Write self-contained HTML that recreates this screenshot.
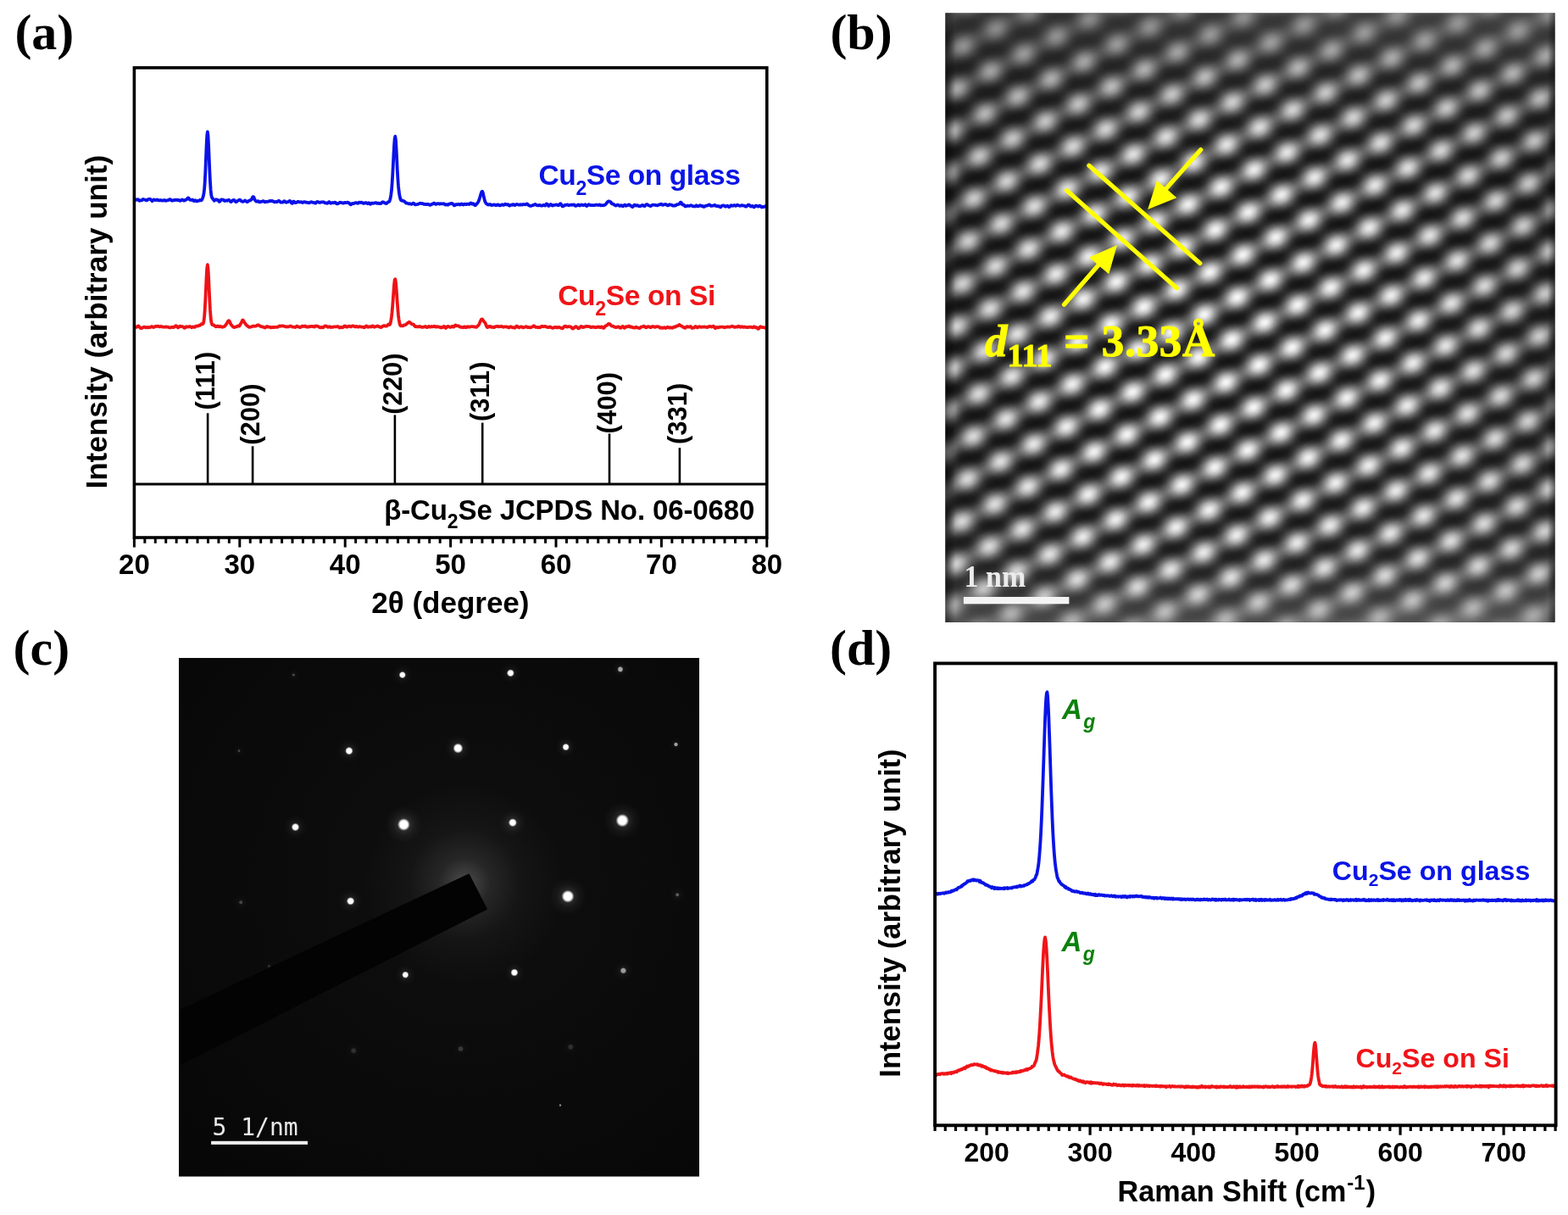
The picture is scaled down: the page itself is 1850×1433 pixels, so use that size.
<!DOCTYPE html><html><head><meta charset="utf-8"><title>Cu2Se characterization</title>
<style>html,body{margin:0;padding:0;background:#fff}svg{display:block}.fr{mix-blend-mode:plus-lighter}@supports not (mix-blend-mode:plus-lighter){.fr{mix-blend-mode:screen}}</style></head><body>
<svg width="1850" height="1433" viewBox="0 0 1850 1433">
<rect width="1850" height="1433" fill="#fff"/>
<defs><clipPath id="cb"><rect x="1115.3" y="15.2" width="719.4" height="718.7"/></clipPath>
<linearGradient id="fr0" gradientUnits="userSpaceOnUse" x1="1492.03" y1="380.34" x2="1511.27" y2="416.9" spreadMethod="repeat"><stop offset="0" stop-color="rgb(142,142,142)"/><stop offset="0.06" stop-color="rgb(136,136,136)"/><stop offset="0.12" stop-color="rgb(121,121,121)"/><stop offset="0.19" stop-color="rgb(98,98,98)"/><stop offset="0.25" stop-color="rgb(71,71,71)"/><stop offset="0.31" stop-color="rgb(44,44,44)"/><stop offset="0.38" stop-color="rgb(21,21,21)"/><stop offset="0.44" stop-color="rgb(5,5,5)"/><stop offset="0.5" stop-color="rgb(0,0,0)"/><stop offset="0.56" stop-color="rgb(5,5,5)"/><stop offset="0.62" stop-color="rgb(21,21,21)"/><stop offset="0.69" stop-color="rgb(44,44,44)"/><stop offset="0.75" stop-color="rgb(71,71,71)"/><stop offset="0.81" stop-color="rgb(98,98,98)"/><stop offset="0.88" stop-color="rgb(121,121,121)"/><stop offset="0.94" stop-color="rgb(136,136,136)"/><stop offset="1" stop-color="rgb(142,142,142)"/></linearGradient>
<linearGradient id="fr1" gradientUnits="userSpaceOnUse" x1="1492.03" y1="380.34" x2="1520.05" y2="349.79" spreadMethod="repeat"><stop offset="0" stop-color="rgb(73,73,73)"/><stop offset="0.06" stop-color="rgb(70,70,70)"/><stop offset="0.12" stop-color="rgb(62,62,62)"/><stop offset="0.19" stop-color="rgb(50,50,50)"/><stop offset="0.25" stop-color="rgb(36,36,36)"/><stop offset="0.31" stop-color="rgb(22,22,22)"/><stop offset="0.38" stop-color="rgb(11,11,11)"/><stop offset="0.44" stop-color="rgb(3,3,3)"/><stop offset="0.5" stop-color="rgb(0,0,0)"/><stop offset="0.56" stop-color="rgb(3,3,3)"/><stop offset="0.62" stop-color="rgb(11,11,11)"/><stop offset="0.69" stop-color="rgb(22,22,22)"/><stop offset="0.75" stop-color="rgb(36,36,36)"/><stop offset="0.81" stop-color="rgb(50,50,50)"/><stop offset="0.88" stop-color="rgb(62,62,62)"/><stop offset="0.94" stop-color="rgb(70,70,70)"/><stop offset="1" stop-color="rgb(73,73,73)"/></linearGradient>
<linearGradient id="fr2" gradientUnits="userSpaceOnUse" x1="1492.03" y1="380.34" x2="1527.67" y2="385.05" spreadMethod="repeat"><stop offset="0" stop-color="rgb(40,40,40)"/><stop offset="0.06" stop-color="rgb(39,39,39)"/><stop offset="0.12" stop-color="rgb(35,35,35)"/><stop offset="0.19" stop-color="rgb(28,28,28)"/><stop offset="0.25" stop-color="rgb(20,20,20)"/><stop offset="0.31" stop-color="rgb(12,12,12)"/><stop offset="0.38" stop-color="rgb(6,6,6)"/><stop offset="0.44" stop-color="rgb(2,2,2)"/><stop offset="0.5" stop-color="rgb(0,0,0)"/><stop offset="0.56" stop-color="rgb(2,2,2)"/><stop offset="0.62" stop-color="rgb(6,6,6)"/><stop offset="0.69" stop-color="rgb(12,12,12)"/><stop offset="0.75" stop-color="rgb(20,20,20)"/><stop offset="0.81" stop-color="rgb(28,28,28)"/><stop offset="0.88" stop-color="rgb(35,35,35)"/><stop offset="0.94" stop-color="rgb(39,39,39)"/><stop offset="1" stop-color="rgb(40,40,40)"/></linearGradient>
<filter id="hct" x="0" y="0" width="1" height="1" color-interpolation-filters="sRGB"><feComponentTransfer><feFuncR type="table" tableValues="0 0 0 0 0 0 0.02 0.04 0.07 0.1 0.13 0.16 0.2 0.23 0.27 0.3 0.34 0.38 0.41 0.45 0.49 0.53 0.57 0.61 0.65 0.7 0.74 0.78 0.82 0.87 0.91 0.96 1"/><feFuncG type="table" tableValues="0 0 0 0 0 0 0.02 0.04 0.07 0.1 0.13 0.16 0.2 0.23 0.27 0.3 0.34 0.38 0.41 0.45 0.49 0.53 0.57 0.61 0.65 0.7 0.74 0.78 0.82 0.87 0.91 0.96 1"/><feFuncB type="table" tableValues="0 0 0 0 0 0 0.02 0.04 0.07 0.1 0.13 0.16 0.2 0.23 0.27 0.3 0.34 0.38 0.41 0.45 0.49 0.53 0.57 0.61 0.65 0.7 0.74 0.78 0.82 0.87 0.91 0.96 1"/></feComponentTransfer></filter>
<filter id="mbl" x="-0.1" y="-0.1" width="1.2" height="1.2" color-interpolation-filters="sRGB"><feGaussianBlur stdDeviation="18"/></filter>
</defs>
<g clip-path="url(#cb)"><g style="isolation:isolate">
<g filter="url(#hct)">
<rect x="1115.3" y="15.2" width="719.4" height="718.7" fill="#000"/>
<rect x="1115.3" y="15.2" width="719.4" height="718.7" fill="url(#fr0)" class="fr"/>
<rect x="1115.3" y="15.2" width="719.4" height="718.7" fill="url(#fr1)" class="fr"/>
<rect x="1115.3" y="15.2" width="719.4" height="718.7" fill="url(#fr2)" class="fr"/>
</g>
<g filter="url(#mbl)" style="mix-blend-mode:multiply">
<rect x="1055.3" y="-44.8" width="30.5" height="30.5" fill="rgb(77,77,77)"/>
<rect x="1085.3" y="-44.8" width="30.5" height="30.5" fill="rgb(77,77,77)"/>
<rect x="1115.3" y="-44.8" width="30.5" height="30.5" fill="rgb(77,77,77)"/>
<rect x="1145.3" y="-44.8" width="30.5" height="30.5" fill="rgb(77,77,77)"/>
<rect x="1175.3" y="-44.8" width="30.5" height="30.5" fill="rgb(77,77,77)"/>
<rect x="1205.3" y="-44.8" width="30.5" height="30.5" fill="rgb(78,78,78)"/>
<rect x="1235.3" y="-44.8" width="30.5" height="30.5" fill="rgb(78,78,78)"/>
<rect x="1265.3" y="-44.8" width="30.5" height="30.5" fill="rgb(78,78,78)"/>
<rect x="1295.3" y="-44.8" width="30.5" height="30.5" fill="rgb(78,78,78)"/>
<rect x="1325.3" y="-44.8" width="30.5" height="30.5" fill="rgb(78,78,78)"/>
<rect x="1355.3" y="-44.8" width="30.5" height="30.5" fill="rgb(78,78,78)"/>
<rect x="1385.3" y="-44.8" width="30.5" height="30.5" fill="rgb(77,77,77)"/>
<rect x="1415.3" y="-44.8" width="30.5" height="30.5" fill="rgb(77,77,77)"/>
<rect x="1445.3" y="-44.8" width="30.5" height="30.5" fill="rgb(77,77,77)"/>
<rect x="1475.3" y="-44.8" width="30.5" height="30.5" fill="rgb(77,77,77)"/>
<rect x="1505.3" y="-44.8" width="30.5" height="30.5" fill="rgb(76,76,76)"/>
<rect x="1535.3" y="-44.8" width="30.5" height="30.5" fill="rgb(76,76,76)"/>
<rect x="1565.3" y="-44.8" width="30.5" height="30.5" fill="rgb(76,76,76)"/>
<rect x="1595.3" y="-44.8" width="30.5" height="30.5" fill="rgb(75,75,75)"/>
<rect x="1625.3" y="-44.8" width="30.5" height="30.5" fill="rgb(75,75,75)"/>
<rect x="1655.3" y="-44.8" width="30.5" height="30.5" fill="rgb(75,75,75)"/>
<rect x="1685.3" y="-44.8" width="30.5" height="30.5" fill="rgb(74,74,74)"/>
<rect x="1715.3" y="-44.8" width="30.5" height="30.5" fill="rgb(73,73,73)"/>
<rect x="1745.3" y="-44.8" width="30.5" height="30.5" fill="rgb(72,72,72)"/>
<rect x="1775.3" y="-44.8" width="30.5" height="30.5" fill="rgb(71,71,71)"/>
<rect x="1805.3" y="-44.8" width="30.5" height="30.5" fill="rgb(70,70,70)"/>
<rect x="1835.3" y="-44.8" width="30.5" height="30.5" fill="rgb(70,70,70)"/>
<rect x="1865.3" y="-44.8" width="30.5" height="30.5" fill="rgb(70,70,70)"/>
<rect x="1055.3" y="-14.8" width="30.5" height="30.5" fill="rgb(77,77,77)"/>
<rect x="1085.3" y="-14.8" width="30.5" height="30.5" fill="rgb(77,77,77)"/>
<rect x="1115.3" y="-14.8" width="30.5" height="30.5" fill="rgb(77,77,77)"/>
<rect x="1145.3" y="-14.8" width="30.5" height="30.5" fill="rgb(77,77,77)"/>
<rect x="1175.3" y="-14.8" width="30.5" height="30.5" fill="rgb(77,77,77)"/>
<rect x="1205.3" y="-14.8" width="30.5" height="30.5" fill="rgb(78,78,78)"/>
<rect x="1235.3" y="-14.8" width="30.5" height="30.5" fill="rgb(78,78,78)"/>
<rect x="1265.3" y="-14.8" width="30.5" height="30.5" fill="rgb(78,78,78)"/>
<rect x="1295.3" y="-14.8" width="30.5" height="30.5" fill="rgb(78,78,78)"/>
<rect x="1325.3" y="-14.8" width="30.5" height="30.5" fill="rgb(78,78,78)"/>
<rect x="1355.3" y="-14.8" width="30.5" height="30.5" fill="rgb(78,78,78)"/>
<rect x="1385.3" y="-14.8" width="30.5" height="30.5" fill="rgb(77,77,77)"/>
<rect x="1415.3" y="-14.8" width="30.5" height="30.5" fill="rgb(77,77,77)"/>
<rect x="1445.3" y="-14.8" width="30.5" height="30.5" fill="rgb(77,77,77)"/>
<rect x="1475.3" y="-14.8" width="30.5" height="30.5" fill="rgb(77,77,77)"/>
<rect x="1505.3" y="-14.8" width="30.5" height="30.5" fill="rgb(76,76,76)"/>
<rect x="1535.3" y="-14.8" width="30.5" height="30.5" fill="rgb(76,76,76)"/>
<rect x="1565.3" y="-14.8" width="30.5" height="30.5" fill="rgb(76,76,76)"/>
<rect x="1595.3" y="-14.8" width="30.5" height="30.5" fill="rgb(75,75,75)"/>
<rect x="1625.3" y="-14.8" width="30.5" height="30.5" fill="rgb(75,75,75)"/>
<rect x="1655.3" y="-14.8" width="30.5" height="30.5" fill="rgb(75,75,75)"/>
<rect x="1685.3" y="-14.8" width="30.5" height="30.5" fill="rgb(74,74,74)"/>
<rect x="1715.3" y="-14.8" width="30.5" height="30.5" fill="rgb(73,73,73)"/>
<rect x="1745.3" y="-14.8" width="30.5" height="30.5" fill="rgb(72,72,72)"/>
<rect x="1775.3" y="-14.8" width="30.5" height="30.5" fill="rgb(71,71,71)"/>
<rect x="1805.3" y="-14.8" width="30.5" height="30.5" fill="rgb(70,70,70)"/>
<rect x="1835.3" y="-14.8" width="30.5" height="30.5" fill="rgb(70,70,70)"/>
<rect x="1865.3" y="-14.8" width="30.5" height="30.5" fill="rgb(70,70,70)"/>
<rect x="1055.3" y="15.2" width="30.5" height="30.5" fill="rgb(88,88,88)"/>
<rect x="1085.3" y="15.2" width="30.5" height="30.5" fill="rgb(88,88,88)"/>
<rect x="1115.3" y="15.2" width="30.5" height="30.5" fill="rgb(88,88,88)"/>
<rect x="1145.3" y="15.2" width="30.5" height="30.5" fill="rgb(89,89,89)"/>
<rect x="1175.3" y="15.2" width="30.5" height="30.5" fill="rgb(89,89,89)"/>
<rect x="1205.3" y="15.2" width="30.5" height="30.5" fill="rgb(90,90,90)"/>
<rect x="1235.3" y="15.2" width="30.5" height="30.5" fill="rgb(90,90,90)"/>
<rect x="1265.3" y="15.2" width="30.5" height="30.5" fill="rgb(91,91,91)"/>
<rect x="1295.3" y="15.2" width="30.5" height="30.5" fill="rgb(91,91,91)"/>
<rect x="1325.3" y="15.2" width="30.5" height="30.5" fill="rgb(91,91,91)"/>
<rect x="1355.3" y="15.2" width="30.5" height="30.5" fill="rgb(91,91,91)"/>
<rect x="1385.3" y="15.2" width="30.5" height="30.5" fill="rgb(91,91,91)"/>
<rect x="1415.3" y="15.2" width="30.5" height="30.5" fill="rgb(91,91,91)"/>
<rect x="1445.3" y="15.2" width="30.5" height="30.5" fill="rgb(91,91,91)"/>
<rect x="1475.3" y="15.2" width="30.5" height="30.5" fill="rgb(91,91,91)"/>
<rect x="1505.3" y="15.2" width="30.5" height="30.5" fill="rgb(90,90,90)"/>
<rect x="1535.3" y="15.2" width="30.5" height="30.5" fill="rgb(90,90,90)"/>
<rect x="1565.3" y="15.2" width="30.5" height="30.5" fill="rgb(89,89,89)"/>
<rect x="1595.3" y="15.2" width="30.5" height="30.5" fill="rgb(89,89,89)"/>
<rect x="1625.3" y="15.2" width="30.5" height="30.5" fill="rgb(89,89,89)"/>
<rect x="1655.3" y="15.2" width="30.5" height="30.5" fill="rgb(88,88,88)"/>
<rect x="1685.3" y="15.2" width="30.5" height="30.5" fill="rgb(87,87,87)"/>
<rect x="1715.3" y="15.2" width="30.5" height="30.5" fill="rgb(87,87,87)"/>
<rect x="1745.3" y="15.2" width="30.5" height="30.5" fill="rgb(86,86,86)"/>
<rect x="1775.3" y="15.2" width="30.5" height="30.5" fill="rgb(85,85,85)"/>
<rect x="1805.3" y="15.2" width="30.5" height="30.5" fill="rgb(85,85,85)"/>
<rect x="1835.3" y="15.2" width="30.5" height="30.5" fill="rgb(84,84,84)"/>
<rect x="1865.3" y="15.2" width="30.5" height="30.5" fill="rgb(84,84,84)"/>
<rect x="1055.3" y="45.2" width="30.5" height="30.5" fill="rgb(110,110,110)"/>
<rect x="1085.3" y="45.2" width="30.5" height="30.5" fill="rgb(110,110,110)"/>
<rect x="1115.3" y="45.2" width="30.5" height="30.5" fill="rgb(111,111,111)"/>
<rect x="1145.3" y="45.2" width="30.5" height="30.5" fill="rgb(112,112,112)"/>
<rect x="1175.3" y="45.2" width="30.5" height="30.5" fill="rgb(113,113,113)"/>
<rect x="1205.3" y="45.2" width="30.5" height="30.5" fill="rgb(114,114,114)"/>
<rect x="1235.3" y="45.2" width="30.5" height="30.5" fill="rgb(115,115,115)"/>
<rect x="1265.3" y="45.2" width="30.5" height="30.5" fill="rgb(117,117,117)"/>
<rect x="1295.3" y="45.2" width="30.5" height="30.5" fill="rgb(117,117,117)"/>
<rect x="1325.3" y="45.2" width="30.5" height="30.5" fill="rgb(117,117,117)"/>
<rect x="1355.3" y="45.2" width="30.5" height="30.5" fill="rgb(118,118,118)"/>
<rect x="1385.3" y="45.2" width="30.5" height="30.5" fill="rgb(118,118,118)"/>
<rect x="1415.3" y="45.2" width="30.5" height="30.5" fill="rgb(118,118,118)"/>
<rect x="1445.3" y="45.2" width="30.5" height="30.5" fill="rgb(118,118,118)"/>
<rect x="1475.3" y="45.2" width="30.5" height="30.5" fill="rgb(118,118,118)"/>
<rect x="1505.3" y="45.2" width="30.5" height="30.5" fill="rgb(118,118,118)"/>
<rect x="1535.3" y="45.2" width="30.5" height="30.5" fill="rgb(117,117,117)"/>
<rect x="1565.3" y="45.2" width="30.5" height="30.5" fill="rgb(116,116,116)"/>
<rect x="1595.3" y="45.2" width="30.5" height="30.5" fill="rgb(116,116,116)"/>
<rect x="1625.3" y="45.2" width="30.5" height="30.5" fill="rgb(115,115,115)"/>
<rect x="1655.3" y="45.2" width="30.5" height="30.5" fill="rgb(115,115,115)"/>
<rect x="1685.3" y="45.2" width="30.5" height="30.5" fill="rgb(114,114,114)"/>
<rect x="1715.3" y="45.2" width="30.5" height="30.5" fill="rgb(114,114,114)"/>
<rect x="1745.3" y="45.2" width="30.5" height="30.5" fill="rgb(113,113,113)"/>
<rect x="1775.3" y="45.2" width="30.5" height="30.5" fill="rgb(113,113,113)"/>
<rect x="1805.3" y="45.2" width="30.5" height="30.5" fill="rgb(112,112,112)"/>
<rect x="1835.3" y="45.2" width="30.5" height="30.5" fill="rgb(112,112,112)"/>
<rect x="1865.3" y="45.2" width="30.5" height="30.5" fill="rgb(112,112,112)"/>
<rect x="1055.3" y="75.2" width="30.5" height="30.5" fill="rgb(133,133,133)"/>
<rect x="1085.3" y="75.2" width="30.5" height="30.5" fill="rgb(133,133,133)"/>
<rect x="1115.3" y="75.2" width="30.5" height="30.5" fill="rgb(134,134,134)"/>
<rect x="1145.3" y="75.2" width="30.5" height="30.5" fill="rgb(136,136,136)"/>
<rect x="1175.3" y="75.2" width="30.5" height="30.5" fill="rgb(138,138,138)"/>
<rect x="1205.3" y="75.2" width="30.5" height="30.5" fill="rgb(140,140,140)"/>
<rect x="1235.3" y="75.2" width="30.5" height="30.5" fill="rgb(142,142,142)"/>
<rect x="1265.3" y="75.2" width="30.5" height="30.5" fill="rgb(145,145,145)"/>
<rect x="1295.3" y="75.2" width="30.5" height="30.5" fill="rgb(147,147,147)"/>
<rect x="1325.3" y="75.2" width="30.5" height="30.5" fill="rgb(149,149,149)"/>
<rect x="1355.3" y="75.2" width="30.5" height="30.5" fill="rgb(151,151,151)"/>
<rect x="1385.3" y="75.2" width="30.5" height="30.5" fill="rgb(152,152,152)"/>
<rect x="1415.3" y="75.2" width="30.5" height="30.5" fill="rgb(154,154,154)"/>
<rect x="1445.3" y="75.2" width="30.5" height="30.5" fill="rgb(156,156,156)"/>
<rect x="1475.3" y="75.2" width="30.5" height="30.5" fill="rgb(157,157,157)"/>
<rect x="1505.3" y="75.2" width="30.5" height="30.5" fill="rgb(156,156,156)"/>
<rect x="1535.3" y="75.2" width="30.5" height="30.5" fill="rgb(155,155,155)"/>
<rect x="1565.3" y="75.2" width="30.5" height="30.5" fill="rgb(155,155,155)"/>
<rect x="1595.3" y="75.2" width="30.5" height="30.5" fill="rgb(154,154,154)"/>
<rect x="1625.3" y="75.2" width="30.5" height="30.5" fill="rgb(153,153,153)"/>
<rect x="1655.3" y="75.2" width="30.5" height="30.5" fill="rgb(152,152,152)"/>
<rect x="1685.3" y="75.2" width="30.5" height="30.5" fill="rgb(150,150,150)"/>
<rect x="1715.3" y="75.2" width="30.5" height="30.5" fill="rgb(148,148,148)"/>
<rect x="1745.3" y="75.2" width="30.5" height="30.5" fill="rgb(146,146,146)"/>
<rect x="1775.3" y="75.2" width="30.5" height="30.5" fill="rgb(144,144,144)"/>
<rect x="1805.3" y="75.2" width="30.5" height="30.5" fill="rgb(142,142,142)"/>
<rect x="1835.3" y="75.2" width="30.5" height="30.5" fill="rgb(141,141,141)"/>
<rect x="1865.3" y="75.2" width="30.5" height="30.5" fill="rgb(141,141,141)"/>
<rect x="1055.3" y="105.2" width="30.5" height="30.5" fill="rgb(146,146,146)"/>
<rect x="1085.3" y="105.2" width="30.5" height="30.5" fill="rgb(146,146,146)"/>
<rect x="1115.3" y="105.2" width="30.5" height="30.5" fill="rgb(148,148,148)"/>
<rect x="1145.3" y="105.2" width="30.5" height="30.5" fill="rgb(151,151,151)"/>
<rect x="1175.3" y="105.2" width="30.5" height="30.5" fill="rgb(154,154,154)"/>
<rect x="1205.3" y="105.2" width="30.5" height="30.5" fill="rgb(158,158,158)"/>
<rect x="1235.3" y="105.2" width="30.5" height="30.5" fill="rgb(161,161,161)"/>
<rect x="1265.3" y="105.2" width="30.5" height="30.5" fill="rgb(164,164,164)"/>
<rect x="1295.3" y="105.2" width="30.5" height="30.5" fill="rgb(167,167,167)"/>
<rect x="1325.3" y="105.2" width="30.5" height="30.5" fill="rgb(170,170,170)"/>
<rect x="1355.3" y="105.2" width="30.5" height="30.5" fill="rgb(172,172,172)"/>
<rect x="1385.3" y="105.2" width="30.5" height="30.5" fill="rgb(174,174,174)"/>
<rect x="1415.3" y="105.2" width="30.5" height="30.5" fill="rgb(177,177,177)"/>
<rect x="1445.3" y="105.2" width="30.5" height="30.5" fill="rgb(179,179,179)"/>
<rect x="1475.3" y="105.2" width="30.5" height="30.5" fill="rgb(180,180,180)"/>
<rect x="1505.3" y="105.2" width="30.5" height="30.5" fill="rgb(178,178,178)"/>
<rect x="1535.3" y="105.2" width="30.5" height="30.5" fill="rgb(177,177,177)"/>
<rect x="1565.3" y="105.2" width="30.5" height="30.5" fill="rgb(176,176,176)"/>
<rect x="1595.3" y="105.2" width="30.5" height="30.5" fill="rgb(175,175,175)"/>
<rect x="1625.3" y="105.2" width="30.5" height="30.5" fill="rgb(174,174,174)"/>
<rect x="1655.3" y="105.2" width="30.5" height="30.5" fill="rgb(171,171,171)"/>
<rect x="1685.3" y="105.2" width="30.5" height="30.5" fill="rgb(168,168,168)"/>
<rect x="1715.3" y="105.2" width="30.5" height="30.5" fill="rgb(165,165,165)"/>
<rect x="1745.3" y="105.2" width="30.5" height="30.5" fill="rgb(162,162,162)"/>
<rect x="1775.3" y="105.2" width="30.5" height="30.5" fill="rgb(159,159,159)"/>
<rect x="1805.3" y="105.2" width="30.5" height="30.5" fill="rgb(156,156,156)"/>
<rect x="1835.3" y="105.2" width="30.5" height="30.5" fill="rgb(154,154,154)"/>
<rect x="1865.3" y="105.2" width="30.5" height="30.5" fill="rgb(154,154,154)"/>
<rect x="1055.3" y="135.2" width="30.5" height="30.5" fill="rgb(155,155,155)"/>
<rect x="1085.3" y="135.2" width="30.5" height="30.5" fill="rgb(155,155,155)"/>
<rect x="1115.3" y="135.2" width="30.5" height="30.5" fill="rgb(157,157,157)"/>
<rect x="1145.3" y="135.2" width="30.5" height="30.5" fill="rgb(162,162,162)"/>
<rect x="1175.3" y="135.2" width="30.5" height="30.5" fill="rgb(167,167,167)"/>
<rect x="1205.3" y="135.2" width="30.5" height="30.5" fill="rgb(171,171,171)"/>
<rect x="1235.3" y="135.2" width="30.5" height="30.5" fill="rgb(176,176,176)"/>
<rect x="1265.3" y="135.2" width="30.5" height="30.5" fill="rgb(180,180,180)"/>
<rect x="1295.3" y="135.2" width="30.5" height="30.5" fill="rgb(184,184,184)"/>
<rect x="1325.3" y="135.2" width="30.5" height="30.5" fill="rgb(186,186,186)"/>
<rect x="1355.3" y="135.2" width="30.5" height="30.5" fill="rgb(188,188,188)"/>
<rect x="1385.3" y="135.2" width="30.5" height="30.5" fill="rgb(190,190,190)"/>
<rect x="1415.3" y="135.2" width="30.5" height="30.5" fill="rgb(192,192,192)"/>
<rect x="1445.3" y="135.2" width="30.5" height="30.5" fill="rgb(194,194,194)"/>
<rect x="1475.3" y="135.2" width="30.5" height="30.5" fill="rgb(194,194,194)"/>
<rect x="1505.3" y="135.2" width="30.5" height="30.5" fill="rgb(193,193,193)"/>
<rect x="1535.3" y="135.2" width="30.5" height="30.5" fill="rgb(191,191,191)"/>
<rect x="1565.3" y="135.2" width="30.5" height="30.5" fill="rgb(189,189,189)"/>
<rect x="1595.3" y="135.2" width="30.5" height="30.5" fill="rgb(188,188,188)"/>
<rect x="1625.3" y="135.2" width="30.5" height="30.5" fill="rgb(186,186,186)"/>
<rect x="1655.3" y="135.2" width="30.5" height="30.5" fill="rgb(183,183,183)"/>
<rect x="1685.3" y="135.2" width="30.5" height="30.5" fill="rgb(179,179,179)"/>
<rect x="1715.3" y="135.2" width="30.5" height="30.5" fill="rgb(175,175,175)"/>
<rect x="1745.3" y="135.2" width="30.5" height="30.5" fill="rgb(170,170,170)"/>
<rect x="1775.3" y="135.2" width="30.5" height="30.5" fill="rgb(166,166,166)"/>
<rect x="1805.3" y="135.2" width="30.5" height="30.5" fill="rgb(162,162,162)"/>
<rect x="1835.3" y="135.2" width="30.5" height="30.5" fill="rgb(160,160,160)"/>
<rect x="1865.3" y="135.2" width="30.5" height="30.5" fill="rgb(160,160,160)"/>
<rect x="1055.3" y="165.2" width="30.5" height="30.5" fill="rgb(164,164,164)"/>
<rect x="1085.3" y="165.2" width="30.5" height="30.5" fill="rgb(164,164,164)"/>
<rect x="1115.3" y="165.2" width="30.5" height="30.5" fill="rgb(167,167,167)"/>
<rect x="1145.3" y="165.2" width="30.5" height="30.5" fill="rgb(173,173,173)"/>
<rect x="1175.3" y="165.2" width="30.5" height="30.5" fill="rgb(179,179,179)"/>
<rect x="1205.3" y="165.2" width="30.5" height="30.5" fill="rgb(185,185,185)"/>
<rect x="1235.3" y="165.2" width="30.5" height="30.5" fill="rgb(190,190,190)"/>
<rect x="1265.3" y="165.2" width="30.5" height="30.5" fill="rgb(196,196,196)"/>
<rect x="1295.3" y="165.2" width="30.5" height="30.5" fill="rgb(200,200,200)"/>
<rect x="1325.3" y="165.2" width="30.5" height="30.5" fill="rgb(202,202,202)"/>
<rect x="1355.3" y="165.2" width="30.5" height="30.5" fill="rgb(204,204,204)"/>
<rect x="1385.3" y="165.2" width="30.5" height="30.5" fill="rgb(206,206,206)"/>
<rect x="1415.3" y="165.2" width="30.5" height="30.5" fill="rgb(207,207,207)"/>
<rect x="1445.3" y="165.2" width="30.5" height="30.5" fill="rgb(209,209,209)"/>
<rect x="1475.3" y="165.2" width="30.5" height="30.5" fill="rgb(209,209,209)"/>
<rect x="1505.3" y="165.2" width="30.5" height="30.5" fill="rgb(207,207,207)"/>
<rect x="1535.3" y="165.2" width="30.5" height="30.5" fill="rgb(205,205,205)"/>
<rect x="1565.3" y="165.2" width="30.5" height="30.5" fill="rgb(202,202,202)"/>
<rect x="1595.3" y="165.2" width="30.5" height="30.5" fill="rgb(200,200,200)"/>
<rect x="1625.3" y="165.2" width="30.5" height="30.5" fill="rgb(198,198,198)"/>
<rect x="1655.3" y="165.2" width="30.5" height="30.5" fill="rgb(194,194,194)"/>
<rect x="1685.3" y="165.2" width="30.5" height="30.5" fill="rgb(189,189,189)"/>
<rect x="1715.3" y="165.2" width="30.5" height="30.5" fill="rgb(184,184,184)"/>
<rect x="1745.3" y="165.2" width="30.5" height="30.5" fill="rgb(179,179,179)"/>
<rect x="1775.3" y="165.2" width="30.5" height="30.5" fill="rgb(174,174,174)"/>
<rect x="1805.3" y="165.2" width="30.5" height="30.5" fill="rgb(169,169,169)"/>
<rect x="1835.3" y="165.2" width="30.5" height="30.5" fill="rgb(166,166,166)"/>
<rect x="1865.3" y="165.2" width="30.5" height="30.5" fill="rgb(166,166,166)"/>
<rect x="1055.3" y="195.2" width="30.5" height="30.5" fill="rgb(171,171,171)"/>
<rect x="1085.3" y="195.2" width="30.5" height="30.5" fill="rgb(171,171,171)"/>
<rect x="1115.3" y="195.2" width="30.5" height="30.5" fill="rgb(174,174,174)"/>
<rect x="1145.3" y="195.2" width="30.5" height="30.5" fill="rgb(181,181,181)"/>
<rect x="1175.3" y="195.2" width="30.5" height="30.5" fill="rgb(188,188,188)"/>
<rect x="1205.3" y="195.2" width="30.5" height="30.5" fill="rgb(194,194,194)"/>
<rect x="1235.3" y="195.2" width="30.5" height="30.5" fill="rgb(201,201,201)"/>
<rect x="1265.3" y="195.2" width="30.5" height="30.5" fill="rgb(208,208,208)"/>
<rect x="1295.3" y="195.2" width="30.5" height="30.5" fill="rgb(212,212,212)"/>
<rect x="1325.3" y="195.2" width="30.5" height="30.5" fill="rgb(213,213,213)"/>
<rect x="1355.3" y="195.2" width="30.5" height="30.5" fill="rgb(215,215,215)"/>
<rect x="1385.3" y="195.2" width="30.5" height="30.5" fill="rgb(217,217,217)"/>
<rect x="1415.3" y="195.2" width="30.5" height="30.5" fill="rgb(218,218,218)"/>
<rect x="1445.3" y="195.2" width="30.5" height="30.5" fill="rgb(220,220,220)"/>
<rect x="1475.3" y="195.2" width="30.5" height="30.5" fill="rgb(219,219,219)"/>
<rect x="1505.3" y="195.2" width="30.5" height="30.5" fill="rgb(217,217,217)"/>
<rect x="1535.3" y="195.2" width="30.5" height="30.5" fill="rgb(214,214,214)"/>
<rect x="1565.3" y="195.2" width="30.5" height="30.5" fill="rgb(212,212,212)"/>
<rect x="1595.3" y="195.2" width="30.5" height="30.5" fill="rgb(209,209,209)"/>
<rect x="1625.3" y="195.2" width="30.5" height="30.5" fill="rgb(207,207,207)"/>
<rect x="1655.3" y="195.2" width="30.5" height="30.5" fill="rgb(203,203,203)"/>
<rect x="1685.3" y="195.2" width="30.5" height="30.5" fill="rgb(197,197,197)"/>
<rect x="1715.3" y="195.2" width="30.5" height="30.5" fill="rgb(191,191,191)"/>
<rect x="1745.3" y="195.2" width="30.5" height="30.5" fill="rgb(185,185,185)"/>
<rect x="1775.3" y="195.2" width="30.5" height="30.5" fill="rgb(179,179,179)"/>
<rect x="1805.3" y="195.2" width="30.5" height="30.5" fill="rgb(173,173,173)"/>
<rect x="1835.3" y="195.2" width="30.5" height="30.5" fill="rgb(170,170,170)"/>
<rect x="1865.3" y="195.2" width="30.5" height="30.5" fill="rgb(170,170,170)"/>
<rect x="1055.3" y="225.2" width="30.5" height="30.5" fill="rgb(173,173,173)"/>
<rect x="1085.3" y="225.2" width="30.5" height="30.5" fill="rgb(173,173,173)"/>
<rect x="1115.3" y="225.2" width="30.5" height="30.5" fill="rgb(177,177,177)"/>
<rect x="1145.3" y="225.2" width="30.5" height="30.5" fill="rgb(184,184,184)"/>
<rect x="1175.3" y="225.2" width="30.5" height="30.5" fill="rgb(190,190,190)"/>
<rect x="1205.3" y="225.2" width="30.5" height="30.5" fill="rgb(197,197,197)"/>
<rect x="1235.3" y="225.2" width="30.5" height="30.5" fill="rgb(204,204,204)"/>
<rect x="1265.3" y="225.2" width="30.5" height="30.5" fill="rgb(210,210,210)"/>
<rect x="1295.3" y="225.2" width="30.5" height="30.5" fill="rgb(214,214,214)"/>
<rect x="1325.3" y="225.2" width="30.5" height="30.5" fill="rgb(216,216,216)"/>
<rect x="1355.3" y="225.2" width="30.5" height="30.5" fill="rgb(217,217,217)"/>
<rect x="1385.3" y="225.2" width="30.5" height="30.5" fill="rgb(219,219,219)"/>
<rect x="1415.3" y="225.2" width="30.5" height="30.5" fill="rgb(220,220,220)"/>
<rect x="1445.3" y="225.2" width="30.5" height="30.5" fill="rgb(222,222,222)"/>
<rect x="1475.3" y="225.2" width="30.5" height="30.5" fill="rgb(221,221,221)"/>
<rect x="1505.3" y="225.2" width="30.5" height="30.5" fill="rgb(219,219,219)"/>
<rect x="1535.3" y="225.2" width="30.5" height="30.5" fill="rgb(216,216,216)"/>
<rect x="1565.3" y="225.2" width="30.5" height="30.5" fill="rgb(214,214,214)"/>
<rect x="1595.3" y="225.2" width="30.5" height="30.5" fill="rgb(212,212,212)"/>
<rect x="1625.3" y="225.2" width="30.5" height="30.5" fill="rgb(209,209,209)"/>
<rect x="1655.3" y="225.2" width="30.5" height="30.5" fill="rgb(205,205,205)"/>
<rect x="1685.3" y="225.2" width="30.5" height="30.5" fill="rgb(198,198,198)"/>
<rect x="1715.3" y="225.2" width="30.5" height="30.5" fill="rgb(192,192,192)"/>
<rect x="1745.3" y="225.2" width="30.5" height="30.5" fill="rgb(186,186,186)"/>
<rect x="1775.3" y="225.2" width="30.5" height="30.5" fill="rgb(180,180,180)"/>
<rect x="1805.3" y="225.2" width="30.5" height="30.5" fill="rgb(173,173,173)"/>
<rect x="1835.3" y="225.2" width="30.5" height="30.5" fill="rgb(170,170,170)"/>
<rect x="1865.3" y="225.2" width="30.5" height="30.5" fill="rgb(170,170,170)"/>
<rect x="1055.3" y="255.2" width="30.5" height="30.5" fill="rgb(176,176,176)"/>
<rect x="1085.3" y="255.2" width="30.5" height="30.5" fill="rgb(176,176,176)"/>
<rect x="1115.3" y="255.2" width="30.5" height="30.5" fill="rgb(179,179,179)"/>
<rect x="1145.3" y="255.2" width="30.5" height="30.5" fill="rgb(186,186,186)"/>
<rect x="1175.3" y="255.2" width="30.5" height="30.5" fill="rgb(193,193,193)"/>
<rect x="1205.3" y="255.2" width="30.5" height="30.5" fill="rgb(199,199,199)"/>
<rect x="1235.3" y="255.2" width="30.5" height="30.5" fill="rgb(206,206,206)"/>
<rect x="1265.3" y="255.2" width="30.5" height="30.5" fill="rgb(213,213,213)"/>
<rect x="1295.3" y="255.2" width="30.5" height="30.5" fill="rgb(217,217,217)"/>
<rect x="1325.3" y="255.2" width="30.5" height="30.5" fill="rgb(218,218,218)"/>
<rect x="1355.3" y="255.2" width="30.5" height="30.5" fill="rgb(219,219,219)"/>
<rect x="1385.3" y="255.2" width="30.5" height="30.5" fill="rgb(221,221,221)"/>
<rect x="1415.3" y="255.2" width="30.5" height="30.5" fill="rgb(222,222,222)"/>
<rect x="1445.3" y="255.2" width="30.5" height="30.5" fill="rgb(223,223,223)"/>
<rect x="1475.3" y="255.2" width="30.5" height="30.5" fill="rgb(223,223,223)"/>
<rect x="1505.3" y="255.2" width="30.5" height="30.5" fill="rgb(221,221,221)"/>
<rect x="1535.3" y="255.2" width="30.5" height="30.5" fill="rgb(218,218,218)"/>
<rect x="1565.3" y="255.2" width="30.5" height="30.5" fill="rgb(216,216,216)"/>
<rect x="1595.3" y="255.2" width="30.5" height="30.5" fill="rgb(214,214,214)"/>
<rect x="1625.3" y="255.2" width="30.5" height="30.5" fill="rgb(211,211,211)"/>
<rect x="1655.3" y="255.2" width="30.5" height="30.5" fill="rgb(207,207,207)"/>
<rect x="1685.3" y="255.2" width="30.5" height="30.5" fill="rgb(200,200,200)"/>
<rect x="1715.3" y="255.2" width="30.5" height="30.5" fill="rgb(194,194,194)"/>
<rect x="1745.3" y="255.2" width="30.5" height="30.5" fill="rgb(187,187,187)"/>
<rect x="1775.3" y="255.2" width="30.5" height="30.5" fill="rgb(180,180,180)"/>
<rect x="1805.3" y="255.2" width="30.5" height="30.5" fill="rgb(174,174,174)"/>
<rect x="1835.3" y="255.2" width="30.5" height="30.5" fill="rgb(170,170,170)"/>
<rect x="1865.3" y="255.2" width="30.5" height="30.5" fill="rgb(170,170,170)"/>
<rect x="1055.3" y="285.2" width="30.5" height="30.5" fill="rgb(179,179,179)"/>
<rect x="1085.3" y="285.2" width="30.5" height="30.5" fill="rgb(179,179,179)"/>
<rect x="1115.3" y="285.2" width="30.5" height="30.5" fill="rgb(182,182,182)"/>
<rect x="1145.3" y="285.2" width="30.5" height="30.5" fill="rgb(189,189,189)"/>
<rect x="1175.3" y="285.2" width="30.5" height="30.5" fill="rgb(195,195,195)"/>
<rect x="1205.3" y="285.2" width="30.5" height="30.5" fill="rgb(202,202,202)"/>
<rect x="1235.3" y="285.2" width="30.5" height="30.5" fill="rgb(209,209,209)"/>
<rect x="1265.3" y="285.2" width="30.5" height="30.5" fill="rgb(215,215,215)"/>
<rect x="1295.3" y="285.2" width="30.5" height="30.5" fill="rgb(219,219,219)"/>
<rect x="1325.3" y="285.2" width="30.5" height="30.5" fill="rgb(220,220,220)"/>
<rect x="1355.3" y="285.2" width="30.5" height="30.5" fill="rgb(222,222,222)"/>
<rect x="1385.3" y="285.2" width="30.5" height="30.5" fill="rgb(223,223,223)"/>
<rect x="1415.3" y="285.2" width="30.5" height="30.5" fill="rgb(224,224,224)"/>
<rect x="1445.3" y="285.2" width="30.5" height="30.5" fill="rgb(225,225,225)"/>
<rect x="1475.3" y="285.2" width="30.5" height="30.5" fill="rgb(225,225,225)"/>
<rect x="1505.3" y="285.2" width="30.5" height="30.5" fill="rgb(222,222,222)"/>
<rect x="1535.3" y="285.2" width="30.5" height="30.5" fill="rgb(220,220,220)"/>
<rect x="1565.3" y="285.2" width="30.5" height="30.5" fill="rgb(218,218,218)"/>
<rect x="1595.3" y="285.2" width="30.5" height="30.5" fill="rgb(216,216,216)"/>
<rect x="1625.3" y="285.2" width="30.5" height="30.5" fill="rgb(214,214,214)"/>
<rect x="1655.3" y="285.2" width="30.5" height="30.5" fill="rgb(209,209,209)"/>
<rect x="1685.3" y="285.2" width="30.5" height="30.5" fill="rgb(202,202,202)"/>
<rect x="1715.3" y="285.2" width="30.5" height="30.5" fill="rgb(195,195,195)"/>
<rect x="1745.3" y="285.2" width="30.5" height="30.5" fill="rgb(188,188,188)"/>
<rect x="1775.3" y="285.2" width="30.5" height="30.5" fill="rgb(181,181,181)"/>
<rect x="1805.3" y="285.2" width="30.5" height="30.5" fill="rgb(174,174,174)"/>
<rect x="1835.3" y="285.2" width="30.5" height="30.5" fill="rgb(171,171,171)"/>
<rect x="1865.3" y="285.2" width="30.5" height="30.5" fill="rgb(171,171,171)"/>
<rect x="1055.3" y="315.2" width="30.5" height="30.5" fill="rgb(181,181,181)"/>
<rect x="1085.3" y="315.2" width="30.5" height="30.5" fill="rgb(181,181,181)"/>
<rect x="1115.3" y="315.2" width="30.5" height="30.5" fill="rgb(185,185,185)"/>
<rect x="1145.3" y="315.2" width="30.5" height="30.5" fill="rgb(191,191,191)"/>
<rect x="1175.3" y="315.2" width="30.5" height="30.5" fill="rgb(198,198,198)"/>
<rect x="1205.3" y="315.2" width="30.5" height="30.5" fill="rgb(205,205,205)"/>
<rect x="1235.3" y="315.2" width="30.5" height="30.5" fill="rgb(211,211,211)"/>
<rect x="1265.3" y="315.2" width="30.5" height="30.5" fill="rgb(218,218,218)"/>
<rect x="1295.3" y="315.2" width="30.5" height="30.5" fill="rgb(222,222,222)"/>
<rect x="1325.3" y="315.2" width="30.5" height="30.5" fill="rgb(223,223,223)"/>
<rect x="1355.3" y="315.2" width="30.5" height="30.5" fill="rgb(224,224,224)"/>
<rect x="1385.3" y="315.2" width="30.5" height="30.5" fill="rgb(225,225,225)"/>
<rect x="1415.3" y="315.2" width="30.5" height="30.5" fill="rgb(226,226,226)"/>
<rect x="1445.3" y="315.2" width="30.5" height="30.5" fill="rgb(227,227,227)"/>
<rect x="1475.3" y="315.2" width="30.5" height="30.5" fill="rgb(226,226,226)"/>
<rect x="1505.3" y="315.2" width="30.5" height="30.5" fill="rgb(224,224,224)"/>
<rect x="1535.3" y="315.2" width="30.5" height="30.5" fill="rgb(222,222,222)"/>
<rect x="1565.3" y="315.2" width="30.5" height="30.5" fill="rgb(220,220,220)"/>
<rect x="1595.3" y="315.2" width="30.5" height="30.5" fill="rgb(218,218,218)"/>
<rect x="1625.3" y="315.2" width="30.5" height="30.5" fill="rgb(216,216,216)"/>
<rect x="1655.3" y="315.2" width="30.5" height="30.5" fill="rgb(211,211,211)"/>
<rect x="1685.3" y="315.2" width="30.5" height="30.5" fill="rgb(204,204,204)"/>
<rect x="1715.3" y="315.2" width="30.5" height="30.5" fill="rgb(196,196,196)"/>
<rect x="1745.3" y="315.2" width="30.5" height="30.5" fill="rgb(189,189,189)"/>
<rect x="1775.3" y="315.2" width="30.5" height="30.5" fill="rgb(182,182,182)"/>
<rect x="1805.3" y="315.2" width="30.5" height="30.5" fill="rgb(174,174,174)"/>
<rect x="1835.3" y="315.2" width="30.5" height="30.5" fill="rgb(171,171,171)"/>
<rect x="1865.3" y="315.2" width="30.5" height="30.5" fill="rgb(171,171,171)"/>
<rect x="1055.3" y="345.2" width="30.5" height="30.5" fill="rgb(184,184,184)"/>
<rect x="1085.3" y="345.2" width="30.5" height="30.5" fill="rgb(184,184,184)"/>
<rect x="1115.3" y="345.2" width="30.5" height="30.5" fill="rgb(187,187,187)"/>
<rect x="1145.3" y="345.2" width="30.5" height="30.5" fill="rgb(194,194,194)"/>
<rect x="1175.3" y="345.2" width="30.5" height="30.5" fill="rgb(200,200,200)"/>
<rect x="1205.3" y="345.2" width="30.5" height="30.5" fill="rgb(207,207,207)"/>
<rect x="1235.3" y="345.2" width="30.5" height="30.5" fill="rgb(214,214,214)"/>
<rect x="1265.3" y="345.2" width="30.5" height="30.5" fill="rgb(220,220,220)"/>
<rect x="1295.3" y="345.2" width="30.5" height="30.5" fill="rgb(224,224,224)"/>
<rect x="1325.3" y="345.2" width="30.5" height="30.5" fill="rgb(225,225,225)"/>
<rect x="1355.3" y="345.2" width="30.5" height="30.5" fill="rgb(226,226,226)"/>
<rect x="1385.3" y="345.2" width="30.5" height="30.5" fill="rgb(227,227,227)"/>
<rect x="1415.3" y="345.2" width="30.5" height="30.5" fill="rgb(228,228,228)"/>
<rect x="1445.3" y="345.2" width="30.5" height="30.5" fill="rgb(229,229,229)"/>
<rect x="1475.3" y="345.2" width="30.5" height="30.5" fill="rgb(228,228,228)"/>
<rect x="1505.3" y="345.2" width="30.5" height="30.5" fill="rgb(226,226,226)"/>
<rect x="1535.3" y="345.2" width="30.5" height="30.5" fill="rgb(224,224,224)"/>
<rect x="1565.3" y="345.2" width="30.5" height="30.5" fill="rgb(222,222,222)"/>
<rect x="1595.3" y="345.2" width="30.5" height="30.5" fill="rgb(220,220,220)"/>
<rect x="1625.3" y="345.2" width="30.5" height="30.5" fill="rgb(218,218,218)"/>
<rect x="1655.3" y="345.2" width="30.5" height="30.5" fill="rgb(213,213,213)"/>
<rect x="1685.3" y="345.2" width="30.5" height="30.5" fill="rgb(205,205,205)"/>
<rect x="1715.3" y="345.2" width="30.5" height="30.5" fill="rgb(198,198,198)"/>
<rect x="1745.3" y="345.2" width="30.5" height="30.5" fill="rgb(190,190,190)"/>
<rect x="1775.3" y="345.2" width="30.5" height="30.5" fill="rgb(182,182,182)"/>
<rect x="1805.3" y="345.2" width="30.5" height="30.5" fill="rgb(175,175,175)"/>
<rect x="1835.3" y="345.2" width="30.5" height="30.5" fill="rgb(171,171,171)"/>
<rect x="1865.3" y="345.2" width="30.5" height="30.5" fill="rgb(171,171,171)"/>
<rect x="1055.3" y="375.2" width="30.5" height="30.5" fill="rgb(185,185,185)"/>
<rect x="1085.3" y="375.2" width="30.5" height="30.5" fill="rgb(185,185,185)"/>
<rect x="1115.3" y="375.2" width="30.5" height="30.5" fill="rgb(189,189,189)"/>
<rect x="1145.3" y="375.2" width="30.5" height="30.5" fill="rgb(195,195,195)"/>
<rect x="1175.3" y="375.2" width="30.5" height="30.5" fill="rgb(202,202,202)"/>
<rect x="1205.3" y="375.2" width="30.5" height="30.5" fill="rgb(209,209,209)"/>
<rect x="1235.3" y="375.2" width="30.5" height="30.5" fill="rgb(215,215,215)"/>
<rect x="1265.3" y="375.2" width="30.5" height="30.5" fill="rgb(222,222,222)"/>
<rect x="1295.3" y="375.2" width="30.5" height="30.5" fill="rgb(225,225,225)"/>
<rect x="1325.3" y="375.2" width="30.5" height="30.5" fill="rgb(226,226,226)"/>
<rect x="1355.3" y="375.2" width="30.5" height="30.5" fill="rgb(227,227,227)"/>
<rect x="1385.3" y="375.2" width="30.5" height="30.5" fill="rgb(228,228,228)"/>
<rect x="1415.3" y="375.2" width="30.5" height="30.5" fill="rgb(228,228,228)"/>
<rect x="1445.3" y="375.2" width="30.5" height="30.5" fill="rgb(229,229,229)"/>
<rect x="1475.3" y="375.2" width="30.5" height="30.5" fill="rgb(229,229,229)"/>
<rect x="1505.3" y="375.2" width="30.5" height="30.5" fill="rgb(227,227,227)"/>
<rect x="1535.3" y="375.2" width="30.5" height="30.5" fill="rgb(224,224,224)"/>
<rect x="1565.3" y="375.2" width="30.5" height="30.5" fill="rgb(222,222,222)"/>
<rect x="1595.3" y="375.2" width="30.5" height="30.5" fill="rgb(220,220,220)"/>
<rect x="1625.3" y="375.2" width="30.5" height="30.5" fill="rgb(218,218,218)"/>
<rect x="1655.3" y="375.2" width="30.5" height="30.5" fill="rgb(213,213,213)"/>
<rect x="1685.3" y="375.2" width="30.5" height="30.5" fill="rgb(206,206,206)"/>
<rect x="1715.3" y="375.2" width="30.5" height="30.5" fill="rgb(198,198,198)"/>
<rect x="1745.3" y="375.2" width="30.5" height="30.5" fill="rgb(190,190,190)"/>
<rect x="1775.3" y="375.2" width="30.5" height="30.5" fill="rgb(183,183,183)"/>
<rect x="1805.3" y="375.2" width="30.5" height="30.5" fill="rgb(175,175,175)"/>
<rect x="1835.3" y="375.2" width="30.5" height="30.5" fill="rgb(171,171,171)"/>
<rect x="1865.3" y="375.2" width="30.5" height="30.5" fill="rgb(171,171,171)"/>
<rect x="1055.3" y="405.2" width="30.5" height="30.5" fill="rgb(186,186,186)"/>
<rect x="1085.3" y="405.2" width="30.5" height="30.5" fill="rgb(186,186,186)"/>
<rect x="1115.3" y="405.2" width="30.5" height="30.5" fill="rgb(190,190,190)"/>
<rect x="1145.3" y="405.2" width="30.5" height="30.5" fill="rgb(196,196,196)"/>
<rect x="1175.3" y="405.2" width="30.5" height="30.5" fill="rgb(202,202,202)"/>
<rect x="1205.3" y="405.2" width="30.5" height="30.5" fill="rgb(209,209,209)"/>
<rect x="1235.3" y="405.2" width="30.5" height="30.5" fill="rgb(215,215,215)"/>
<rect x="1265.3" y="405.2" width="30.5" height="30.5" fill="rgb(222,222,222)"/>
<rect x="1295.3" y="405.2" width="30.5" height="30.5" fill="rgb(225,225,225)"/>
<rect x="1325.3" y="405.2" width="30.5" height="30.5" fill="rgb(226,226,226)"/>
<rect x="1355.3" y="405.2" width="30.5" height="30.5" fill="rgb(227,227,227)"/>
<rect x="1385.3" y="405.2" width="30.5" height="30.5" fill="rgb(227,227,227)"/>
<rect x="1415.3" y="405.2" width="30.5" height="30.5" fill="rgb(228,228,228)"/>
<rect x="1445.3" y="405.2" width="30.5" height="30.5" fill="rgb(228,228,228)"/>
<rect x="1475.3" y="405.2" width="30.5" height="30.5" fill="rgb(228,228,228)"/>
<rect x="1505.3" y="405.2" width="30.5" height="30.5" fill="rgb(226,226,226)"/>
<rect x="1535.3" y="405.2" width="30.5" height="30.5" fill="rgb(223,223,223)"/>
<rect x="1565.3" y="405.2" width="30.5" height="30.5" fill="rgb(221,221,221)"/>
<rect x="1595.3" y="405.2" width="30.5" height="30.5" fill="rgb(219,219,219)"/>
<rect x="1625.3" y="405.2" width="30.5" height="30.5" fill="rgb(217,217,217)"/>
<rect x="1655.3" y="405.2" width="30.5" height="30.5" fill="rgb(212,212,212)"/>
<rect x="1685.3" y="405.2" width="30.5" height="30.5" fill="rgb(205,205,205)"/>
<rect x="1715.3" y="405.2" width="30.5" height="30.5" fill="rgb(197,197,197)"/>
<rect x="1745.3" y="405.2" width="30.5" height="30.5" fill="rgb(190,190,190)"/>
<rect x="1775.3" y="405.2" width="30.5" height="30.5" fill="rgb(182,182,182)"/>
<rect x="1805.3" y="405.2" width="30.5" height="30.5" fill="rgb(175,175,175)"/>
<rect x="1835.3" y="405.2" width="30.5" height="30.5" fill="rgb(171,171,171)"/>
<rect x="1865.3" y="405.2" width="30.5" height="30.5" fill="rgb(171,171,171)"/>
<rect x="1055.3" y="435.2" width="30.5" height="30.5" fill="rgb(187,187,187)"/>
<rect x="1085.3" y="435.2" width="30.5" height="30.5" fill="rgb(187,187,187)"/>
<rect x="1115.3" y="435.2" width="30.5" height="30.5" fill="rgb(190,190,190)"/>
<rect x="1145.3" y="435.2" width="30.5" height="30.5" fill="rgb(197,197,197)"/>
<rect x="1175.3" y="435.2" width="30.5" height="30.5" fill="rgb(203,203,203)"/>
<rect x="1205.3" y="435.2" width="30.5" height="30.5" fill="rgb(209,209,209)"/>
<rect x="1235.3" y="435.2" width="30.5" height="30.5" fill="rgb(216,216,216)"/>
<rect x="1265.3" y="435.2" width="30.5" height="30.5" fill="rgb(222,222,222)"/>
<rect x="1295.3" y="435.2" width="30.5" height="30.5" fill="rgb(225,225,225)"/>
<rect x="1325.3" y="435.2" width="30.5" height="30.5" fill="rgb(226,226,226)"/>
<rect x="1355.3" y="435.2" width="30.5" height="30.5" fill="rgb(226,226,226)"/>
<rect x="1385.3" y="435.2" width="30.5" height="30.5" fill="rgb(227,227,227)"/>
<rect x="1415.3" y="435.2" width="30.5" height="30.5" fill="rgb(227,227,227)"/>
<rect x="1445.3" y="435.2" width="30.5" height="30.5" fill="rgb(228,228,228)"/>
<rect x="1475.3" y="435.2" width="30.5" height="30.5" fill="rgb(227,227,227)"/>
<rect x="1505.3" y="435.2" width="30.5" height="30.5" fill="rgb(225,225,225)"/>
<rect x="1535.3" y="435.2" width="30.5" height="30.5" fill="rgb(222,222,222)"/>
<rect x="1565.3" y="435.2" width="30.5" height="30.5" fill="rgb(220,220,220)"/>
<rect x="1595.3" y="435.2" width="30.5" height="30.5" fill="rgb(218,218,218)"/>
<rect x="1625.3" y="435.2" width="30.5" height="30.5" fill="rgb(216,216,216)"/>
<rect x="1655.3" y="435.2" width="30.5" height="30.5" fill="rgb(211,211,211)"/>
<rect x="1685.3" y="435.2" width="30.5" height="30.5" fill="rgb(204,204,204)"/>
<rect x="1715.3" y="435.2" width="30.5" height="30.5" fill="rgb(197,197,197)"/>
<rect x="1745.3" y="435.2" width="30.5" height="30.5" fill="rgb(190,190,190)"/>
<rect x="1775.3" y="435.2" width="30.5" height="30.5" fill="rgb(182,182,182)"/>
<rect x="1805.3" y="435.2" width="30.5" height="30.5" fill="rgb(175,175,175)"/>
<rect x="1835.3" y="435.2" width="30.5" height="30.5" fill="rgb(171,171,171)"/>
<rect x="1865.3" y="435.2" width="30.5" height="30.5" fill="rgb(171,171,171)"/>
<rect x="1055.3" y="465.2" width="30.5" height="30.5" fill="rgb(188,188,188)"/>
<rect x="1085.3" y="465.2" width="30.5" height="30.5" fill="rgb(188,188,188)"/>
<rect x="1115.3" y="465.2" width="30.5" height="30.5" fill="rgb(191,191,191)"/>
<rect x="1145.3" y="465.2" width="30.5" height="30.5" fill="rgb(197,197,197)"/>
<rect x="1175.3" y="465.2" width="30.5" height="30.5" fill="rgb(203,203,203)"/>
<rect x="1205.3" y="465.2" width="30.5" height="30.5" fill="rgb(210,210,210)"/>
<rect x="1235.3" y="465.2" width="30.5" height="30.5" fill="rgb(216,216,216)"/>
<rect x="1265.3" y="465.2" width="30.5" height="30.5" fill="rgb(222,222,222)"/>
<rect x="1295.3" y="465.2" width="30.5" height="30.5" fill="rgb(225,225,225)"/>
<rect x="1325.3" y="465.2" width="30.5" height="30.5" fill="rgb(226,226,226)"/>
<rect x="1355.3" y="465.2" width="30.5" height="30.5" fill="rgb(226,226,226)"/>
<rect x="1385.3" y="465.2" width="30.5" height="30.5" fill="rgb(226,226,226)"/>
<rect x="1415.3" y="465.2" width="30.5" height="30.5" fill="rgb(226,226,226)"/>
<rect x="1445.3" y="465.2" width="30.5" height="30.5" fill="rgb(227,227,227)"/>
<rect x="1475.3" y="465.2" width="30.5" height="30.5" fill="rgb(226,226,226)"/>
<rect x="1505.3" y="465.2" width="30.5" height="30.5" fill="rgb(224,224,224)"/>
<rect x="1535.3" y="465.2" width="30.5" height="30.5" fill="rgb(221,221,221)"/>
<rect x="1565.3" y="465.2" width="30.5" height="30.5" fill="rgb(219,219,219)"/>
<rect x="1595.3" y="465.2" width="30.5" height="30.5" fill="rgb(217,217,217)"/>
<rect x="1625.3" y="465.2" width="30.5" height="30.5" fill="rgb(215,215,215)"/>
<rect x="1655.3" y="465.2" width="30.5" height="30.5" fill="rgb(210,210,210)"/>
<rect x="1685.3" y="465.2" width="30.5" height="30.5" fill="rgb(203,203,203)"/>
<rect x="1715.3" y="465.2" width="30.5" height="30.5" fill="rgb(196,196,196)"/>
<rect x="1745.3" y="465.2" width="30.5" height="30.5" fill="rgb(189,189,189)"/>
<rect x="1775.3" y="465.2" width="30.5" height="30.5" fill="rgb(182,182,182)"/>
<rect x="1805.3" y="465.2" width="30.5" height="30.5" fill="rgb(175,175,175)"/>
<rect x="1835.3" y="465.2" width="30.5" height="30.5" fill="rgb(172,172,172)"/>
<rect x="1865.3" y="465.2" width="30.5" height="30.5" fill="rgb(172,172,172)"/>
<rect x="1055.3" y="495.2" width="30.5" height="30.5" fill="rgb(189,189,189)"/>
<rect x="1085.3" y="495.2" width="30.5" height="30.5" fill="rgb(189,189,189)"/>
<rect x="1115.3" y="495.2" width="30.5" height="30.5" fill="rgb(192,192,192)"/>
<rect x="1145.3" y="495.2" width="30.5" height="30.5" fill="rgb(198,198,198)"/>
<rect x="1175.3" y="495.2" width="30.5" height="30.5" fill="rgb(204,204,204)"/>
<rect x="1205.3" y="495.2" width="30.5" height="30.5" fill="rgb(210,210,210)"/>
<rect x="1235.3" y="495.2" width="30.5" height="30.5" fill="rgb(216,216,216)"/>
<rect x="1265.3" y="495.2" width="30.5" height="30.5" fill="rgb(222,222,222)"/>
<rect x="1295.3" y="495.2" width="30.5" height="30.5" fill="rgb(225,225,225)"/>
<rect x="1325.3" y="495.2" width="30.5" height="30.5" fill="rgb(225,225,225)"/>
<rect x="1355.3" y="495.2" width="30.5" height="30.5" fill="rgb(225,225,225)"/>
<rect x="1385.3" y="495.2" width="30.5" height="30.5" fill="rgb(226,226,226)"/>
<rect x="1415.3" y="495.2" width="30.5" height="30.5" fill="rgb(226,226,226)"/>
<rect x="1445.3" y="495.2" width="30.5" height="30.5" fill="rgb(226,226,226)"/>
<rect x="1475.3" y="495.2" width="30.5" height="30.5" fill="rgb(225,225,225)"/>
<rect x="1505.3" y="495.2" width="30.5" height="30.5" fill="rgb(223,223,223)"/>
<rect x="1535.3" y="495.2" width="30.5" height="30.5" fill="rgb(220,220,220)"/>
<rect x="1565.3" y="495.2" width="30.5" height="30.5" fill="rgb(218,218,218)"/>
<rect x="1595.3" y="495.2" width="30.5" height="30.5" fill="rgb(216,216,216)"/>
<rect x="1625.3" y="495.2" width="30.5" height="30.5" fill="rgb(214,214,214)"/>
<rect x="1655.3" y="495.2" width="30.5" height="30.5" fill="rgb(209,209,209)"/>
<rect x="1685.3" y="495.2" width="30.5" height="30.5" fill="rgb(202,202,202)"/>
<rect x="1715.3" y="495.2" width="30.5" height="30.5" fill="rgb(196,196,196)"/>
<rect x="1745.3" y="495.2" width="30.5" height="30.5" fill="rgb(189,189,189)"/>
<rect x="1775.3" y="495.2" width="30.5" height="30.5" fill="rgb(182,182,182)"/>
<rect x="1805.3" y="495.2" width="30.5" height="30.5" fill="rgb(175,175,175)"/>
<rect x="1835.3" y="495.2" width="30.5" height="30.5" fill="rgb(172,172,172)"/>
<rect x="1865.3" y="495.2" width="30.5" height="30.5" fill="rgb(172,172,172)"/>
<rect x="1055.3" y="525.2" width="30.5" height="30.5" fill="rgb(190,190,190)"/>
<rect x="1085.3" y="525.2" width="30.5" height="30.5" fill="rgb(190,190,190)"/>
<rect x="1115.3" y="525.2" width="30.5" height="30.5" fill="rgb(193,193,193)"/>
<rect x="1145.3" y="525.2" width="30.5" height="30.5" fill="rgb(199,199,199)"/>
<rect x="1175.3" y="525.2" width="30.5" height="30.5" fill="rgb(204,204,204)"/>
<rect x="1205.3" y="525.2" width="30.5" height="30.5" fill="rgb(210,210,210)"/>
<rect x="1235.3" y="525.2" width="30.5" height="30.5" fill="rgb(216,216,216)"/>
<rect x="1265.3" y="525.2" width="30.5" height="30.5" fill="rgb(222,222,222)"/>
<rect x="1295.3" y="525.2" width="30.5" height="30.5" fill="rgb(225,225,225)"/>
<rect x="1325.3" y="525.2" width="30.5" height="30.5" fill="rgb(225,225,225)"/>
<rect x="1355.3" y="525.2" width="30.5" height="30.5" fill="rgb(225,225,225)"/>
<rect x="1385.3" y="525.2" width="30.5" height="30.5" fill="rgb(225,225,225)"/>
<rect x="1415.3" y="525.2" width="30.5" height="30.5" fill="rgb(225,225,225)"/>
<rect x="1445.3" y="525.2" width="30.5" height="30.5" fill="rgb(225,225,225)"/>
<rect x="1475.3" y="525.2" width="30.5" height="30.5" fill="rgb(224,224,224)"/>
<rect x="1505.3" y="525.2" width="30.5" height="30.5" fill="rgb(222,222,222)"/>
<rect x="1535.3" y="525.2" width="30.5" height="30.5" fill="rgb(219,219,219)"/>
<rect x="1565.3" y="525.2" width="30.5" height="30.5" fill="rgb(217,217,217)"/>
<rect x="1595.3" y="525.2" width="30.5" height="30.5" fill="rgb(215,215,215)"/>
<rect x="1625.3" y="525.2" width="30.5" height="30.5" fill="rgb(213,213,213)"/>
<rect x="1655.3" y="525.2" width="30.5" height="30.5" fill="rgb(208,208,208)"/>
<rect x="1685.3" y="525.2" width="30.5" height="30.5" fill="rgb(201,201,201)"/>
<rect x="1715.3" y="525.2" width="30.5" height="30.5" fill="rgb(195,195,195)"/>
<rect x="1745.3" y="525.2" width="30.5" height="30.5" fill="rgb(188,188,188)"/>
<rect x="1775.3" y="525.2" width="30.5" height="30.5" fill="rgb(182,182,182)"/>
<rect x="1805.3" y="525.2" width="30.5" height="30.5" fill="rgb(175,175,175)"/>
<rect x="1835.3" y="525.2" width="30.5" height="30.5" fill="rgb(172,172,172)"/>
<rect x="1865.3" y="525.2" width="30.5" height="30.5" fill="rgb(172,172,172)"/>
<rect x="1055.3" y="555.2" width="30.5" height="30.5" fill="rgb(188,188,188)"/>
<rect x="1085.3" y="555.2" width="30.5" height="30.5" fill="rgb(188,188,188)"/>
<rect x="1115.3" y="555.2" width="30.5" height="30.5" fill="rgb(191,191,191)"/>
<rect x="1145.3" y="555.2" width="30.5" height="30.5" fill="rgb(197,197,197)"/>
<rect x="1175.3" y="555.2" width="30.5" height="30.5" fill="rgb(202,202,202)"/>
<rect x="1205.3" y="555.2" width="30.5" height="30.5" fill="rgb(208,208,208)"/>
<rect x="1235.3" y="555.2" width="30.5" height="30.5" fill="rgb(213,213,213)"/>
<rect x="1265.3" y="555.2" width="30.5" height="30.5" fill="rgb(219,219,219)"/>
<rect x="1295.3" y="555.2" width="30.5" height="30.5" fill="rgb(222,222,222)"/>
<rect x="1325.3" y="555.2" width="30.5" height="30.5" fill="rgb(222,222,222)"/>
<rect x="1355.3" y="555.2" width="30.5" height="30.5" fill="rgb(222,222,222)"/>
<rect x="1385.3" y="555.2" width="30.5" height="30.5" fill="rgb(222,222,222)"/>
<rect x="1415.3" y="555.2" width="30.5" height="30.5" fill="rgb(222,222,222)"/>
<rect x="1445.3" y="555.2" width="30.5" height="30.5" fill="rgb(222,222,222)"/>
<rect x="1475.3" y="555.2" width="30.5" height="30.5" fill="rgb(221,221,221)"/>
<rect x="1505.3" y="555.2" width="30.5" height="30.5" fill="rgb(218,218,218)"/>
<rect x="1535.3" y="555.2" width="30.5" height="30.5" fill="rgb(216,216,216)"/>
<rect x="1565.3" y="555.2" width="30.5" height="30.5" fill="rgb(214,214,214)"/>
<rect x="1595.3" y="555.2" width="30.5" height="30.5" fill="rgb(211,211,211)"/>
<rect x="1625.3" y="555.2" width="30.5" height="30.5" fill="rgb(209,209,209)"/>
<rect x="1655.3" y="555.2" width="30.5" height="30.5" fill="rgb(205,205,205)"/>
<rect x="1685.3" y="555.2" width="30.5" height="30.5" fill="rgb(199,199,199)"/>
<rect x="1715.3" y="555.2" width="30.5" height="30.5" fill="rgb(193,193,193)"/>
<rect x="1745.3" y="555.2" width="30.5" height="30.5" fill="rgb(187,187,187)"/>
<rect x="1775.3" y="555.2" width="30.5" height="30.5" fill="rgb(181,181,181)"/>
<rect x="1805.3" y="555.2" width="30.5" height="30.5" fill="rgb(175,175,175)"/>
<rect x="1835.3" y="555.2" width="30.5" height="30.5" fill="rgb(172,172,172)"/>
<rect x="1865.3" y="555.2" width="30.5" height="30.5" fill="rgb(172,172,172)"/>
<rect x="1055.3" y="585.2" width="30.5" height="30.5" fill="rgb(186,186,186)"/>
<rect x="1085.3" y="585.2" width="30.5" height="30.5" fill="rgb(186,186,186)"/>
<rect x="1115.3" y="585.2" width="30.5" height="30.5" fill="rgb(189,189,189)"/>
<rect x="1145.3" y="585.2" width="30.5" height="30.5" fill="rgb(194,194,194)"/>
<rect x="1175.3" y="585.2" width="30.5" height="30.5" fill="rgb(199,199,199)"/>
<rect x="1205.3" y="585.2" width="30.5" height="30.5" fill="rgb(204,204,204)"/>
<rect x="1235.3" y="585.2" width="30.5" height="30.5" fill="rgb(209,209,209)"/>
<rect x="1265.3" y="585.2" width="30.5" height="30.5" fill="rgb(214,214,214)"/>
<rect x="1295.3" y="585.2" width="30.5" height="30.5" fill="rgb(217,217,217)"/>
<rect x="1325.3" y="585.2" width="30.5" height="30.5" fill="rgb(217,217,217)"/>
<rect x="1355.3" y="585.2" width="30.5" height="30.5" fill="rgb(217,217,217)"/>
<rect x="1385.3" y="585.2" width="30.5" height="30.5" fill="rgb(217,217,217)"/>
<rect x="1415.3" y="585.2" width="30.5" height="30.5" fill="rgb(217,217,217)"/>
<rect x="1445.3" y="585.2" width="30.5" height="30.5" fill="rgb(217,217,217)"/>
<rect x="1475.3" y="585.2" width="30.5" height="30.5" fill="rgb(216,216,216)"/>
<rect x="1505.3" y="585.2" width="30.5" height="30.5" fill="rgb(213,213,213)"/>
<rect x="1535.3" y="585.2" width="30.5" height="30.5" fill="rgb(211,211,211)"/>
<rect x="1565.3" y="585.2" width="30.5" height="30.5" fill="rgb(209,209,209)"/>
<rect x="1595.3" y="585.2" width="30.5" height="30.5" fill="rgb(206,206,206)"/>
<rect x="1625.3" y="585.2" width="30.5" height="30.5" fill="rgb(204,204,204)"/>
<rect x="1655.3" y="585.2" width="30.5" height="30.5" fill="rgb(200,200,200)"/>
<rect x="1685.3" y="585.2" width="30.5" height="30.5" fill="rgb(195,195,195)"/>
<rect x="1715.3" y="585.2" width="30.5" height="30.5" fill="rgb(190,190,190)"/>
<rect x="1745.3" y="585.2" width="30.5" height="30.5" fill="rgb(185,185,185)"/>
<rect x="1775.3" y="585.2" width="30.5" height="30.5" fill="rgb(179,179,179)"/>
<rect x="1805.3" y="585.2" width="30.5" height="30.5" fill="rgb(174,174,174)"/>
<rect x="1835.3" y="585.2" width="30.5" height="30.5" fill="rgb(171,171,171)"/>
<rect x="1865.3" y="585.2" width="30.5" height="30.5" fill="rgb(171,171,171)"/>
<rect x="1055.3" y="615.2" width="30.5" height="30.5" fill="rgb(184,184,184)"/>
<rect x="1085.3" y="615.2" width="30.5" height="30.5" fill="rgb(184,184,184)"/>
<rect x="1115.3" y="615.2" width="30.5" height="30.5" fill="rgb(186,186,186)"/>
<rect x="1145.3" y="615.2" width="30.5" height="30.5" fill="rgb(191,191,191)"/>
<rect x="1175.3" y="615.2" width="30.5" height="30.5" fill="rgb(196,196,196)"/>
<rect x="1205.3" y="615.2" width="30.5" height="30.5" fill="rgb(200,200,200)"/>
<rect x="1235.3" y="615.2" width="30.5" height="30.5" fill="rgb(205,205,205)"/>
<rect x="1265.3" y="615.2" width="30.5" height="30.5" fill="rgb(210,210,210)"/>
<rect x="1295.3" y="615.2" width="30.5" height="30.5" fill="rgb(212,212,212)"/>
<rect x="1325.3" y="615.2" width="30.5" height="30.5" fill="rgb(212,212,212)"/>
<rect x="1355.3" y="615.2" width="30.5" height="30.5" fill="rgb(212,212,212)"/>
<rect x="1385.3" y="615.2" width="30.5" height="30.5" fill="rgb(212,212,212)"/>
<rect x="1415.3" y="615.2" width="30.5" height="30.5" fill="rgb(212,212,212)"/>
<rect x="1445.3" y="615.2" width="30.5" height="30.5" fill="rgb(212,212,212)"/>
<rect x="1475.3" y="615.2" width="30.5" height="30.5" fill="rgb(211,211,211)"/>
<rect x="1505.3" y="615.2" width="30.5" height="30.5" fill="rgb(209,209,209)"/>
<rect x="1535.3" y="615.2" width="30.5" height="30.5" fill="rgb(206,206,206)"/>
<rect x="1565.3" y="615.2" width="30.5" height="30.5" fill="rgb(204,204,204)"/>
<rect x="1595.3" y="615.2" width="30.5" height="30.5" fill="rgb(202,202,202)"/>
<rect x="1625.3" y="615.2" width="30.5" height="30.5" fill="rgb(199,199,199)"/>
<rect x="1655.3" y="615.2" width="30.5" height="30.5" fill="rgb(196,196,196)"/>
<rect x="1685.3" y="615.2" width="30.5" height="30.5" fill="rgb(191,191,191)"/>
<rect x="1715.3" y="615.2" width="30.5" height="30.5" fill="rgb(187,187,187)"/>
<rect x="1745.3" y="615.2" width="30.5" height="30.5" fill="rgb(182,182,182)"/>
<rect x="1775.3" y="615.2" width="30.5" height="30.5" fill="rgb(178,178,178)"/>
<rect x="1805.3" y="615.2" width="30.5" height="30.5" fill="rgb(173,173,173)"/>
<rect x="1835.3" y="615.2" width="30.5" height="30.5" fill="rgb(171,171,171)"/>
<rect x="1865.3" y="615.2" width="30.5" height="30.5" fill="rgb(171,171,171)"/>
<rect x="1055.3" y="645.2" width="30.5" height="30.5" fill="rgb(175,175,175)"/>
<rect x="1085.3" y="645.2" width="30.5" height="30.5" fill="rgb(175,175,175)"/>
<rect x="1115.3" y="645.2" width="30.5" height="30.5" fill="rgb(178,178,178)"/>
<rect x="1145.3" y="645.2" width="30.5" height="30.5" fill="rgb(182,182,182)"/>
<rect x="1175.3" y="645.2" width="30.5" height="30.5" fill="rgb(186,186,186)"/>
<rect x="1205.3" y="645.2" width="30.5" height="30.5" fill="rgb(191,191,191)"/>
<rect x="1235.3" y="645.2" width="30.5" height="30.5" fill="rgb(195,195,195)"/>
<rect x="1265.3" y="645.2" width="30.5" height="30.5" fill="rgb(200,200,200)"/>
<rect x="1295.3" y="645.2" width="30.5" height="30.5" fill="rgb(202,202,202)"/>
<rect x="1325.3" y="645.2" width="30.5" height="30.5" fill="rgb(202,202,202)"/>
<rect x="1355.3" y="645.2" width="30.5" height="30.5" fill="rgb(202,202,202)"/>
<rect x="1385.3" y="645.2" width="30.5" height="30.5" fill="rgb(202,202,202)"/>
<rect x="1415.3" y="645.2" width="30.5" height="30.5" fill="rgb(202,202,202)"/>
<rect x="1445.3" y="645.2" width="30.5" height="30.5" fill="rgb(202,202,202)"/>
<rect x="1475.3" y="645.2" width="30.5" height="30.5" fill="rgb(200,200,200)"/>
<rect x="1505.3" y="645.2" width="30.5" height="30.5" fill="rgb(198,198,198)"/>
<rect x="1535.3" y="645.2" width="30.5" height="30.5" fill="rgb(196,196,196)"/>
<rect x="1565.3" y="645.2" width="30.5" height="30.5" fill="rgb(193,193,193)"/>
<rect x="1595.3" y="645.2" width="30.5" height="30.5" fill="rgb(191,191,191)"/>
<rect x="1625.3" y="645.2" width="30.5" height="30.5" fill="rgb(188,188,188)"/>
<rect x="1655.3" y="645.2" width="30.5" height="30.5" fill="rgb(185,185,185)"/>
<rect x="1685.3" y="645.2" width="30.5" height="30.5" fill="rgb(182,182,182)"/>
<rect x="1715.3" y="645.2" width="30.5" height="30.5" fill="rgb(178,178,178)"/>
<rect x="1745.3" y="645.2" width="30.5" height="30.5" fill="rgb(174,174,174)"/>
<rect x="1775.3" y="645.2" width="30.5" height="30.5" fill="rgb(170,170,170)"/>
<rect x="1805.3" y="645.2" width="30.5" height="30.5" fill="rgb(167,167,167)"/>
<rect x="1835.3" y="645.2" width="30.5" height="30.5" fill="rgb(165,165,165)"/>
<rect x="1865.3" y="645.2" width="30.5" height="30.5" fill="rgb(165,165,165)"/>
<rect x="1055.3" y="675.2" width="30.5" height="30.5" fill="rgb(156,156,156)"/>
<rect x="1085.3" y="675.2" width="30.5" height="30.5" fill="rgb(156,156,156)"/>
<rect x="1115.3" y="675.2" width="30.5" height="30.5" fill="rgb(158,158,158)"/>
<rect x="1145.3" y="675.2" width="30.5" height="30.5" fill="rgb(162,162,162)"/>
<rect x="1175.3" y="675.2" width="30.5" height="30.5" fill="rgb(166,166,166)"/>
<rect x="1205.3" y="675.2" width="30.5" height="30.5" fill="rgb(170,170,170)"/>
<rect x="1235.3" y="675.2" width="30.5" height="30.5" fill="rgb(174,174,174)"/>
<rect x="1265.3" y="675.2" width="30.5" height="30.5" fill="rgb(178,178,178)"/>
<rect x="1295.3" y="675.2" width="30.5" height="30.5" fill="rgb(180,180,180)"/>
<rect x="1325.3" y="675.2" width="30.5" height="30.5" fill="rgb(180,180,180)"/>
<rect x="1355.3" y="675.2" width="30.5" height="30.5" fill="rgb(180,180,180)"/>
<rect x="1385.3" y="675.2" width="30.5" height="30.5" fill="rgb(180,180,180)"/>
<rect x="1415.3" y="675.2" width="30.5" height="30.5" fill="rgb(180,180,180)"/>
<rect x="1445.3" y="675.2" width="30.5" height="30.5" fill="rgb(180,180,180)"/>
<rect x="1475.3" y="675.2" width="30.5" height="30.5" fill="rgb(179,179,179)"/>
<rect x="1505.3" y="675.2" width="30.5" height="30.5" fill="rgb(176,176,176)"/>
<rect x="1535.3" y="675.2" width="30.5" height="30.5" fill="rgb(174,174,174)"/>
<rect x="1565.3" y="675.2" width="30.5" height="30.5" fill="rgb(171,171,171)"/>
<rect x="1595.3" y="675.2" width="30.5" height="30.5" fill="rgb(168,168,168)"/>
<rect x="1625.3" y="675.2" width="30.5" height="30.5" fill="rgb(166,166,166)"/>
<rect x="1655.3" y="675.2" width="30.5" height="30.5" fill="rgb(163,163,163)"/>
<rect x="1685.3" y="675.2" width="30.5" height="30.5" fill="rgb(160,160,160)"/>
<rect x="1715.3" y="675.2" width="30.5" height="30.5" fill="rgb(157,157,157)"/>
<rect x="1745.3" y="675.2" width="30.5" height="30.5" fill="rgb(154,154,154)"/>
<rect x="1775.3" y="675.2" width="30.5" height="30.5" fill="rgb(151,151,151)"/>
<rect x="1805.3" y="675.2" width="30.5" height="30.5" fill="rgb(148,148,148)"/>
<rect x="1835.3" y="675.2" width="30.5" height="30.5" fill="rgb(146,146,146)"/>
<rect x="1865.3" y="675.2" width="30.5" height="30.5" fill="rgb(146,146,146)"/>
<rect x="1055.3" y="705.2" width="30.5" height="30.5" fill="rgb(99,99,99)"/>
<rect x="1085.3" y="705.2" width="30.5" height="30.5" fill="rgb(99,99,99)"/>
<rect x="1115.3" y="705.2" width="30.5" height="30.5" fill="rgb(101,101,101)"/>
<rect x="1145.3" y="705.2" width="30.5" height="30.5" fill="rgb(105,105,105)"/>
<rect x="1175.3" y="705.2" width="30.5" height="30.5" fill="rgb(108,108,108)"/>
<rect x="1205.3" y="705.2" width="30.5" height="30.5" fill="rgb(112,112,112)"/>
<rect x="1235.3" y="705.2" width="30.5" height="30.5" fill="rgb(115,115,115)"/>
<rect x="1265.3" y="705.2" width="30.5" height="30.5" fill="rgb(119,119,119)"/>
<rect x="1295.3" y="705.2" width="30.5" height="30.5" fill="rgb(120,120,120)"/>
<rect x="1325.3" y="705.2" width="30.5" height="30.5" fill="rgb(120,120,120)"/>
<rect x="1355.3" y="705.2" width="30.5" height="30.5" fill="rgb(119,119,119)"/>
<rect x="1385.3" y="705.2" width="30.5" height="30.5" fill="rgb(119,119,119)"/>
<rect x="1415.3" y="705.2" width="30.5" height="30.5" fill="rgb(118,118,118)"/>
<rect x="1445.3" y="705.2" width="30.5" height="30.5" fill="rgb(118,118,118)"/>
<rect x="1475.3" y="705.2" width="30.5" height="30.5" fill="rgb(117,117,117)"/>
<rect x="1505.3" y="705.2" width="30.5" height="30.5" fill="rgb(115,115,115)"/>
<rect x="1535.3" y="705.2" width="30.5" height="30.5" fill="rgb(113,113,113)"/>
<rect x="1565.3" y="705.2" width="30.5" height="30.5" fill="rgb(110,110,110)"/>
<rect x="1595.3" y="705.2" width="30.5" height="30.5" fill="rgb(108,108,108)"/>
<rect x="1625.3" y="705.2" width="30.5" height="30.5" fill="rgb(106,106,106)"/>
<rect x="1655.3" y="705.2" width="30.5" height="30.5" fill="rgb(104,104,104)"/>
<rect x="1685.3" y="705.2" width="30.5" height="30.5" fill="rgb(101,101,101)"/>
<rect x="1715.3" y="705.2" width="30.5" height="30.5" fill="rgb(99,99,99)"/>
<rect x="1745.3" y="705.2" width="30.5" height="30.5" fill="rgb(96,96,96)"/>
<rect x="1775.3" y="705.2" width="30.5" height="30.5" fill="rgb(93,93,93)"/>
<rect x="1805.3" y="705.2" width="30.5" height="30.5" fill="rgb(91,91,91)"/>
<rect x="1835.3" y="705.2" width="30.5" height="30.5" fill="rgb(89,89,89)"/>
<rect x="1865.3" y="705.2" width="30.5" height="30.5" fill="rgb(89,89,89)"/>
<rect x="1055.3" y="735.2" width="30.5" height="30.5" fill="rgb(65,65,65)"/>
<rect x="1085.3" y="735.2" width="30.5" height="30.5" fill="rgb(65,65,65)"/>
<rect x="1115.3" y="735.2" width="30.5" height="30.5" fill="rgb(67,67,67)"/>
<rect x="1145.3" y="735.2" width="30.5" height="30.5" fill="rgb(70,70,70)"/>
<rect x="1175.3" y="735.2" width="30.5" height="30.5" fill="rgb(73,73,73)"/>
<rect x="1205.3" y="735.2" width="30.5" height="30.5" fill="rgb(77,77,77)"/>
<rect x="1235.3" y="735.2" width="30.5" height="30.5" fill="rgb(80,80,80)"/>
<rect x="1265.3" y="735.2" width="30.5" height="30.5" fill="rgb(83,83,83)"/>
<rect x="1295.3" y="735.2" width="30.5" height="30.5" fill="rgb(85,85,85)"/>
<rect x="1325.3" y="735.2" width="30.5" height="30.5" fill="rgb(84,84,84)"/>
<rect x="1355.3" y="735.2" width="30.5" height="30.5" fill="rgb(83,83,83)"/>
<rect x="1385.3" y="735.2" width="30.5" height="30.5" fill="rgb(82,82,82)"/>
<rect x="1415.3" y="735.2" width="30.5" height="30.5" fill="rgb(81,81,81)"/>
<rect x="1445.3" y="735.2" width="30.5" height="30.5" fill="rgb(80,80,80)"/>
<rect x="1475.3" y="735.2" width="30.5" height="30.5" fill="rgb(79,79,79)"/>
<rect x="1505.3" y="735.2" width="30.5" height="30.5" fill="rgb(77,77,77)"/>
<rect x="1535.3" y="735.2" width="30.5" height="30.5" fill="rgb(76,76,76)"/>
<rect x="1565.3" y="735.2" width="30.5" height="30.5" fill="rgb(74,74,74)"/>
<rect x="1595.3" y="735.2" width="30.5" height="30.5" fill="rgb(72,72,72)"/>
<rect x="1625.3" y="735.2" width="30.5" height="30.5" fill="rgb(71,71,71)"/>
<rect x="1655.3" y="735.2" width="30.5" height="30.5" fill="rgb(69,69,69)"/>
<rect x="1685.3" y="735.2" width="30.5" height="30.5" fill="rgb(66,66,66)"/>
<rect x="1715.3" y="735.2" width="30.5" height="30.5" fill="rgb(64,64,64)"/>
<rect x="1745.3" y="735.2" width="30.5" height="30.5" fill="rgb(61,61,61)"/>
<rect x="1775.3" y="735.2" width="30.5" height="30.5" fill="rgb(59,59,59)"/>
<rect x="1805.3" y="735.2" width="30.5" height="30.5" fill="rgb(56,56,56)"/>
<rect x="1835.3" y="735.2" width="30.5" height="30.5" fill="rgb(55,55,55)"/>
<rect x="1865.3" y="735.2" width="30.5" height="30.5" fill="rgb(55,55,55)"/>
<rect x="1055.3" y="765.2" width="30.5" height="30.5" fill="rgb(65,65,65)"/>
<rect x="1085.3" y="765.2" width="30.5" height="30.5" fill="rgb(65,65,65)"/>
<rect x="1115.3" y="765.2" width="30.5" height="30.5" fill="rgb(67,67,67)"/>
<rect x="1145.3" y="765.2" width="30.5" height="30.5" fill="rgb(70,70,70)"/>
<rect x="1175.3" y="765.2" width="30.5" height="30.5" fill="rgb(73,73,73)"/>
<rect x="1205.3" y="765.2" width="30.5" height="30.5" fill="rgb(77,77,77)"/>
<rect x="1235.3" y="765.2" width="30.5" height="30.5" fill="rgb(80,80,80)"/>
<rect x="1265.3" y="765.2" width="30.5" height="30.5" fill="rgb(83,83,83)"/>
<rect x="1295.3" y="765.2" width="30.5" height="30.5" fill="rgb(85,85,85)"/>
<rect x="1325.3" y="765.2" width="30.5" height="30.5" fill="rgb(84,84,84)"/>
<rect x="1355.3" y="765.2" width="30.5" height="30.5" fill="rgb(83,83,83)"/>
<rect x="1385.3" y="765.2" width="30.5" height="30.5" fill="rgb(82,82,82)"/>
<rect x="1415.3" y="765.2" width="30.5" height="30.5" fill="rgb(81,81,81)"/>
<rect x="1445.3" y="765.2" width="30.5" height="30.5" fill="rgb(80,80,80)"/>
<rect x="1475.3" y="765.2" width="30.5" height="30.5" fill="rgb(79,79,79)"/>
<rect x="1505.3" y="765.2" width="30.5" height="30.5" fill="rgb(77,77,77)"/>
<rect x="1535.3" y="765.2" width="30.5" height="30.5" fill="rgb(76,76,76)"/>
<rect x="1565.3" y="765.2" width="30.5" height="30.5" fill="rgb(74,74,74)"/>
<rect x="1595.3" y="765.2" width="30.5" height="30.5" fill="rgb(72,72,72)"/>
<rect x="1625.3" y="765.2" width="30.5" height="30.5" fill="rgb(71,71,71)"/>
<rect x="1655.3" y="765.2" width="30.5" height="30.5" fill="rgb(69,69,69)"/>
<rect x="1685.3" y="765.2" width="30.5" height="30.5" fill="rgb(66,66,66)"/>
<rect x="1715.3" y="765.2" width="30.5" height="30.5" fill="rgb(64,64,64)"/>
<rect x="1745.3" y="765.2" width="30.5" height="30.5" fill="rgb(61,61,61)"/>
<rect x="1775.3" y="765.2" width="30.5" height="30.5" fill="rgb(59,59,59)"/>
<rect x="1805.3" y="765.2" width="30.5" height="30.5" fill="rgb(56,56,56)"/>
<rect x="1835.3" y="765.2" width="30.5" height="30.5" fill="rgb(55,55,55)"/>
<rect x="1865.3" y="765.2" width="30.5" height="30.5" fill="rgb(55,55,55)"/>
</g>
<g filter="url(#mbl)" style="mix-blend-mode:plus-lighter">
<rect x="1055.3" y="-44.8" width="30.5" height="30.5" fill="rgb(48,48,48)"/>
<rect x="1085.3" y="-44.8" width="30.5" height="30.5" fill="rgb(48,48,48)"/>
<rect x="1115.3" y="-44.8" width="30.5" height="30.5" fill="rgb(48,48,48)"/>
<rect x="1145.3" y="-44.8" width="30.5" height="30.5" fill="rgb(49,49,49)"/>
<rect x="1175.3" y="-44.8" width="30.5" height="30.5" fill="rgb(50,50,50)"/>
<rect x="1205.3" y="-44.8" width="30.5" height="30.5" fill="rgb(50,50,50)"/>
<rect x="1235.3" y="-44.8" width="30.5" height="30.5" fill="rgb(51,51,51)"/>
<rect x="1265.3" y="-44.8" width="30.5" height="30.5" fill="rgb(52,52,52)"/>
<rect x="1295.3" y="-44.8" width="30.5" height="30.5" fill="rgb(53,53,53)"/>
<rect x="1325.3" y="-44.8" width="30.5" height="30.5" fill="rgb(54,54,54)"/>
<rect x="1355.3" y="-44.8" width="30.5" height="30.5" fill="rgb(55,55,55)"/>
<rect x="1385.3" y="-44.8" width="30.5" height="30.5" fill="rgb(56,56,56)"/>
<rect x="1415.3" y="-44.8" width="30.5" height="30.5" fill="rgb(57,57,57)"/>
<rect x="1445.3" y="-44.8" width="30.5" height="30.5" fill="rgb(58,58,58)"/>
<rect x="1475.3" y="-44.8" width="30.5" height="30.5" fill="rgb(59,59,59)"/>
<rect x="1505.3" y="-44.8" width="30.5" height="30.5" fill="rgb(60,60,60)"/>
<rect x="1535.3" y="-44.8" width="30.5" height="30.5" fill="rgb(61,61,61)"/>
<rect x="1565.3" y="-44.8" width="30.5" height="30.5" fill="rgb(62,62,62)"/>
<rect x="1595.3" y="-44.8" width="30.5" height="30.5" fill="rgb(63,63,63)"/>
<rect x="1625.3" y="-44.8" width="30.5" height="30.5" fill="rgb(64,64,64)"/>
<rect x="1655.3" y="-44.8" width="30.5" height="30.5" fill="rgb(65,65,65)"/>
<rect x="1685.3" y="-44.8" width="30.5" height="30.5" fill="rgb(66,66,66)"/>
<rect x="1715.3" y="-44.8" width="30.5" height="30.5" fill="rgb(67,67,67)"/>
<rect x="1745.3" y="-44.8" width="30.5" height="30.5" fill="rgb(68,68,68)"/>
<rect x="1775.3" y="-44.8" width="30.5" height="30.5" fill="rgb(69,69,69)"/>
<rect x="1805.3" y="-44.8" width="30.5" height="30.5" fill="rgb(70,70,70)"/>
<rect x="1835.3" y="-44.8" width="30.5" height="30.5" fill="rgb(70,70,70)"/>
<rect x="1865.3" y="-44.8" width="30.5" height="30.5" fill="rgb(70,70,70)"/>
<rect x="1055.3" y="-14.8" width="30.5" height="30.5" fill="rgb(48,48,48)"/>
<rect x="1085.3" y="-14.8" width="30.5" height="30.5" fill="rgb(48,48,48)"/>
<rect x="1115.3" y="-14.8" width="30.5" height="30.5" fill="rgb(48,48,48)"/>
<rect x="1145.3" y="-14.8" width="30.5" height="30.5" fill="rgb(49,49,49)"/>
<rect x="1175.3" y="-14.8" width="30.5" height="30.5" fill="rgb(50,50,50)"/>
<rect x="1205.3" y="-14.8" width="30.5" height="30.5" fill="rgb(50,50,50)"/>
<rect x="1235.3" y="-14.8" width="30.5" height="30.5" fill="rgb(51,51,51)"/>
<rect x="1265.3" y="-14.8" width="30.5" height="30.5" fill="rgb(52,52,52)"/>
<rect x="1295.3" y="-14.8" width="30.5" height="30.5" fill="rgb(53,53,53)"/>
<rect x="1325.3" y="-14.8" width="30.5" height="30.5" fill="rgb(54,54,54)"/>
<rect x="1355.3" y="-14.8" width="30.5" height="30.5" fill="rgb(55,55,55)"/>
<rect x="1385.3" y="-14.8" width="30.5" height="30.5" fill="rgb(56,56,56)"/>
<rect x="1415.3" y="-14.8" width="30.5" height="30.5" fill="rgb(57,57,57)"/>
<rect x="1445.3" y="-14.8" width="30.5" height="30.5" fill="rgb(58,58,58)"/>
<rect x="1475.3" y="-14.8" width="30.5" height="30.5" fill="rgb(59,59,59)"/>
<rect x="1505.3" y="-14.8" width="30.5" height="30.5" fill="rgb(60,60,60)"/>
<rect x="1535.3" y="-14.8" width="30.5" height="30.5" fill="rgb(61,61,61)"/>
<rect x="1565.3" y="-14.8" width="30.5" height="30.5" fill="rgb(62,62,62)"/>
<rect x="1595.3" y="-14.8" width="30.5" height="30.5" fill="rgb(63,63,63)"/>
<rect x="1625.3" y="-14.8" width="30.5" height="30.5" fill="rgb(64,64,64)"/>
<rect x="1655.3" y="-14.8" width="30.5" height="30.5" fill="rgb(65,65,65)"/>
<rect x="1685.3" y="-14.8" width="30.5" height="30.5" fill="rgb(66,66,66)"/>
<rect x="1715.3" y="-14.8" width="30.5" height="30.5" fill="rgb(67,67,67)"/>
<rect x="1745.3" y="-14.8" width="30.5" height="30.5" fill="rgb(68,68,68)"/>
<rect x="1775.3" y="-14.8" width="30.5" height="30.5" fill="rgb(69,69,69)"/>
<rect x="1805.3" y="-14.8" width="30.5" height="30.5" fill="rgb(70,70,70)"/>
<rect x="1835.3" y="-14.8" width="30.5" height="30.5" fill="rgb(70,70,70)"/>
<rect x="1865.3" y="-14.8" width="30.5" height="30.5" fill="rgb(70,70,70)"/>
<rect x="1055.3" y="15.2" width="30.5" height="30.5" fill="rgb(44,44,44)"/>
<rect x="1085.3" y="15.2" width="30.5" height="30.5" fill="rgb(44,44,44)"/>
<rect x="1115.3" y="15.2" width="30.5" height="30.5" fill="rgb(44,44,44)"/>
<rect x="1145.3" y="15.2" width="30.5" height="30.5" fill="rgb(45,45,45)"/>
<rect x="1175.3" y="15.2" width="30.5" height="30.5" fill="rgb(45,45,45)"/>
<rect x="1205.3" y="15.2" width="30.5" height="30.5" fill="rgb(46,46,46)"/>
<rect x="1235.3" y="15.2" width="30.5" height="30.5" fill="rgb(46,46,46)"/>
<rect x="1265.3" y="15.2" width="30.5" height="30.5" fill="rgb(47,47,47)"/>
<rect x="1295.3" y="15.2" width="30.5" height="30.5" fill="rgb(48,48,48)"/>
<rect x="1325.3" y="15.2" width="30.5" height="30.5" fill="rgb(49,49,49)"/>
<rect x="1355.3" y="15.2" width="30.5" height="30.5" fill="rgb(49,49,49)"/>
<rect x="1385.3" y="15.2" width="30.5" height="30.5" fill="rgb(50,50,50)"/>
<rect x="1415.3" y="15.2" width="30.5" height="30.5" fill="rgb(51,51,51)"/>
<rect x="1445.3" y="15.2" width="30.5" height="30.5" fill="rgb(52,52,52)"/>
<rect x="1475.3" y="15.2" width="30.5" height="30.5" fill="rgb(53,53,53)"/>
<rect x="1505.3" y="15.2" width="30.5" height="30.5" fill="rgb(54,54,54)"/>
<rect x="1535.3" y="15.2" width="30.5" height="30.5" fill="rgb(55,55,55)"/>
<rect x="1565.3" y="15.2" width="30.5" height="30.5" fill="rgb(56,56,56)"/>
<rect x="1595.3" y="15.2" width="30.5" height="30.5" fill="rgb(57,57,57)"/>
<rect x="1625.3" y="15.2" width="30.5" height="30.5" fill="rgb(58,58,58)"/>
<rect x="1655.3" y="15.2" width="30.5" height="30.5" fill="rgb(59,59,59)"/>
<rect x="1685.3" y="15.2" width="30.5" height="30.5" fill="rgb(59,59,59)"/>
<rect x="1715.3" y="15.2" width="30.5" height="30.5" fill="rgb(60,60,60)"/>
<rect x="1745.3" y="15.2" width="30.5" height="30.5" fill="rgb(61,61,61)"/>
<rect x="1775.3" y="15.2" width="30.5" height="30.5" fill="rgb(61,61,61)"/>
<rect x="1805.3" y="15.2" width="30.5" height="30.5" fill="rgb(62,62,62)"/>
<rect x="1835.3" y="15.2" width="30.5" height="30.5" fill="rgb(63,63,63)"/>
<rect x="1865.3" y="15.2" width="30.5" height="30.5" fill="rgb(63,63,63)"/>
<rect x="1055.3" y="45.2" width="30.5" height="30.5" fill="rgb(35,35,35)"/>
<rect x="1085.3" y="45.2" width="30.5" height="30.5" fill="rgb(35,35,35)"/>
<rect x="1115.3" y="45.2" width="30.5" height="30.5" fill="rgb(35,35,35)"/>
<rect x="1145.3" y="45.2" width="30.5" height="30.5" fill="rgb(36,36,36)"/>
<rect x="1175.3" y="45.2" width="30.5" height="30.5" fill="rgb(36,36,36)"/>
<rect x="1205.3" y="45.2" width="30.5" height="30.5" fill="rgb(37,37,37)"/>
<rect x="1235.3" y="45.2" width="30.5" height="30.5" fill="rgb(37,37,37)"/>
<rect x="1265.3" y="45.2" width="30.5" height="30.5" fill="rgb(38,38,38)"/>
<rect x="1295.3" y="45.2" width="30.5" height="30.5" fill="rgb(38,38,38)"/>
<rect x="1325.3" y="45.2" width="30.5" height="30.5" fill="rgb(39,39,39)"/>
<rect x="1355.3" y="45.2" width="30.5" height="30.5" fill="rgb(40,40,40)"/>
<rect x="1385.3" y="45.2" width="30.5" height="30.5" fill="rgb(40,40,40)"/>
<rect x="1415.3" y="45.2" width="30.5" height="30.5" fill="rgb(41,41,41)"/>
<rect x="1445.3" y="45.2" width="30.5" height="30.5" fill="rgb(42,42,42)"/>
<rect x="1475.3" y="45.2" width="30.5" height="30.5" fill="rgb(42,42,42)"/>
<rect x="1505.3" y="45.2" width="30.5" height="30.5" fill="rgb(43,43,43)"/>
<rect x="1535.3" y="45.2" width="30.5" height="30.5" fill="rgb(43,43,43)"/>
<rect x="1565.3" y="45.2" width="30.5" height="30.5" fill="rgb(44,44,44)"/>
<rect x="1595.3" y="45.2" width="30.5" height="30.5" fill="rgb(44,44,44)"/>
<rect x="1625.3" y="45.2" width="30.5" height="30.5" fill="rgb(45,45,45)"/>
<rect x="1655.3" y="45.2" width="30.5" height="30.5" fill="rgb(45,45,45)"/>
<rect x="1685.3" y="45.2" width="30.5" height="30.5" fill="rgb(46,46,46)"/>
<rect x="1715.3" y="45.2" width="30.5" height="30.5" fill="rgb(46,46,46)"/>
<rect x="1745.3" y="45.2" width="30.5" height="30.5" fill="rgb(47,47,47)"/>
<rect x="1775.3" y="45.2" width="30.5" height="30.5" fill="rgb(47,47,47)"/>
<rect x="1805.3" y="45.2" width="30.5" height="30.5" fill="rgb(48,48,48)"/>
<rect x="1835.3" y="45.2" width="30.5" height="30.5" fill="rgb(48,48,48)"/>
<rect x="1865.3" y="45.2" width="30.5" height="30.5" fill="rgb(48,48,48)"/>
<rect x="1055.3" y="75.2" width="30.5" height="30.5" fill="rgb(27,27,27)"/>
<rect x="1085.3" y="75.2" width="30.5" height="30.5" fill="rgb(27,27,27)"/>
<rect x="1115.3" y="75.2" width="30.5" height="30.5" fill="rgb(28,28,28)"/>
<rect x="1145.3" y="75.2" width="30.5" height="30.5" fill="rgb(29,29,29)"/>
<rect x="1175.3" y="75.2" width="30.5" height="30.5" fill="rgb(29,29,29)"/>
<rect x="1205.3" y="75.2" width="30.5" height="30.5" fill="rgb(30,30,30)"/>
<rect x="1235.3" y="75.2" width="30.5" height="30.5" fill="rgb(31,31,31)"/>
<rect x="1265.3" y="75.2" width="30.5" height="30.5" fill="rgb(32,32,32)"/>
<rect x="1295.3" y="75.2" width="30.5" height="30.5" fill="rgb(32,32,32)"/>
<rect x="1325.3" y="75.2" width="30.5" height="30.5" fill="rgb(32,32,32)"/>
<rect x="1355.3" y="75.2" width="30.5" height="30.5" fill="rgb(32,32,32)"/>
<rect x="1385.3" y="75.2" width="30.5" height="30.5" fill="rgb(33,33,33)"/>
<rect x="1415.3" y="75.2" width="30.5" height="30.5" fill="rgb(33,33,33)"/>
<rect x="1445.3" y="75.2" width="30.5" height="30.5" fill="rgb(33,33,33)"/>
<rect x="1475.3" y="75.2" width="30.5" height="30.5" fill="rgb(33,33,33)"/>
<rect x="1505.3" y="75.2" width="30.5" height="30.5" fill="rgb(33,33,33)"/>
<rect x="1535.3" y="75.2" width="30.5" height="30.5" fill="rgb(33,33,33)"/>
<rect x="1565.3" y="75.2" width="30.5" height="30.5" fill="rgb(33,33,33)"/>
<rect x="1595.3" y="75.2" width="30.5" height="30.5" fill="rgb(33,33,33)"/>
<rect x="1625.3" y="75.2" width="30.5" height="30.5" fill="rgb(34,34,34)"/>
<rect x="1655.3" y="75.2" width="30.5" height="30.5" fill="rgb(34,34,34)"/>
<rect x="1685.3" y="75.2" width="30.5" height="30.5" fill="rgb(34,34,34)"/>
<rect x="1715.3" y="75.2" width="30.5" height="30.5" fill="rgb(34,34,34)"/>
<rect x="1745.3" y="75.2" width="30.5" height="30.5" fill="rgb(34,34,34)"/>
<rect x="1775.3" y="75.2" width="30.5" height="30.5" fill="rgb(34,34,34)"/>
<rect x="1805.3" y="75.2" width="30.5" height="30.5" fill="rgb(34,34,34)"/>
<rect x="1835.3" y="75.2" width="30.5" height="30.5" fill="rgb(34,34,34)"/>
<rect x="1865.3" y="75.2" width="30.5" height="30.5" fill="rgb(34,34,34)"/>
<rect x="1055.3" y="105.2" width="30.5" height="30.5" fill="rgb(24,24,24)"/>
<rect x="1085.3" y="105.2" width="30.5" height="30.5" fill="rgb(24,24,24)"/>
<rect x="1115.3" y="105.2" width="30.5" height="30.5" fill="rgb(24,24,24)"/>
<rect x="1145.3" y="105.2" width="30.5" height="30.5" fill="rgb(25,25,25)"/>
<rect x="1175.3" y="105.2" width="30.5" height="30.5" fill="rgb(26,26,26)"/>
<rect x="1205.3" y="105.2" width="30.5" height="30.5" fill="rgb(26,26,26)"/>
<rect x="1235.3" y="105.2" width="30.5" height="30.5" fill="rgb(27,27,27)"/>
<rect x="1265.3" y="105.2" width="30.5" height="30.5" fill="rgb(28,28,28)"/>
<rect x="1295.3" y="105.2" width="30.5" height="30.5" fill="rgb(28,28,28)"/>
<rect x="1325.3" y="105.2" width="30.5" height="30.5" fill="rgb(28,28,28)"/>
<rect x="1355.3" y="105.2" width="30.5" height="30.5" fill="rgb(28,28,28)"/>
<rect x="1385.3" y="105.2" width="30.5" height="30.5" fill="rgb(28,28,28)"/>
<rect x="1415.3" y="105.2" width="30.5" height="30.5" fill="rgb(28,28,28)"/>
<rect x="1445.3" y="105.2" width="30.5" height="30.5" fill="rgb(28,28,28)"/>
<rect x="1475.3" y="105.2" width="30.5" height="30.5" fill="rgb(28,28,28)"/>
<rect x="1505.3" y="105.2" width="30.5" height="30.5" fill="rgb(28,28,28)"/>
<rect x="1535.3" y="105.2" width="30.5" height="30.5" fill="rgb(28,28,28)"/>
<rect x="1565.3" y="105.2" width="30.5" height="30.5" fill="rgb(28,28,28)"/>
<rect x="1595.3" y="105.2" width="30.5" height="30.5" fill="rgb(28,28,28)"/>
<rect x="1625.3" y="105.2" width="30.5" height="30.5" fill="rgb(28,28,28)"/>
<rect x="1655.3" y="105.2" width="30.5" height="30.5" fill="rgb(28,28,28)"/>
<rect x="1685.3" y="105.2" width="30.5" height="30.5" fill="rgb(28,28,28)"/>
<rect x="1715.3" y="105.2" width="30.5" height="30.5" fill="rgb(28,28,28)"/>
<rect x="1745.3" y="105.2" width="30.5" height="30.5" fill="rgb(28,28,28)"/>
<rect x="1775.3" y="105.2" width="30.5" height="30.5" fill="rgb(28,28,28)"/>
<rect x="1805.3" y="105.2" width="30.5" height="30.5" fill="rgb(28,28,28)"/>
<rect x="1835.3" y="105.2" width="30.5" height="30.5" fill="rgb(28,28,28)"/>
<rect x="1865.3" y="105.2" width="30.5" height="30.5" fill="rgb(28,28,28)"/>
<rect x="1055.3" y="135.2" width="30.5" height="30.5" fill="rgb(22,22,22)"/>
<rect x="1085.3" y="135.2" width="30.5" height="30.5" fill="rgb(22,22,22)"/>
<rect x="1115.3" y="135.2" width="30.5" height="30.5" fill="rgb(23,23,23)"/>
<rect x="1145.3" y="135.2" width="30.5" height="30.5" fill="rgb(23,23,23)"/>
<rect x="1175.3" y="135.2" width="30.5" height="30.5" fill="rgb(24,24,24)"/>
<rect x="1205.3" y="135.2" width="30.5" height="30.5" fill="rgb(24,24,24)"/>
<rect x="1235.3" y="135.2" width="30.5" height="30.5" fill="rgb(24,24,24)"/>
<rect x="1265.3" y="135.2" width="30.5" height="30.5" fill="rgb(25,25,25)"/>
<rect x="1295.3" y="135.2" width="30.5" height="30.5" fill="rgb(25,25,25)"/>
<rect x="1325.3" y="135.2" width="30.5" height="30.5" fill="rgb(25,25,25)"/>
<rect x="1355.3" y="135.2" width="30.5" height="30.5" fill="rgb(25,25,25)"/>
<rect x="1385.3" y="135.2" width="30.5" height="30.5" fill="rgb(25,25,25)"/>
<rect x="1415.3" y="135.2" width="30.5" height="30.5" fill="rgb(25,25,25)"/>
<rect x="1445.3" y="135.2" width="30.5" height="30.5" fill="rgb(25,25,25)"/>
<rect x="1475.3" y="135.2" width="30.5" height="30.5" fill="rgb(25,25,25)"/>
<rect x="1505.3" y="135.2" width="30.5" height="30.5" fill="rgb(25,25,25)"/>
<rect x="1535.3" y="135.2" width="30.5" height="30.5" fill="rgb(25,25,25)"/>
<rect x="1565.3" y="135.2" width="30.5" height="30.5" fill="rgb(25,25,25)"/>
<rect x="1595.3" y="135.2" width="30.5" height="30.5" fill="rgb(25,25,25)"/>
<rect x="1625.3" y="135.2" width="30.5" height="30.5" fill="rgb(25,25,25)"/>
<rect x="1655.3" y="135.2" width="30.5" height="30.5" fill="rgb(25,25,25)"/>
<rect x="1685.3" y="135.2" width="30.5" height="30.5" fill="rgb(25,25,25)"/>
<rect x="1715.3" y="135.2" width="30.5" height="30.5" fill="rgb(25,25,25)"/>
<rect x="1745.3" y="135.2" width="30.5" height="30.5" fill="rgb(25,25,25)"/>
<rect x="1775.3" y="135.2" width="30.5" height="30.5" fill="rgb(25,25,25)"/>
<rect x="1805.3" y="135.2" width="30.5" height="30.5" fill="rgb(25,25,25)"/>
<rect x="1835.3" y="135.2" width="30.5" height="30.5" fill="rgb(25,25,25)"/>
<rect x="1865.3" y="135.2" width="30.5" height="30.5" fill="rgb(25,25,25)"/>
<rect x="1055.3" y="165.2" width="30.5" height="30.5" fill="rgb(21,21,21)"/>
<rect x="1085.3" y="165.2" width="30.5" height="30.5" fill="rgb(21,21,21)"/>
<rect x="1115.3" y="165.2" width="30.5" height="30.5" fill="rgb(21,21,21)"/>
<rect x="1145.3" y="165.2" width="30.5" height="30.5" fill="rgb(21,21,21)"/>
<rect x="1175.3" y="165.2" width="30.5" height="30.5" fill="rgb(21,21,21)"/>
<rect x="1205.3" y="165.2" width="30.5" height="30.5" fill="rgb(22,22,22)"/>
<rect x="1235.3" y="165.2" width="30.5" height="30.5" fill="rgb(22,22,22)"/>
<rect x="1265.3" y="165.2" width="30.5" height="30.5" fill="rgb(22,22,22)"/>
<rect x="1295.3" y="165.2" width="30.5" height="30.5" fill="rgb(22,22,22)"/>
<rect x="1325.3" y="165.2" width="30.5" height="30.5" fill="rgb(22,22,22)"/>
<rect x="1355.3" y="165.2" width="30.5" height="30.5" fill="rgb(22,22,22)"/>
<rect x="1385.3" y="165.2" width="30.5" height="30.5" fill="rgb(22,22,22)"/>
<rect x="1415.3" y="165.2" width="30.5" height="30.5" fill="rgb(22,22,22)"/>
<rect x="1445.3" y="165.2" width="30.5" height="30.5" fill="rgb(22,22,22)"/>
<rect x="1475.3" y="165.2" width="30.5" height="30.5" fill="rgb(22,22,22)"/>
<rect x="1505.3" y="165.2" width="30.5" height="30.5" fill="rgb(22,22,22)"/>
<rect x="1535.3" y="165.2" width="30.5" height="30.5" fill="rgb(22,22,22)"/>
<rect x="1565.3" y="165.2" width="30.5" height="30.5" fill="rgb(22,22,22)"/>
<rect x="1595.3" y="165.2" width="30.5" height="30.5" fill="rgb(22,22,22)"/>
<rect x="1625.3" y="165.2" width="30.5" height="30.5" fill="rgb(22,22,22)"/>
<rect x="1655.3" y="165.2" width="30.5" height="30.5" fill="rgb(22,22,22)"/>
<rect x="1685.3" y="165.2" width="30.5" height="30.5" fill="rgb(22,22,22)"/>
<rect x="1715.3" y="165.2" width="30.5" height="30.5" fill="rgb(22,22,22)"/>
<rect x="1745.3" y="165.2" width="30.5" height="30.5" fill="rgb(22,22,22)"/>
<rect x="1775.3" y="165.2" width="30.5" height="30.5" fill="rgb(22,22,22)"/>
<rect x="1805.3" y="165.2" width="30.5" height="30.5" fill="rgb(22,22,22)"/>
<rect x="1835.3" y="165.2" width="30.5" height="30.5" fill="rgb(22,22,22)"/>
<rect x="1865.3" y="165.2" width="30.5" height="30.5" fill="rgb(22,22,22)"/>
<rect x="1055.3" y="195.2" width="30.5" height="30.5" fill="rgb(20,20,20)"/>
<rect x="1085.3" y="195.2" width="30.5" height="30.5" fill="rgb(20,20,20)"/>
<rect x="1115.3" y="195.2" width="30.5" height="30.5" fill="rgb(20,20,20)"/>
<rect x="1145.3" y="195.2" width="30.5" height="30.5" fill="rgb(20,20,20)"/>
<rect x="1175.3" y="195.2" width="30.5" height="30.5" fill="rgb(20,20,20)"/>
<rect x="1205.3" y="195.2" width="30.5" height="30.5" fill="rgb(20,20,20)"/>
<rect x="1235.3" y="195.2" width="30.5" height="30.5" fill="rgb(20,20,20)"/>
<rect x="1265.3" y="195.2" width="30.5" height="30.5" fill="rgb(20,20,20)"/>
<rect x="1295.3" y="195.2" width="30.5" height="30.5" fill="rgb(20,20,20)"/>
<rect x="1325.3" y="195.2" width="30.5" height="30.5" fill="rgb(20,20,20)"/>
<rect x="1355.3" y="195.2" width="30.5" height="30.5" fill="rgb(20,20,20)"/>
<rect x="1385.3" y="195.2" width="30.5" height="30.5" fill="rgb(20,20,20)"/>
<rect x="1415.3" y="195.2" width="30.5" height="30.5" fill="rgb(20,20,20)"/>
<rect x="1445.3" y="195.2" width="30.5" height="30.5" fill="rgb(20,20,20)"/>
<rect x="1475.3" y="195.2" width="30.5" height="30.5" fill="rgb(20,20,20)"/>
<rect x="1505.3" y="195.2" width="30.5" height="30.5" fill="rgb(20,20,20)"/>
<rect x="1535.3" y="195.2" width="30.5" height="30.5" fill="rgb(20,20,20)"/>
<rect x="1565.3" y="195.2" width="30.5" height="30.5" fill="rgb(20,20,20)"/>
<rect x="1595.3" y="195.2" width="30.5" height="30.5" fill="rgb(20,20,20)"/>
<rect x="1625.3" y="195.2" width="30.5" height="30.5" fill="rgb(20,20,20)"/>
<rect x="1655.3" y="195.2" width="30.5" height="30.5" fill="rgb(20,20,20)"/>
<rect x="1685.3" y="195.2" width="30.5" height="30.5" fill="rgb(20,20,20)"/>
<rect x="1715.3" y="195.2" width="30.5" height="30.5" fill="rgb(20,20,20)"/>
<rect x="1745.3" y="195.2" width="30.5" height="30.5" fill="rgb(20,20,20)"/>
<rect x="1775.3" y="195.2" width="30.5" height="30.5" fill="rgb(20,20,20)"/>
<rect x="1805.3" y="195.2" width="30.5" height="30.5" fill="rgb(20,20,20)"/>
<rect x="1835.3" y="195.2" width="30.5" height="30.5" fill="rgb(20,20,20)"/>
<rect x="1865.3" y="195.2" width="30.5" height="30.5" fill="rgb(20,20,20)"/>
<rect x="1055.3" y="225.2" width="30.5" height="30.5" fill="rgb(20,20,20)"/>
<rect x="1085.3" y="225.2" width="30.5" height="30.5" fill="rgb(20,20,20)"/>
<rect x="1115.3" y="225.2" width="30.5" height="30.5" fill="rgb(20,20,20)"/>
<rect x="1145.3" y="225.2" width="30.5" height="30.5" fill="rgb(20,20,20)"/>
<rect x="1175.3" y="225.2" width="30.5" height="30.5" fill="rgb(20,20,20)"/>
<rect x="1205.3" y="225.2" width="30.5" height="30.5" fill="rgb(20,20,20)"/>
<rect x="1235.3" y="225.2" width="30.5" height="30.5" fill="rgb(20,20,20)"/>
<rect x="1265.3" y="225.2" width="30.5" height="30.5" fill="rgb(20,20,20)"/>
<rect x="1295.3" y="225.2" width="30.5" height="30.5" fill="rgb(20,20,20)"/>
<rect x="1325.3" y="225.2" width="30.5" height="30.5" fill="rgb(20,20,20)"/>
<rect x="1355.3" y="225.2" width="30.5" height="30.5" fill="rgb(20,20,20)"/>
<rect x="1385.3" y="225.2" width="30.5" height="30.5" fill="rgb(20,20,20)"/>
<rect x="1415.3" y="225.2" width="30.5" height="30.5" fill="rgb(20,20,20)"/>
<rect x="1445.3" y="225.2" width="30.5" height="30.5" fill="rgb(20,20,20)"/>
<rect x="1475.3" y="225.2" width="30.5" height="30.5" fill="rgb(20,20,20)"/>
<rect x="1505.3" y="225.2" width="30.5" height="30.5" fill="rgb(20,20,20)"/>
<rect x="1535.3" y="225.2" width="30.5" height="30.5" fill="rgb(20,20,20)"/>
<rect x="1565.3" y="225.2" width="30.5" height="30.5" fill="rgb(20,20,20)"/>
<rect x="1595.3" y="225.2" width="30.5" height="30.5" fill="rgb(20,20,20)"/>
<rect x="1625.3" y="225.2" width="30.5" height="30.5" fill="rgb(20,20,20)"/>
<rect x="1655.3" y="225.2" width="30.5" height="30.5" fill="rgb(20,20,20)"/>
<rect x="1685.3" y="225.2" width="30.5" height="30.5" fill="rgb(21,21,21)"/>
<rect x="1715.3" y="225.2" width="30.5" height="30.5" fill="rgb(21,21,21)"/>
<rect x="1745.3" y="225.2" width="30.5" height="30.5" fill="rgb(21,21,21)"/>
<rect x="1775.3" y="225.2" width="30.5" height="30.5" fill="rgb(21,21,21)"/>
<rect x="1805.3" y="225.2" width="30.5" height="30.5" fill="rgb(21,21,21)"/>
<rect x="1835.3" y="225.2" width="30.5" height="30.5" fill="rgb(21,21,21)"/>
<rect x="1865.3" y="225.2" width="30.5" height="30.5" fill="rgb(21,21,21)"/>
<rect x="1055.3" y="255.2" width="30.5" height="30.5" fill="rgb(20,20,20)"/>
<rect x="1085.3" y="255.2" width="30.5" height="30.5" fill="rgb(20,20,20)"/>
<rect x="1115.3" y="255.2" width="30.5" height="30.5" fill="rgb(20,20,20)"/>
<rect x="1145.3" y="255.2" width="30.5" height="30.5" fill="rgb(20,20,20)"/>
<rect x="1175.3" y="255.2" width="30.5" height="30.5" fill="rgb(20,20,20)"/>
<rect x="1205.3" y="255.2" width="30.5" height="30.5" fill="rgb(20,20,20)"/>
<rect x="1235.3" y="255.2" width="30.5" height="30.5" fill="rgb(20,20,20)"/>
<rect x="1265.3" y="255.2" width="30.5" height="30.5" fill="rgb(20,20,20)"/>
<rect x="1295.3" y="255.2" width="30.5" height="30.5" fill="rgb(20,20,20)"/>
<rect x="1325.3" y="255.2" width="30.5" height="30.5" fill="rgb(20,20,20)"/>
<rect x="1355.3" y="255.2" width="30.5" height="30.5" fill="rgb(20,20,20)"/>
<rect x="1385.3" y="255.2" width="30.5" height="30.5" fill="rgb(20,20,20)"/>
<rect x="1415.3" y="255.2" width="30.5" height="30.5" fill="rgb(20,20,20)"/>
<rect x="1445.3" y="255.2" width="30.5" height="30.5" fill="rgb(20,20,20)"/>
<rect x="1475.3" y="255.2" width="30.5" height="30.5" fill="rgb(20,20,20)"/>
<rect x="1505.3" y="255.2" width="30.5" height="30.5" fill="rgb(20,20,20)"/>
<rect x="1535.3" y="255.2" width="30.5" height="30.5" fill="rgb(20,20,20)"/>
<rect x="1565.3" y="255.2" width="30.5" height="30.5" fill="rgb(20,20,20)"/>
<rect x="1595.3" y="255.2" width="30.5" height="30.5" fill="rgb(21,21,21)"/>
<rect x="1625.3" y="255.2" width="30.5" height="30.5" fill="rgb(21,21,21)"/>
<rect x="1655.3" y="255.2" width="30.5" height="30.5" fill="rgb(21,21,21)"/>
<rect x="1685.3" y="255.2" width="30.5" height="30.5" fill="rgb(21,21,21)"/>
<rect x="1715.3" y="255.2" width="30.5" height="30.5" fill="rgb(21,21,21)"/>
<rect x="1745.3" y="255.2" width="30.5" height="30.5" fill="rgb(21,21,21)"/>
<rect x="1775.3" y="255.2" width="30.5" height="30.5" fill="rgb(21,21,21)"/>
<rect x="1805.3" y="255.2" width="30.5" height="30.5" fill="rgb(22,22,22)"/>
<rect x="1835.3" y="255.2" width="30.5" height="30.5" fill="rgb(22,22,22)"/>
<rect x="1865.3" y="255.2" width="30.5" height="30.5" fill="rgb(22,22,22)"/>
<rect x="1055.3" y="285.2" width="30.5" height="30.5" fill="rgb(20,20,20)"/>
<rect x="1085.3" y="285.2" width="30.5" height="30.5" fill="rgb(20,20,20)"/>
<rect x="1115.3" y="285.2" width="30.5" height="30.5" fill="rgb(20,20,20)"/>
<rect x="1145.3" y="285.2" width="30.5" height="30.5" fill="rgb(20,20,20)"/>
<rect x="1175.3" y="285.2" width="30.5" height="30.5" fill="rgb(20,20,20)"/>
<rect x="1205.3" y="285.2" width="30.5" height="30.5" fill="rgb(20,20,20)"/>
<rect x="1235.3" y="285.2" width="30.5" height="30.5" fill="rgb(20,20,20)"/>
<rect x="1265.3" y="285.2" width="30.5" height="30.5" fill="rgb(20,20,20)"/>
<rect x="1295.3" y="285.2" width="30.5" height="30.5" fill="rgb(20,20,20)"/>
<rect x="1325.3" y="285.2" width="30.5" height="30.5" fill="rgb(20,20,20)"/>
<rect x="1355.3" y="285.2" width="30.5" height="30.5" fill="rgb(20,20,20)"/>
<rect x="1385.3" y="285.2" width="30.5" height="30.5" fill="rgb(20,20,20)"/>
<rect x="1415.3" y="285.2" width="30.5" height="30.5" fill="rgb(20,20,20)"/>
<rect x="1445.3" y="285.2" width="30.5" height="30.5" fill="rgb(20,20,20)"/>
<rect x="1475.3" y="285.2" width="30.5" height="30.5" fill="rgb(20,20,20)"/>
<rect x="1505.3" y="285.2" width="30.5" height="30.5" fill="rgb(20,20,20)"/>
<rect x="1535.3" y="285.2" width="30.5" height="30.5" fill="rgb(20,20,20)"/>
<rect x="1565.3" y="285.2" width="30.5" height="30.5" fill="rgb(21,21,21)"/>
<rect x="1595.3" y="285.2" width="30.5" height="30.5" fill="rgb(21,21,21)"/>
<rect x="1625.3" y="285.2" width="30.5" height="30.5" fill="rgb(21,21,21)"/>
<rect x="1655.3" y="285.2" width="30.5" height="30.5" fill="rgb(21,21,21)"/>
<rect x="1685.3" y="285.2" width="30.5" height="30.5" fill="rgb(21,21,21)"/>
<rect x="1715.3" y="285.2" width="30.5" height="30.5" fill="rgb(22,22,22)"/>
<rect x="1745.3" y="285.2" width="30.5" height="30.5" fill="rgb(22,22,22)"/>
<rect x="1775.3" y="285.2" width="30.5" height="30.5" fill="rgb(22,22,22)"/>
<rect x="1805.3" y="285.2" width="30.5" height="30.5" fill="rgb(22,22,22)"/>
<rect x="1835.3" y="285.2" width="30.5" height="30.5" fill="rgb(22,22,22)"/>
<rect x="1865.3" y="285.2" width="30.5" height="30.5" fill="rgb(22,22,22)"/>
<rect x="1055.3" y="315.2" width="30.5" height="30.5" fill="rgb(20,20,20)"/>
<rect x="1085.3" y="315.2" width="30.5" height="30.5" fill="rgb(20,20,20)"/>
<rect x="1115.3" y="315.2" width="30.5" height="30.5" fill="rgb(20,20,20)"/>
<rect x="1145.3" y="315.2" width="30.5" height="30.5" fill="rgb(20,20,20)"/>
<rect x="1175.3" y="315.2" width="30.5" height="30.5" fill="rgb(20,20,20)"/>
<rect x="1205.3" y="315.2" width="30.5" height="30.5" fill="rgb(20,20,20)"/>
<rect x="1235.3" y="315.2" width="30.5" height="30.5" fill="rgb(20,20,20)"/>
<rect x="1265.3" y="315.2" width="30.5" height="30.5" fill="rgb(20,20,20)"/>
<rect x="1295.3" y="315.2" width="30.5" height="30.5" fill="rgb(20,20,20)"/>
<rect x="1325.3" y="315.2" width="30.5" height="30.5" fill="rgb(20,20,20)"/>
<rect x="1355.3" y="315.2" width="30.5" height="30.5" fill="rgb(20,20,20)"/>
<rect x="1385.3" y="315.2" width="30.5" height="30.5" fill="rgb(20,20,20)"/>
<rect x="1415.3" y="315.2" width="30.5" height="30.5" fill="rgb(20,20,20)"/>
<rect x="1445.3" y="315.2" width="30.5" height="30.5" fill="rgb(20,20,20)"/>
<rect x="1475.3" y="315.2" width="30.5" height="30.5" fill="rgb(20,20,20)"/>
<rect x="1505.3" y="315.2" width="30.5" height="30.5" fill="rgb(20,20,20)"/>
<rect x="1535.3" y="315.2" width="30.5" height="30.5" fill="rgb(21,21,21)"/>
<rect x="1565.3" y="315.2" width="30.5" height="30.5" fill="rgb(21,21,21)"/>
<rect x="1595.3" y="315.2" width="30.5" height="30.5" fill="rgb(21,21,21)"/>
<rect x="1625.3" y="315.2" width="30.5" height="30.5" fill="rgb(21,21,21)"/>
<rect x="1655.3" y="315.2" width="30.5" height="30.5" fill="rgb(22,22,22)"/>
<rect x="1685.3" y="315.2" width="30.5" height="30.5" fill="rgb(22,22,22)"/>
<rect x="1715.3" y="315.2" width="30.5" height="30.5" fill="rgb(22,22,22)"/>
<rect x="1745.3" y="315.2" width="30.5" height="30.5" fill="rgb(22,22,22)"/>
<rect x="1775.3" y="315.2" width="30.5" height="30.5" fill="rgb(23,23,23)"/>
<rect x="1805.3" y="315.2" width="30.5" height="30.5" fill="rgb(23,23,23)"/>
<rect x="1835.3" y="315.2" width="30.5" height="30.5" fill="rgb(23,23,23)"/>
<rect x="1865.3" y="315.2" width="30.5" height="30.5" fill="rgb(23,23,23)"/>
<rect x="1055.3" y="345.2" width="30.5" height="30.5" fill="rgb(20,20,20)"/>
<rect x="1085.3" y="345.2" width="30.5" height="30.5" fill="rgb(20,20,20)"/>
<rect x="1115.3" y="345.2" width="30.5" height="30.5" fill="rgb(20,20,20)"/>
<rect x="1145.3" y="345.2" width="30.5" height="30.5" fill="rgb(20,20,20)"/>
<rect x="1175.3" y="345.2" width="30.5" height="30.5" fill="rgb(20,20,20)"/>
<rect x="1205.3" y="345.2" width="30.5" height="30.5" fill="rgb(20,20,20)"/>
<rect x="1235.3" y="345.2" width="30.5" height="30.5" fill="rgb(20,20,20)"/>
<rect x="1265.3" y="345.2" width="30.5" height="30.5" fill="rgb(20,20,20)"/>
<rect x="1295.3" y="345.2" width="30.5" height="30.5" fill="rgb(20,20,20)"/>
<rect x="1325.3" y="345.2" width="30.5" height="30.5" fill="rgb(20,20,20)"/>
<rect x="1355.3" y="345.2" width="30.5" height="30.5" fill="rgb(20,20,20)"/>
<rect x="1385.3" y="345.2" width="30.5" height="30.5" fill="rgb(20,20,20)"/>
<rect x="1415.3" y="345.2" width="30.5" height="30.5" fill="rgb(20,20,20)"/>
<rect x="1445.3" y="345.2" width="30.5" height="30.5" fill="rgb(20,20,20)"/>
<rect x="1475.3" y="345.2" width="30.5" height="30.5" fill="rgb(20,20,20)"/>
<rect x="1505.3" y="345.2" width="30.5" height="30.5" fill="rgb(20,20,20)"/>
<rect x="1535.3" y="345.2" width="30.5" height="30.5" fill="rgb(21,21,21)"/>
<rect x="1565.3" y="345.2" width="30.5" height="30.5" fill="rgb(21,21,21)"/>
<rect x="1595.3" y="345.2" width="30.5" height="30.5" fill="rgb(21,21,21)"/>
<rect x="1625.3" y="345.2" width="30.5" height="30.5" fill="rgb(22,22,22)"/>
<rect x="1655.3" y="345.2" width="30.5" height="30.5" fill="rgb(22,22,22)"/>
<rect x="1685.3" y="345.2" width="30.5" height="30.5" fill="rgb(22,22,22)"/>
<rect x="1715.3" y="345.2" width="30.5" height="30.5" fill="rgb(23,23,23)"/>
<rect x="1745.3" y="345.2" width="30.5" height="30.5" fill="rgb(23,23,23)"/>
<rect x="1775.3" y="345.2" width="30.5" height="30.5" fill="rgb(23,23,23)"/>
<rect x="1805.3" y="345.2" width="30.5" height="30.5" fill="rgb(24,24,24)"/>
<rect x="1835.3" y="345.2" width="30.5" height="30.5" fill="rgb(24,24,24)"/>
<rect x="1865.3" y="345.2" width="30.5" height="30.5" fill="rgb(24,24,24)"/>
<rect x="1055.3" y="375.2" width="30.5" height="30.5" fill="rgb(20,20,20)"/>
<rect x="1085.3" y="375.2" width="30.5" height="30.5" fill="rgb(20,20,20)"/>
<rect x="1115.3" y="375.2" width="30.5" height="30.5" fill="rgb(20,20,20)"/>
<rect x="1145.3" y="375.2" width="30.5" height="30.5" fill="rgb(20,20,20)"/>
<rect x="1175.3" y="375.2" width="30.5" height="30.5" fill="rgb(20,20,20)"/>
<rect x="1205.3" y="375.2" width="30.5" height="30.5" fill="rgb(20,20,20)"/>
<rect x="1235.3" y="375.2" width="30.5" height="30.5" fill="rgb(20,20,20)"/>
<rect x="1265.3" y="375.2" width="30.5" height="30.5" fill="rgb(20,20,20)"/>
<rect x="1295.3" y="375.2" width="30.5" height="30.5" fill="rgb(20,20,20)"/>
<rect x="1325.3" y="375.2" width="30.5" height="30.5" fill="rgb(20,20,20)"/>
<rect x="1355.3" y="375.2" width="30.5" height="30.5" fill="rgb(20,20,20)"/>
<rect x="1385.3" y="375.2" width="30.5" height="30.5" fill="rgb(20,20,20)"/>
<rect x="1415.3" y="375.2" width="30.5" height="30.5" fill="rgb(20,20,20)"/>
<rect x="1445.3" y="375.2" width="30.5" height="30.5" fill="rgb(20,20,20)"/>
<rect x="1475.3" y="375.2" width="30.5" height="30.5" fill="rgb(20,20,20)"/>
<rect x="1505.3" y="375.2" width="30.5" height="30.5" fill="rgb(21,21,21)"/>
<rect x="1535.3" y="375.2" width="30.5" height="30.5" fill="rgb(21,21,21)"/>
<rect x="1565.3" y="375.2" width="30.5" height="30.5" fill="rgb(21,21,21)"/>
<rect x="1595.3" y="375.2" width="30.5" height="30.5" fill="rgb(22,22,22)"/>
<rect x="1625.3" y="375.2" width="30.5" height="30.5" fill="rgb(22,22,22)"/>
<rect x="1655.3" y="375.2" width="30.5" height="30.5" fill="rgb(22,22,22)"/>
<rect x="1685.3" y="375.2" width="30.5" height="30.5" fill="rgb(23,23,23)"/>
<rect x="1715.3" y="375.2" width="30.5" height="30.5" fill="rgb(23,23,23)"/>
<rect x="1745.3" y="375.2" width="30.5" height="30.5" fill="rgb(23,23,23)"/>
<rect x="1775.3" y="375.2" width="30.5" height="30.5" fill="rgb(24,24,24)"/>
<rect x="1805.3" y="375.2" width="30.5" height="30.5" fill="rgb(24,24,24)"/>
<rect x="1835.3" y="375.2" width="30.5" height="30.5" fill="rgb(24,24,24)"/>
<rect x="1865.3" y="375.2" width="30.5" height="30.5" fill="rgb(24,24,24)"/>
<rect x="1055.3" y="405.2" width="30.5" height="30.5" fill="rgb(20,20,20)"/>
<rect x="1085.3" y="405.2" width="30.5" height="30.5" fill="rgb(20,20,20)"/>
<rect x="1115.3" y="405.2" width="30.5" height="30.5" fill="rgb(20,20,20)"/>
<rect x="1145.3" y="405.2" width="30.5" height="30.5" fill="rgb(20,20,20)"/>
<rect x="1175.3" y="405.2" width="30.5" height="30.5" fill="rgb(20,20,20)"/>
<rect x="1205.3" y="405.2" width="30.5" height="30.5" fill="rgb(20,20,20)"/>
<rect x="1235.3" y="405.2" width="30.5" height="30.5" fill="rgb(20,20,20)"/>
<rect x="1265.3" y="405.2" width="30.5" height="30.5" fill="rgb(20,20,20)"/>
<rect x="1295.3" y="405.2" width="30.5" height="30.5" fill="rgb(20,20,20)"/>
<rect x="1325.3" y="405.2" width="30.5" height="30.5" fill="rgb(20,20,20)"/>
<rect x="1355.3" y="405.2" width="30.5" height="30.5" fill="rgb(20,20,20)"/>
<rect x="1385.3" y="405.2" width="30.5" height="30.5" fill="rgb(20,20,20)"/>
<rect x="1415.3" y="405.2" width="30.5" height="30.5" fill="rgb(20,20,20)"/>
<rect x="1445.3" y="405.2" width="30.5" height="30.5" fill="rgb(20,20,20)"/>
<rect x="1475.3" y="405.2" width="30.5" height="30.5" fill="rgb(20,20,20)"/>
<rect x="1505.3" y="405.2" width="30.5" height="30.5" fill="rgb(21,21,21)"/>
<rect x="1535.3" y="405.2" width="30.5" height="30.5" fill="rgb(21,21,21)"/>
<rect x="1565.3" y="405.2" width="30.5" height="30.5" fill="rgb(21,21,21)"/>
<rect x="1595.3" y="405.2" width="30.5" height="30.5" fill="rgb(22,22,22)"/>
<rect x="1625.3" y="405.2" width="30.5" height="30.5" fill="rgb(22,22,22)"/>
<rect x="1655.3" y="405.2" width="30.5" height="30.5" fill="rgb(23,23,23)"/>
<rect x="1685.3" y="405.2" width="30.5" height="30.5" fill="rgb(23,23,23)"/>
<rect x="1715.3" y="405.2" width="30.5" height="30.5" fill="rgb(24,24,24)"/>
<rect x="1745.3" y="405.2" width="30.5" height="30.5" fill="rgb(24,24,24)"/>
<rect x="1775.3" y="405.2" width="30.5" height="30.5" fill="rgb(24,24,24)"/>
<rect x="1805.3" y="405.2" width="30.5" height="30.5" fill="rgb(25,25,25)"/>
<rect x="1835.3" y="405.2" width="30.5" height="30.5" fill="rgb(25,25,25)"/>
<rect x="1865.3" y="405.2" width="30.5" height="30.5" fill="rgb(25,25,25)"/>
<rect x="1055.3" y="435.2" width="30.5" height="30.5" fill="rgb(20,20,20)"/>
<rect x="1085.3" y="435.2" width="30.5" height="30.5" fill="rgb(20,20,20)"/>
<rect x="1115.3" y="435.2" width="30.5" height="30.5" fill="rgb(20,20,20)"/>
<rect x="1145.3" y="435.2" width="30.5" height="30.5" fill="rgb(20,20,20)"/>
<rect x="1175.3" y="435.2" width="30.5" height="30.5" fill="rgb(20,20,20)"/>
<rect x="1205.3" y="435.2" width="30.5" height="30.5" fill="rgb(20,20,20)"/>
<rect x="1235.3" y="435.2" width="30.5" height="30.5" fill="rgb(20,20,20)"/>
<rect x="1265.3" y="435.2" width="30.5" height="30.5" fill="rgb(20,20,20)"/>
<rect x="1295.3" y="435.2" width="30.5" height="30.5" fill="rgb(20,20,20)"/>
<rect x="1325.3" y="435.2" width="30.5" height="30.5" fill="rgb(20,20,20)"/>
<rect x="1355.3" y="435.2" width="30.5" height="30.5" fill="rgb(20,20,20)"/>
<rect x="1385.3" y="435.2" width="30.5" height="30.5" fill="rgb(20,20,20)"/>
<rect x="1415.3" y="435.2" width="30.5" height="30.5" fill="rgb(20,20,20)"/>
<rect x="1445.3" y="435.2" width="30.5" height="30.5" fill="rgb(20,20,20)"/>
<rect x="1475.3" y="435.2" width="30.5" height="30.5" fill="rgb(20,20,20)"/>
<rect x="1505.3" y="435.2" width="30.5" height="30.5" fill="rgb(21,21,21)"/>
<rect x="1535.3" y="435.2" width="30.5" height="30.5" fill="rgb(21,21,21)"/>
<rect x="1565.3" y="435.2" width="30.5" height="30.5" fill="rgb(22,22,22)"/>
<rect x="1595.3" y="435.2" width="30.5" height="30.5" fill="rgb(22,22,22)"/>
<rect x="1625.3" y="435.2" width="30.5" height="30.5" fill="rgb(23,23,23)"/>
<rect x="1655.3" y="435.2" width="30.5" height="30.5" fill="rgb(23,23,23)"/>
<rect x="1685.3" y="435.2" width="30.5" height="30.5" fill="rgb(24,24,24)"/>
<rect x="1715.3" y="435.2" width="30.5" height="30.5" fill="rgb(24,24,24)"/>
<rect x="1745.3" y="435.2" width="30.5" height="30.5" fill="rgb(25,25,25)"/>
<rect x="1775.3" y="435.2" width="30.5" height="30.5" fill="rgb(25,25,25)"/>
<rect x="1805.3" y="435.2" width="30.5" height="30.5" fill="rgb(25,25,25)"/>
<rect x="1835.3" y="435.2" width="30.5" height="30.5" fill="rgb(26,26,26)"/>
<rect x="1865.3" y="435.2" width="30.5" height="30.5" fill="rgb(26,26,26)"/>
<rect x="1055.3" y="465.2" width="30.5" height="30.5" fill="rgb(20,20,20)"/>
<rect x="1085.3" y="465.2" width="30.5" height="30.5" fill="rgb(20,20,20)"/>
<rect x="1115.3" y="465.2" width="30.5" height="30.5" fill="rgb(20,20,20)"/>
<rect x="1145.3" y="465.2" width="30.5" height="30.5" fill="rgb(20,20,20)"/>
<rect x="1175.3" y="465.2" width="30.5" height="30.5" fill="rgb(20,20,20)"/>
<rect x="1205.3" y="465.2" width="30.5" height="30.5" fill="rgb(20,20,20)"/>
<rect x="1235.3" y="465.2" width="30.5" height="30.5" fill="rgb(20,20,20)"/>
<rect x="1265.3" y="465.2" width="30.5" height="30.5" fill="rgb(20,20,20)"/>
<rect x="1295.3" y="465.2" width="30.5" height="30.5" fill="rgb(20,20,20)"/>
<rect x="1325.3" y="465.2" width="30.5" height="30.5" fill="rgb(20,20,20)"/>
<rect x="1355.3" y="465.2" width="30.5" height="30.5" fill="rgb(20,20,20)"/>
<rect x="1385.3" y="465.2" width="30.5" height="30.5" fill="rgb(20,20,20)"/>
<rect x="1415.3" y="465.2" width="30.5" height="30.5" fill="rgb(20,20,20)"/>
<rect x="1445.3" y="465.2" width="30.5" height="30.5" fill="rgb(20,20,20)"/>
<rect x="1475.3" y="465.2" width="30.5" height="30.5" fill="rgb(20,20,20)"/>
<rect x="1505.3" y="465.2" width="30.5" height="30.5" fill="rgb(21,21,21)"/>
<rect x="1535.3" y="465.2" width="30.5" height="30.5" fill="rgb(21,21,21)"/>
<rect x="1565.3" y="465.2" width="30.5" height="30.5" fill="rgb(22,22,22)"/>
<rect x="1595.3" y="465.2" width="30.5" height="30.5" fill="rgb(22,22,22)"/>
<rect x="1625.3" y="465.2" width="30.5" height="30.5" fill="rgb(23,23,23)"/>
<rect x="1655.3" y="465.2" width="30.5" height="30.5" fill="rgb(23,23,23)"/>
<rect x="1685.3" y="465.2" width="30.5" height="30.5" fill="rgb(24,24,24)"/>
<rect x="1715.3" y="465.2" width="30.5" height="30.5" fill="rgb(25,25,25)"/>
<rect x="1745.3" y="465.2" width="30.5" height="30.5" fill="rgb(25,25,25)"/>
<rect x="1775.3" y="465.2" width="30.5" height="30.5" fill="rgb(26,26,26)"/>
<rect x="1805.3" y="465.2" width="30.5" height="30.5" fill="rgb(26,26,26)"/>
<rect x="1835.3" y="465.2" width="30.5" height="30.5" fill="rgb(26,26,26)"/>
<rect x="1865.3" y="465.2" width="30.5" height="30.5" fill="rgb(26,26,26)"/>
<rect x="1055.3" y="495.2" width="30.5" height="30.5" fill="rgb(20,20,20)"/>
<rect x="1085.3" y="495.2" width="30.5" height="30.5" fill="rgb(20,20,20)"/>
<rect x="1115.3" y="495.2" width="30.5" height="30.5" fill="rgb(20,20,20)"/>
<rect x="1145.3" y="495.2" width="30.5" height="30.5" fill="rgb(20,20,20)"/>
<rect x="1175.3" y="495.2" width="30.5" height="30.5" fill="rgb(20,20,20)"/>
<rect x="1205.3" y="495.2" width="30.5" height="30.5" fill="rgb(20,20,20)"/>
<rect x="1235.3" y="495.2" width="30.5" height="30.5" fill="rgb(20,20,20)"/>
<rect x="1265.3" y="495.2" width="30.5" height="30.5" fill="rgb(20,20,20)"/>
<rect x="1295.3" y="495.2" width="30.5" height="30.5" fill="rgb(20,20,20)"/>
<rect x="1325.3" y="495.2" width="30.5" height="30.5" fill="rgb(20,20,20)"/>
<rect x="1355.3" y="495.2" width="30.5" height="30.5" fill="rgb(20,20,20)"/>
<rect x="1385.3" y="495.2" width="30.5" height="30.5" fill="rgb(20,20,20)"/>
<rect x="1415.3" y="495.2" width="30.5" height="30.5" fill="rgb(20,20,20)"/>
<rect x="1445.3" y="495.2" width="30.5" height="30.5" fill="rgb(20,20,20)"/>
<rect x="1475.3" y="495.2" width="30.5" height="30.5" fill="rgb(20,20,20)"/>
<rect x="1505.3" y="495.2" width="30.5" height="30.5" fill="rgb(21,21,21)"/>
<rect x="1535.3" y="495.2" width="30.5" height="30.5" fill="rgb(21,21,21)"/>
<rect x="1565.3" y="495.2" width="30.5" height="30.5" fill="rgb(22,22,22)"/>
<rect x="1595.3" y="495.2" width="30.5" height="30.5" fill="rgb(23,23,23)"/>
<rect x="1625.3" y="495.2" width="30.5" height="30.5" fill="rgb(23,23,23)"/>
<rect x="1655.3" y="495.2" width="30.5" height="30.5" fill="rgb(24,24,24)"/>
<rect x="1685.3" y="495.2" width="30.5" height="30.5" fill="rgb(24,24,24)"/>
<rect x="1715.3" y="495.2" width="30.5" height="30.5" fill="rgb(25,25,25)"/>
<rect x="1745.3" y="495.2" width="30.5" height="30.5" fill="rgb(26,26,26)"/>
<rect x="1775.3" y="495.2" width="30.5" height="30.5" fill="rgb(26,26,26)"/>
<rect x="1805.3" y="495.2" width="30.5" height="30.5" fill="rgb(27,27,27)"/>
<rect x="1835.3" y="495.2" width="30.5" height="30.5" fill="rgb(27,27,27)"/>
<rect x="1865.3" y="495.2" width="30.5" height="30.5" fill="rgb(27,27,27)"/>
<rect x="1055.3" y="525.2" width="30.5" height="30.5" fill="rgb(20,20,20)"/>
<rect x="1085.3" y="525.2" width="30.5" height="30.5" fill="rgb(20,20,20)"/>
<rect x="1115.3" y="525.2" width="30.5" height="30.5" fill="rgb(20,20,20)"/>
<rect x="1145.3" y="525.2" width="30.5" height="30.5" fill="rgb(20,20,20)"/>
<rect x="1175.3" y="525.2" width="30.5" height="30.5" fill="rgb(20,20,20)"/>
<rect x="1205.3" y="525.2" width="30.5" height="30.5" fill="rgb(20,20,20)"/>
<rect x="1235.3" y="525.2" width="30.5" height="30.5" fill="rgb(20,20,20)"/>
<rect x="1265.3" y="525.2" width="30.5" height="30.5" fill="rgb(20,20,20)"/>
<rect x="1295.3" y="525.2" width="30.5" height="30.5" fill="rgb(20,20,20)"/>
<rect x="1325.3" y="525.2" width="30.5" height="30.5" fill="rgb(20,20,20)"/>
<rect x="1355.3" y="525.2" width="30.5" height="30.5" fill="rgb(20,20,20)"/>
<rect x="1385.3" y="525.2" width="30.5" height="30.5" fill="rgb(20,20,20)"/>
<rect x="1415.3" y="525.2" width="30.5" height="30.5" fill="rgb(20,20,20)"/>
<rect x="1445.3" y="525.2" width="30.5" height="30.5" fill="rgb(20,20,20)"/>
<rect x="1475.3" y="525.2" width="30.5" height="30.5" fill="rgb(20,20,20)"/>
<rect x="1505.3" y="525.2" width="30.5" height="30.5" fill="rgb(21,21,21)"/>
<rect x="1535.3" y="525.2" width="30.5" height="30.5" fill="rgb(22,22,22)"/>
<rect x="1565.3" y="525.2" width="30.5" height="30.5" fill="rgb(22,22,22)"/>
<rect x="1595.3" y="525.2" width="30.5" height="30.5" fill="rgb(23,23,23)"/>
<rect x="1625.3" y="525.2" width="30.5" height="30.5" fill="rgb(24,24,24)"/>
<rect x="1655.3" y="525.2" width="30.5" height="30.5" fill="rgb(24,24,24)"/>
<rect x="1685.3" y="525.2" width="30.5" height="30.5" fill="rgb(25,25,25)"/>
<rect x="1715.3" y="525.2" width="30.5" height="30.5" fill="rgb(26,26,26)"/>
<rect x="1745.3" y="525.2" width="30.5" height="30.5" fill="rgb(26,26,26)"/>
<rect x="1775.3" y="525.2" width="30.5" height="30.5" fill="rgb(27,27,27)"/>
<rect x="1805.3" y="525.2" width="30.5" height="30.5" fill="rgb(27,27,27)"/>
<rect x="1835.3" y="525.2" width="30.5" height="30.5" fill="rgb(28,28,28)"/>
<rect x="1865.3" y="525.2" width="30.5" height="30.5" fill="rgb(28,28,28)"/>
<rect x="1055.3" y="555.2" width="30.5" height="30.5" fill="rgb(22,22,22)"/>
<rect x="1085.3" y="555.2" width="30.5" height="30.5" fill="rgb(22,22,22)"/>
<rect x="1115.3" y="555.2" width="30.5" height="30.5" fill="rgb(22,22,22)"/>
<rect x="1145.3" y="555.2" width="30.5" height="30.5" fill="rgb(22,22,22)"/>
<rect x="1175.3" y="555.2" width="30.5" height="30.5" fill="rgb(21,21,21)"/>
<rect x="1205.3" y="555.2" width="30.5" height="30.5" fill="rgb(21,21,21)"/>
<rect x="1235.3" y="555.2" width="30.5" height="30.5" fill="rgb(21,21,21)"/>
<rect x="1265.3" y="555.2" width="30.5" height="30.5" fill="rgb(21,21,21)"/>
<rect x="1295.3" y="555.2" width="30.5" height="30.5" fill="rgb(21,21,21)"/>
<rect x="1325.3" y="555.2" width="30.5" height="30.5" fill="rgb(21,21,21)"/>
<rect x="1355.3" y="555.2" width="30.5" height="30.5" fill="rgb(21,21,21)"/>
<rect x="1385.3" y="555.2" width="30.5" height="30.5" fill="rgb(21,21,21)"/>
<rect x="1415.3" y="555.2" width="30.5" height="30.5" fill="rgb(21,21,21)"/>
<rect x="1445.3" y="555.2" width="30.5" height="30.5" fill="rgb(21,21,21)"/>
<rect x="1475.3" y="555.2" width="30.5" height="30.5" fill="rgb(22,22,22)"/>
<rect x="1505.3" y="555.2" width="30.5" height="30.5" fill="rgb(22,22,22)"/>
<rect x="1535.3" y="555.2" width="30.5" height="30.5" fill="rgb(23,23,23)"/>
<rect x="1565.3" y="555.2" width="30.5" height="30.5" fill="rgb(24,24,24)"/>
<rect x="1595.3" y="555.2" width="30.5" height="30.5" fill="rgb(24,24,24)"/>
<rect x="1625.3" y="555.2" width="30.5" height="30.5" fill="rgb(25,25,25)"/>
<rect x="1655.3" y="555.2" width="30.5" height="30.5" fill="rgb(26,26,26)"/>
<rect x="1685.3" y="555.2" width="30.5" height="30.5" fill="rgb(26,26,26)"/>
<rect x="1715.3" y="555.2" width="30.5" height="30.5" fill="rgb(27,27,27)"/>
<rect x="1745.3" y="555.2" width="30.5" height="30.5" fill="rgb(28,28,28)"/>
<rect x="1775.3" y="555.2" width="30.5" height="30.5" fill="rgb(28,28,28)"/>
<rect x="1805.3" y="555.2" width="30.5" height="30.5" fill="rgb(29,29,29)"/>
<rect x="1835.3" y="555.2" width="30.5" height="30.5" fill="rgb(29,29,29)"/>
<rect x="1865.3" y="555.2" width="30.5" height="30.5" fill="rgb(29,29,29)"/>
<rect x="1055.3" y="585.2" width="30.5" height="30.5" fill="rgb(24,24,24)"/>
<rect x="1085.3" y="585.2" width="30.5" height="30.5" fill="rgb(24,24,24)"/>
<rect x="1115.3" y="585.2" width="30.5" height="30.5" fill="rgb(24,24,24)"/>
<rect x="1145.3" y="585.2" width="30.5" height="30.5" fill="rgb(24,24,24)"/>
<rect x="1175.3" y="585.2" width="30.5" height="30.5" fill="rgb(24,24,24)"/>
<rect x="1205.3" y="585.2" width="30.5" height="30.5" fill="rgb(23,23,23)"/>
<rect x="1235.3" y="585.2" width="30.5" height="30.5" fill="rgb(23,23,23)"/>
<rect x="1265.3" y="585.2" width="30.5" height="30.5" fill="rgb(23,23,23)"/>
<rect x="1295.3" y="585.2" width="30.5" height="30.5" fill="rgb(23,23,23)"/>
<rect x="1325.3" y="585.2" width="30.5" height="30.5" fill="rgb(23,23,23)"/>
<rect x="1355.3" y="585.2" width="30.5" height="30.5" fill="rgb(23,23,23)"/>
<rect x="1385.3" y="585.2" width="30.5" height="30.5" fill="rgb(23,23,23)"/>
<rect x="1415.3" y="585.2" width="30.5" height="30.5" fill="rgb(23,23,23)"/>
<rect x="1445.3" y="585.2" width="30.5" height="30.5" fill="rgb(23,23,23)"/>
<rect x="1475.3" y="585.2" width="30.5" height="30.5" fill="rgb(23,23,23)"/>
<rect x="1505.3" y="585.2" width="30.5" height="30.5" fill="rgb(24,24,24)"/>
<rect x="1535.3" y="585.2" width="30.5" height="30.5" fill="rgb(25,25,25)"/>
<rect x="1565.3" y="585.2" width="30.5" height="30.5" fill="rgb(25,25,25)"/>
<rect x="1595.3" y="585.2" width="30.5" height="30.5" fill="rgb(26,26,26)"/>
<rect x="1625.3" y="585.2" width="30.5" height="30.5" fill="rgb(27,27,27)"/>
<rect x="1655.3" y="585.2" width="30.5" height="30.5" fill="rgb(27,27,27)"/>
<rect x="1685.3" y="585.2" width="30.5" height="30.5" fill="rgb(28,28,28)"/>
<rect x="1715.3" y="585.2" width="30.5" height="30.5" fill="rgb(29,29,29)"/>
<rect x="1745.3" y="585.2" width="30.5" height="30.5" fill="rgb(29,29,29)"/>
<rect x="1775.3" y="585.2" width="30.5" height="30.5" fill="rgb(30,30,30)"/>
<rect x="1805.3" y="585.2" width="30.5" height="30.5" fill="rgb(31,31,31)"/>
<rect x="1835.3" y="585.2" width="30.5" height="30.5" fill="rgb(31,31,31)"/>
<rect x="1865.3" y="585.2" width="30.5" height="30.5" fill="rgb(31,31,31)"/>
<rect x="1055.3" y="615.2" width="30.5" height="30.5" fill="rgb(26,26,26)"/>
<rect x="1085.3" y="615.2" width="30.5" height="30.5" fill="rgb(26,26,26)"/>
<rect x="1115.3" y="615.2" width="30.5" height="30.5" fill="rgb(26,26,26)"/>
<rect x="1145.3" y="615.2" width="30.5" height="30.5" fill="rgb(26,26,26)"/>
<rect x="1175.3" y="615.2" width="30.5" height="30.5" fill="rgb(26,26,26)"/>
<rect x="1205.3" y="615.2" width="30.5" height="30.5" fill="rgb(25,25,25)"/>
<rect x="1235.3" y="615.2" width="30.5" height="30.5" fill="rgb(25,25,25)"/>
<rect x="1265.3" y="615.2" width="30.5" height="30.5" fill="rgb(25,25,25)"/>
<rect x="1295.3" y="615.2" width="30.5" height="30.5" fill="rgb(25,25,25)"/>
<rect x="1325.3" y="615.2" width="30.5" height="30.5" fill="rgb(25,25,25)"/>
<rect x="1355.3" y="615.2" width="30.5" height="30.5" fill="rgb(25,25,25)"/>
<rect x="1385.3" y="615.2" width="30.5" height="30.5" fill="rgb(25,25,25)"/>
<rect x="1415.3" y="615.2" width="30.5" height="30.5" fill="rgb(25,25,25)"/>
<rect x="1445.3" y="615.2" width="30.5" height="30.5" fill="rgb(25,25,25)"/>
<rect x="1475.3" y="615.2" width="30.5" height="30.5" fill="rgb(25,25,25)"/>
<rect x="1505.3" y="615.2" width="30.5" height="30.5" fill="rgb(26,26,26)"/>
<rect x="1535.3" y="615.2" width="30.5" height="30.5" fill="rgb(26,26,26)"/>
<rect x="1565.3" y="615.2" width="30.5" height="30.5" fill="rgb(27,27,27)"/>
<rect x="1595.3" y="615.2" width="30.5" height="30.5" fill="rgb(28,28,28)"/>
<rect x="1625.3" y="615.2" width="30.5" height="30.5" fill="rgb(28,28,28)"/>
<rect x="1655.3" y="615.2" width="30.5" height="30.5" fill="rgb(29,29,29)"/>
<rect x="1685.3" y="615.2" width="30.5" height="30.5" fill="rgb(30,30,30)"/>
<rect x="1715.3" y="615.2" width="30.5" height="30.5" fill="rgb(30,30,30)"/>
<rect x="1745.3" y="615.2" width="30.5" height="30.5" fill="rgb(31,31,31)"/>
<rect x="1775.3" y="615.2" width="30.5" height="30.5" fill="rgb(32,32,32)"/>
<rect x="1805.3" y="615.2" width="30.5" height="30.5" fill="rgb(32,32,32)"/>
<rect x="1835.3" y="615.2" width="30.5" height="30.5" fill="rgb(33,33,33)"/>
<rect x="1865.3" y="615.2" width="30.5" height="30.5" fill="rgb(33,33,33)"/>
<rect x="1055.3" y="645.2" width="30.5" height="30.5" fill="rgb(31,31,31)"/>
<rect x="1085.3" y="645.2" width="30.5" height="30.5" fill="rgb(31,31,31)"/>
<rect x="1115.3" y="645.2" width="30.5" height="30.5" fill="rgb(31,31,31)"/>
<rect x="1145.3" y="645.2" width="30.5" height="30.5" fill="rgb(31,31,31)"/>
<rect x="1175.3" y="645.2" width="30.5" height="30.5" fill="rgb(31,31,31)"/>
<rect x="1205.3" y="645.2" width="30.5" height="30.5" fill="rgb(30,30,30)"/>
<rect x="1235.3" y="645.2" width="30.5" height="30.5" fill="rgb(30,30,30)"/>
<rect x="1265.3" y="645.2" width="30.5" height="30.5" fill="rgb(29,29,29)"/>
<rect x="1295.3" y="645.2" width="30.5" height="30.5" fill="rgb(29,29,29)"/>
<rect x="1325.3" y="645.2" width="30.5" height="30.5" fill="rgb(29,29,29)"/>
<rect x="1355.3" y="645.2" width="30.5" height="30.5" fill="rgb(29,29,29)"/>
<rect x="1385.3" y="645.2" width="30.5" height="30.5" fill="rgb(29,29,29)"/>
<rect x="1415.3" y="645.2" width="30.5" height="30.5" fill="rgb(29,29,29)"/>
<rect x="1445.3" y="645.2" width="30.5" height="30.5" fill="rgb(29,29,29)"/>
<rect x="1475.3" y="645.2" width="30.5" height="30.5" fill="rgb(30,30,30)"/>
<rect x="1505.3" y="645.2" width="30.5" height="30.5" fill="rgb(30,30,30)"/>
<rect x="1535.3" y="645.2" width="30.5" height="30.5" fill="rgb(31,31,31)"/>
<rect x="1565.3" y="645.2" width="30.5" height="30.5" fill="rgb(32,32,32)"/>
<rect x="1595.3" y="645.2" width="30.5" height="30.5" fill="rgb(33,33,33)"/>
<rect x="1625.3" y="645.2" width="30.5" height="30.5" fill="rgb(33,33,33)"/>
<rect x="1655.3" y="645.2" width="30.5" height="30.5" fill="rgb(34,34,34)"/>
<rect x="1685.3" y="645.2" width="30.5" height="30.5" fill="rgb(35,35,35)"/>
<rect x="1715.3" y="645.2" width="30.5" height="30.5" fill="rgb(36,36,36)"/>
<rect x="1745.3" y="645.2" width="30.5" height="30.5" fill="rgb(36,36,36)"/>
<rect x="1775.3" y="645.2" width="30.5" height="30.5" fill="rgb(37,37,37)"/>
<rect x="1805.3" y="645.2" width="30.5" height="30.5" fill="rgb(38,38,38)"/>
<rect x="1835.3" y="645.2" width="30.5" height="30.5" fill="rgb(38,38,38)"/>
<rect x="1865.3" y="645.2" width="30.5" height="30.5" fill="rgb(38,38,38)"/>
<rect x="1055.3" y="675.2" width="30.5" height="30.5" fill="rgb(42,42,42)"/>
<rect x="1085.3" y="675.2" width="30.5" height="30.5" fill="rgb(42,42,42)"/>
<rect x="1115.3" y="675.2" width="30.5" height="30.5" fill="rgb(41,41,41)"/>
<rect x="1145.3" y="675.2" width="30.5" height="30.5" fill="rgb(41,41,41)"/>
<rect x="1175.3" y="675.2" width="30.5" height="30.5" fill="rgb(40,40,40)"/>
<rect x="1205.3" y="675.2" width="30.5" height="30.5" fill="rgb(40,40,40)"/>
<rect x="1235.3" y="675.2" width="30.5" height="30.5" fill="rgb(40,40,40)"/>
<rect x="1265.3" y="675.2" width="30.5" height="30.5" fill="rgb(39,39,39)"/>
<rect x="1295.3" y="675.2" width="30.5" height="30.5" fill="rgb(39,39,39)"/>
<rect x="1325.3" y="675.2" width="30.5" height="30.5" fill="rgb(39,39,39)"/>
<rect x="1355.3" y="675.2" width="30.5" height="30.5" fill="rgb(39,39,39)"/>
<rect x="1385.3" y="675.2" width="30.5" height="30.5" fill="rgb(39,39,39)"/>
<rect x="1415.3" y="675.2" width="30.5" height="30.5" fill="rgb(39,39,39)"/>
<rect x="1445.3" y="675.2" width="30.5" height="30.5" fill="rgb(39,39,39)"/>
<rect x="1475.3" y="675.2" width="30.5" height="30.5" fill="rgb(39,39,39)"/>
<rect x="1505.3" y="675.2" width="30.5" height="30.5" fill="rgb(40,40,40)"/>
<rect x="1535.3" y="675.2" width="30.5" height="30.5" fill="rgb(41,41,41)"/>
<rect x="1565.3" y="675.2" width="30.5" height="30.5" fill="rgb(42,42,42)"/>
<rect x="1595.3" y="675.2" width="30.5" height="30.5" fill="rgb(43,43,43)"/>
<rect x="1625.3" y="675.2" width="30.5" height="30.5" fill="rgb(44,44,44)"/>
<rect x="1655.3" y="675.2" width="30.5" height="30.5" fill="rgb(45,45,45)"/>
<rect x="1685.3" y="675.2" width="30.5" height="30.5" fill="rgb(46,46,46)"/>
<rect x="1715.3" y="675.2" width="30.5" height="30.5" fill="rgb(47,47,47)"/>
<rect x="1745.3" y="675.2" width="30.5" height="30.5" fill="rgb(48,48,48)"/>
<rect x="1775.3" y="675.2" width="30.5" height="30.5" fill="rgb(49,49,49)"/>
<rect x="1805.3" y="675.2" width="30.5" height="30.5" fill="rgb(50,50,50)"/>
<rect x="1835.3" y="675.2" width="30.5" height="30.5" fill="rgb(51,51,51)"/>
<rect x="1865.3" y="675.2" width="30.5" height="30.5" fill="rgb(51,51,51)"/>
<rect x="1055.3" y="705.2" width="30.5" height="30.5" fill="rgb(69,69,69)"/>
<rect x="1085.3" y="705.2" width="30.5" height="30.5" fill="rgb(69,69,69)"/>
<rect x="1115.3" y="705.2" width="30.5" height="30.5" fill="rgb(68,68,68)"/>
<rect x="1145.3" y="705.2" width="30.5" height="30.5" fill="rgb(68,68,68)"/>
<rect x="1175.3" y="705.2" width="30.5" height="30.5" fill="rgb(67,67,67)"/>
<rect x="1205.3" y="705.2" width="30.5" height="30.5" fill="rgb(66,66,66)"/>
<rect x="1235.3" y="705.2" width="30.5" height="30.5" fill="rgb(66,66,66)"/>
<rect x="1265.3" y="705.2" width="30.5" height="30.5" fill="rgb(65,65,65)"/>
<rect x="1295.3" y="705.2" width="30.5" height="30.5" fill="rgb(65,65,65)"/>
<rect x="1325.3" y="705.2" width="30.5" height="30.5" fill="rgb(65,65,65)"/>
<rect x="1355.3" y="705.2" width="30.5" height="30.5" fill="rgb(66,66,66)"/>
<rect x="1385.3" y="705.2" width="30.5" height="30.5" fill="rgb(66,66,66)"/>
<rect x="1415.3" y="705.2" width="30.5" height="30.5" fill="rgb(67,67,67)"/>
<rect x="1445.3" y="705.2" width="30.5" height="30.5" fill="rgb(67,67,67)"/>
<rect x="1475.3" y="705.2" width="30.5" height="30.5" fill="rgb(68,68,68)"/>
<rect x="1505.3" y="705.2" width="30.5" height="30.5" fill="rgb(69,69,69)"/>
<rect x="1535.3" y="705.2" width="30.5" height="30.5" fill="rgb(70,70,70)"/>
<rect x="1565.3" y="705.2" width="30.5" height="30.5" fill="rgb(71,71,71)"/>
<rect x="1595.3" y="705.2" width="30.5" height="30.5" fill="rgb(72,72,72)"/>
<rect x="1625.3" y="705.2" width="30.5" height="30.5" fill="rgb(73,73,73)"/>
<rect x="1655.3" y="705.2" width="30.5" height="30.5" fill="rgb(73,73,73)"/>
<rect x="1685.3" y="705.2" width="30.5" height="30.5" fill="rgb(74,74,74)"/>
<rect x="1715.3" y="705.2" width="30.5" height="30.5" fill="rgb(75,75,75)"/>
<rect x="1745.3" y="705.2" width="30.5" height="30.5" fill="rgb(76,76,76)"/>
<rect x="1775.3" y="705.2" width="30.5" height="30.5" fill="rgb(77,77,77)"/>
<rect x="1805.3" y="705.2" width="30.5" height="30.5" fill="rgb(78,78,78)"/>
<rect x="1835.3" y="705.2" width="30.5" height="30.5" fill="rgb(79,79,79)"/>
<rect x="1865.3" y="705.2" width="30.5" height="30.5" fill="rgb(79,79,79)"/>
<rect x="1055.3" y="735.2" width="30.5" height="30.5" fill="rgb(85,85,85)"/>
<rect x="1085.3" y="735.2" width="30.5" height="30.5" fill="rgb(85,85,85)"/>
<rect x="1115.3" y="735.2" width="30.5" height="30.5" fill="rgb(85,85,85)"/>
<rect x="1145.3" y="735.2" width="30.5" height="30.5" fill="rgb(84,84,84)"/>
<rect x="1175.3" y="735.2" width="30.5" height="30.5" fill="rgb(83,83,83)"/>
<rect x="1205.3" y="735.2" width="30.5" height="30.5" fill="rgb(82,82,82)"/>
<rect x="1235.3" y="735.2" width="30.5" height="30.5" fill="rgb(81,81,81)"/>
<rect x="1265.3" y="735.2" width="30.5" height="30.5" fill="rgb(80,80,80)"/>
<rect x="1295.3" y="735.2" width="30.5" height="30.5" fill="rgb(80,80,80)"/>
<rect x="1325.3" y="735.2" width="30.5" height="30.5" fill="rgb(81,81,81)"/>
<rect x="1355.3" y="735.2" width="30.5" height="30.5" fill="rgb(82,82,82)"/>
<rect x="1385.3" y="735.2" width="30.5" height="30.5" fill="rgb(83,83,83)"/>
<rect x="1415.3" y="735.2" width="30.5" height="30.5" fill="rgb(84,84,84)"/>
<rect x="1445.3" y="735.2" width="30.5" height="30.5" fill="rgb(85,85,85)"/>
<rect x="1475.3" y="735.2" width="30.5" height="30.5" fill="rgb(85,85,85)"/>
<rect x="1505.3" y="735.2" width="30.5" height="30.5" fill="rgb(86,86,86)"/>
<rect x="1535.3" y="735.2" width="30.5" height="30.5" fill="rgb(87,87,87)"/>
<rect x="1565.3" y="735.2" width="30.5" height="30.5" fill="rgb(88,88,88)"/>
<rect x="1595.3" y="735.2" width="30.5" height="30.5" fill="rgb(89,89,89)"/>
<rect x="1625.3" y="735.2" width="30.5" height="30.5" fill="rgb(90,90,90)"/>
<rect x="1655.3" y="735.2" width="30.5" height="30.5" fill="rgb(90,90,90)"/>
<rect x="1685.3" y="735.2" width="30.5" height="30.5" fill="rgb(91,91,91)"/>
<rect x="1715.3" y="735.2" width="30.5" height="30.5" fill="rgb(92,92,92)"/>
<rect x="1745.3" y="735.2" width="30.5" height="30.5" fill="rgb(93,93,93)"/>
<rect x="1775.3" y="735.2" width="30.5" height="30.5" fill="rgb(94,94,94)"/>
<rect x="1805.3" y="735.2" width="30.5" height="30.5" fill="rgb(95,95,95)"/>
<rect x="1835.3" y="735.2" width="30.5" height="30.5" fill="rgb(95,95,95)"/>
<rect x="1865.3" y="735.2" width="30.5" height="30.5" fill="rgb(95,95,95)"/>
<rect x="1055.3" y="765.2" width="30.5" height="30.5" fill="rgb(85,85,85)"/>
<rect x="1085.3" y="765.2" width="30.5" height="30.5" fill="rgb(85,85,85)"/>
<rect x="1115.3" y="765.2" width="30.5" height="30.5" fill="rgb(85,85,85)"/>
<rect x="1145.3" y="765.2" width="30.5" height="30.5" fill="rgb(84,84,84)"/>
<rect x="1175.3" y="765.2" width="30.5" height="30.5" fill="rgb(83,83,83)"/>
<rect x="1205.3" y="765.2" width="30.5" height="30.5" fill="rgb(82,82,82)"/>
<rect x="1235.3" y="765.2" width="30.5" height="30.5" fill="rgb(81,81,81)"/>
<rect x="1265.3" y="765.2" width="30.5" height="30.5" fill="rgb(80,80,80)"/>
<rect x="1295.3" y="765.2" width="30.5" height="30.5" fill="rgb(80,80,80)"/>
<rect x="1325.3" y="765.2" width="30.5" height="30.5" fill="rgb(81,81,81)"/>
<rect x="1355.3" y="765.2" width="30.5" height="30.5" fill="rgb(82,82,82)"/>
<rect x="1385.3" y="765.2" width="30.5" height="30.5" fill="rgb(83,83,83)"/>
<rect x="1415.3" y="765.2" width="30.5" height="30.5" fill="rgb(84,84,84)"/>
<rect x="1445.3" y="765.2" width="30.5" height="30.5" fill="rgb(85,85,85)"/>
<rect x="1475.3" y="765.2" width="30.5" height="30.5" fill="rgb(85,85,85)"/>
<rect x="1505.3" y="765.2" width="30.5" height="30.5" fill="rgb(86,86,86)"/>
<rect x="1535.3" y="765.2" width="30.5" height="30.5" fill="rgb(87,87,87)"/>
<rect x="1565.3" y="765.2" width="30.5" height="30.5" fill="rgb(88,88,88)"/>
<rect x="1595.3" y="765.2" width="30.5" height="30.5" fill="rgb(89,89,89)"/>
<rect x="1625.3" y="765.2" width="30.5" height="30.5" fill="rgb(90,90,90)"/>
<rect x="1655.3" y="765.2" width="30.5" height="30.5" fill="rgb(90,90,90)"/>
<rect x="1685.3" y="765.2" width="30.5" height="30.5" fill="rgb(91,91,91)"/>
<rect x="1715.3" y="765.2" width="30.5" height="30.5" fill="rgb(92,92,92)"/>
<rect x="1745.3" y="765.2" width="30.5" height="30.5" fill="rgb(93,93,93)"/>
<rect x="1775.3" y="765.2" width="30.5" height="30.5" fill="rgb(94,94,94)"/>
<rect x="1805.3" y="765.2" width="30.5" height="30.5" fill="rgb(95,95,95)"/>
<rect x="1835.3" y="765.2" width="30.5" height="30.5" fill="rgb(95,95,95)"/>
<rect x="1865.3" y="765.2" width="30.5" height="30.5" fill="rgb(95,95,95)"/>
</g>
</g>
<linearGradient id="vl" x1="0" y1="0" x2="1" y2="0"><stop offset="0" stop-color="#000" stop-opacity="0.55"/><stop offset="1" stop-color="#000" stop-opacity="0"/></linearGradient>
<linearGradient id="vr" x1="0" y1="0" x2="1" y2="0"><stop offset="0" stop-color="#000" stop-opacity="0"/><stop offset="1" stop-color="#000" stop-opacity="0.5"/></linearGradient>
<rect x="1115.3" y="15.2" width="12" height="718.7" fill="url(#vl)"/>
<rect x="1825.7" y="15.2" width="9" height="718.7" fill="url(#vr)"/>
</g>
<g stroke="#ffff00" stroke-width="5.2" stroke-linecap="round">
<line x1="1284.9" y1="195.2" x2="1415.8" y2="310.5"/><line x1="1258.5" y1="224.5" x2="1388.4" y2="339.8"/>
<line x1="1416.8" y1="176.6" x2="1370" y2="229"/><line x1="1255.5" y1="359.3" x2="1300" y2="308"/>
</g>
<polygon points="1354.2,247 1365,212.8 1388.4,233.3" fill="#ffff00"/>
<polygon points="1318.1,289 1284.9,303.6 1308.3,323.2" fill="#ffff00"/>
<text x="1162" y="419.9" font-family="'Liberation Serif', 'Times New Roman', serif" font-weight="bold" font-size="53" fill="#ffff00" stroke="#ffff00" stroke-width="1"><tspan font-style="italic">d</tspan><tspan font-size="38" dy="12">111</tspan><tspan dy="-12" letter-spacing="0.6"> = 3.33Å</tspan></text>
<rect x="1136.9" y="704" width="124.5" height="8.3" fill="#f4f4f4"/>
<text x="1137.5" y="692.3" font-family="'Liberation Serif', 'Times New Roman', serif" font-weight="bold" font-size="34" fill="#ececec" transform="translate(0 -55.4) scale(1 1.08)">1 nm</text>
<defs><clipPath id="cc"><rect x="211" y="776" width="614" height="611.8"/></clipPath>
<radialGradient id="halo"><stop offset="0" stop-color="#fff" stop-opacity="1"/><stop offset="0.3" stop-color="#fff" stop-opacity="0.45"/><stop offset="0.6" stop-color="#fff" stop-opacity="0.15"/><stop offset="1" stop-color="#fff" stop-opacity="0"/></radialGradient>
<radialGradient id="core"><stop offset="0" stop-color="#fff" stop-opacity="1"/><stop offset="0.6" stop-color="#fff" stop-opacity="1"/><stop offset="1" stop-color="#fff" stop-opacity="0"/></radialGradient>
<radialGradient id="glow"><stop offset="0" stop-color="#fff" stop-opacity="0.26"/><stop offset="0.25" stop-color="#fff" stop-opacity="0.1"/><stop offset="0.55" stop-color="#fff" stop-opacity="0.03"/><stop offset="1" stop-color="#fff" stop-opacity="0"/></radialGradient>
</defs>
<g clip-path="url(#cc)">
<radialGradient id="cbg" cx="548" cy="1042" r="520" gradientUnits="userSpaceOnUse"><stop offset="0" stop-color="#0f0f0f"/><stop offset="0.45" stop-color="#0b0b0b"/><stop offset="1" stop-color="#060606"/></radialGradient>
<rect x="211" y="776" width="614" height="611.8" fill="url(#cbg)"/>
<circle cx="548" cy="1042" r="120" fill="url(#glow)"/>
<circle cx="346.3" cy="796" r="8" fill="url(#halo)" opacity="0.06"/>
<circle cx="346.3" cy="796" r="1.8" fill="url(#core)" opacity="0.25"/>
<circle cx="474.8" cy="796" r="12" fill="url(#halo)" opacity="0.15"/>
<circle cx="474.8" cy="796" r="4.2" fill="url(#core)" opacity="1"/>
<circle cx="602.4" cy="793.8" r="12" fill="url(#halo)" opacity="0.15"/>
<circle cx="602.4" cy="793.8" r="4.56" fill="url(#core)" opacity="1"/>
<circle cx="731.9" cy="789.4" r="10" fill="url(#halo)" opacity="0.12"/>
<circle cx="731.9" cy="789.4" r="3.6" fill="url(#core)" opacity="0.6"/>
<circle cx="282" cy="885.6" r="8" fill="url(#halo)" opacity="0.05"/>
<circle cx="282" cy="885.6" r="1.8" fill="url(#core)" opacity="0.2"/>
<circle cx="411.9" cy="885.6" r="14" fill="url(#halo)" opacity="0.18"/>
<circle cx="411.9" cy="885.6" r="4.8" fill="url(#core)" opacity="1"/>
<circle cx="540.4" cy="882.5" r="16" fill="url(#halo)" opacity="0.21"/>
<circle cx="540.4" cy="882.5" r="6" fill="url(#core)" opacity="1"/>
<circle cx="667.6" cy="881.1" r="12" fill="url(#halo)" opacity="0.18"/>
<circle cx="667.6" cy="881.1" r="4.32" fill="url(#core)" opacity="1"/>
<circle cx="797.5" cy="878" r="8" fill="url(#halo)" opacity="0.09"/>
<circle cx="797.5" cy="878" r="2.64" fill="url(#core)" opacity="0.6"/>
<circle cx="348.5" cy="975.5" r="14" fill="url(#halo)" opacity="0.18"/>
<circle cx="348.5" cy="975.5" r="4.8" fill="url(#core)" opacity="1"/>
<circle cx="476.4" cy="972.5" r="22" fill="url(#halo)" opacity="0.27"/>
<circle cx="476.4" cy="972.5" r="7.44" fill="url(#core)" opacity="1"/>
<circle cx="604.9" cy="970.2" r="16" fill="url(#halo)" opacity="0.21"/>
<circle cx="604.9" cy="970.2" r="5.04" fill="url(#core)" opacity="1"/>
<circle cx="734.3" cy="967.7" r="22" fill="url(#halo)" opacity="0.27"/>
<circle cx="734.3" cy="967.7" r="7.8" fill="url(#core)" opacity="1"/>
<circle cx="284.2" cy="1064.2" r="10" fill="url(#halo)" opacity="0.06"/>
<circle cx="284.2" cy="1064.2" r="2.4" fill="url(#core)" opacity="0.2"/>
<circle cx="413.6" cy="1062.8" r="14" fill="url(#halo)" opacity="0.18"/>
<circle cx="413.6" cy="1062.8" r="4.8" fill="url(#core)" opacity="1"/>
<circle cx="670" cy="1057.2" r="22" fill="url(#halo)" opacity="0.27"/>
<circle cx="670" cy="1057.2" r="7.56" fill="url(#core)" opacity="1"/>
<circle cx="799.2" cy="1055.3" r="10" fill="url(#halo)" opacity="0.07"/>
<circle cx="799.2" cy="1055.3" r="2.4" fill="url(#core)" opacity="0.3"/>
<circle cx="317.5" cy="1139.5" r="6" fill="url(#halo)" opacity="0.04"/>
<circle cx="317.5" cy="1139.5" r="1.8" fill="url(#core)" opacity="0.12"/>
<circle cx="478.3" cy="1149.7" r="12" fill="url(#halo)" opacity="0.18"/>
<circle cx="478.3" cy="1149.7" r="4.2" fill="url(#core)" opacity="1"/>
<circle cx="606.9" cy="1147" r="12" fill="url(#halo)" opacity="0.18"/>
<circle cx="606.9" cy="1147" r="4.56" fill="url(#core)" opacity="1"/>
<circle cx="735.4" cy="1144.8" r="12" fill="url(#halo)" opacity="0.12"/>
<circle cx="735.4" cy="1144.8" r="3.84" fill="url(#core)" opacity="0.55"/>
<circle cx="417.2" cy="1239.2" r="10" fill="url(#halo)" opacity="0.05"/>
<circle cx="417.2" cy="1239.2" r="3.6" fill="url(#core)" opacity="0.12"/>
<circle cx="543.5" cy="1237" r="10" fill="url(#halo)" opacity="0.05"/>
<circle cx="543.5" cy="1237" r="3.6" fill="url(#core)" opacity="0.15"/>
<circle cx="673.3" cy="1234.8" r="10" fill="url(#halo)" opacity="0.05"/>
<circle cx="673.3" cy="1234.8" r="3.6" fill="url(#core)" opacity="0.12"/>
<circle cx="661" cy="1303.5" r="4" fill="url(#halo)" opacity="0.06"/>
<circle cx="661" cy="1303.5" r="1.56" fill="url(#core)" opacity="0.5"/>
<polygon points="553.5,1030.3 575.1,1072.4 200,1262.5 200,1196.8" fill="#030303"/>
</g>
<rect x="249.1" y="1345.8" width="113.9" height="4.1" fill="#eee"/>
<text x="250.5" y="1338.9" font-family="'DejaVu Sans Mono', 'Liberation Mono', monospace" font-size="28" fill="#eaeaea" xml:space="preserve">5 1/nm</text>
<path d="M158.4 235.61L159.02 235.33L159.64 235.09L160.27 235.41L160.89 235.73L161.51 235.66L162.13 235.21L162.75 235.15L163.38 235.72L164 236.38L164.62 236.74L165.24 236.45L165.86 236.34L166.49 236.29L167.11 236.42L167.73 235.82L168.35 235.3L168.97 234.97L169.6 235.27L170.22 235.49L170.84 235.6L171.46 235.74L172.08 236.07L172.71 236.37L173.33 236.18L173.95 235.78L174.57 235.17L175.19 235.12L175.82 234.82L176.44 234.95L177.06 234.77L177.68 235.12L178.3 235.73L178.93 236.52L179.55 237.17L180.17 236.72L180.79 236.15L181.41 235.46L182.04 235.58L182.66 235.82L183.28 236.01L183.9 235.91L184.52 235.74L185.15 235.52L185.77 235.82L186.39 235.95L187.01 236.42L187.63 236.22L188.26 236.38L188.88 236.15L189.5 236.32L190.12 236.14L190.74 236.39L191.37 236.46L191.99 236.7L192.61 236.41L193.23 236.19L193.85 235.97L194.48 236.37L195.1 236.58L195.72 236.76L196.34 236.45L196.96 236.38L197.59 236.25L198.21 236.22L198.83 235.97L199.45 235.6L200.07 235.19L200.7 235.05L201.32 235.43L201.94 236.07L202.56 236.61L203.18 236.69L203.81 236.56L204.43 236.24L205.05 236.02L205.67 236L206.29 236.04L206.92 235.9L207.54 235.64L208.16 235.54L208.78 235.89L209.4 236.07L210.03 236L210.65 235.92L211.27 236.11L211.89 236.69L212.51 236.83L213.14 236.63L213.76 236.1L214.38 235.69L215 235.52L215.62 235.77L216.25 236.22L216.87 236.56L217.49 236.6L218.11 236.25L218.73 235.96L219.36 235.54L219.98 235.34L220.6 234.71L221.22 233.93L221.84 233.3L222.47 233.51L223.09 234.48L223.71 235.3L224.33 235.75L224.95 235.71L225.58 235.88L226.2 235.73L226.82 235.65L227.44 235.75L228.06 236.6L228.69 237.17L229.31 237.02L229.93 236.29L230.55 236.26L231.17 236.75L231.8 237.32L232.42 237.29L233.04 237.02L233.66 236.99L234.28 236.78L234.91 236.6L235.53 236.01L236.15 236L236.77 236.18L237.39 236.41L238.02 235.82L238.64 234.69L239.26 233.07L239.88 231.22L240.5 228.19L241.13 222.86L241.75 214.26L242.37 201.9L242.99 186.94L243.61 171.57L244.24 159.82L244.86 155.47L245.48 160.08L246.1 171.78L246.72 186.52L247.35 201.49L247.97 214.22L248.59 223.91L249.21 229.75L249.83 232.53L250.46 233.65L251.08 234.29L251.7 235.35L252.32 236.18L252.94 236.69L253.57 236.05L254.19 235.54L254.81 235.28L255.43 235.76L256.05 235.9L256.68 235.65L257.3 235.99L257.92 236.61L258.54 237.78L259.16 237.74L259.79 237.12L260.41 236.1L261.03 235.39L261.65 235.51L262.27 235.44L262.9 235.65L263.52 235.57L264.14 236.28L264.76 236.87L265.38 236.99L266.01 236.49L266.63 236.3L267.25 236.57L267.87 236.73L268.49 236.39L269.12 235.94L269.74 235.72L270.36 235.98L270.98 236.52L271.6 237.44L272.23 237.91L272.85 238L273.47 237.3L274.09 236.77L274.71 236.2L275.34 235.94L275.96 235.8L276.58 236.19L277.2 237.06L277.82 237.9L278.45 238.2L279.07 237.92L279.69 237.39L280.31 236.93L280.93 236.63L281.56 236.26L282.18 235.82L282.8 235.59L283.42 235.86L284.04 236.42L284.67 237.02L285.29 237.38L285.91 237.74L286.53 237.87L287.15 237.87L287.78 237.36L288.4 236.82L289.02 236.44L289.64 236.86L290.26 237.29L290.89 237.93L291.51 238.05L292.13 237.88L292.75 237.44L293.37 236.86L294 236.75L294.62 236.42L295.24 236.28L295.86 235.9L296.48 235.6L297.11 234.65L297.73 233.47L298.35 232.15L298.97 232.04L299.59 232.83L300.22 234.5L300.84 235.88L301.46 236.77L302.08 237.4L302.7 237.64L303.33 237.68L303.95 237.18L304.57 237.17L305.19 237.56L305.81 238.28L306.44 238.44L307.06 238.2L307.68 237.91L308.3 237.78L308.92 237.72L309.55 237.41L310.17 237.1L310.79 237.13L311.41 237.6L312.03 238.23L312.66 238.34L313.28 238.13L313.9 237.86L314.52 237.79L315.14 237.8L315.77 237.76L316.39 237.76L317.01 237.61L317.63 237.3L318.25 236.97L318.88 237L319.5 237.01L320.12 237.18L320.74 236.91L321.36 237.07L321.99 237.16L322.61 237.71L323.23 238.11L323.85 238.42L324.47 238.26L325.1 237.97L325.72 237.86L326.34 238.02L326.96 238.07L327.58 237.67L328.21 237.15L328.83 236.73L329.45 236.94L330.07 237.44L330.69 238.14L331.32 238.56L331.94 238.64L332.56 238.7L333.18 238.62L333.8 238.55L334.43 238.03L335.05 237.37L335.67 237.16L336.29 237.66L336.91 238.36L337.54 238.75L338.16 238.5L338.78 238.42L339.4 238.09L340.02 238.01L340.65 237.61L341.27 237.37L341.89 236.99L342.51 237.13L343.13 237.76L343.76 239.06L344.38 239.93L345 239.85L345.62 238.78L346.24 237.75L346.87 237.76L347.49 238.33L348.11 239.01L348.73 239.04L349.35 238.93L349.98 238.66L350.6 238.34L351.22 237.92L351.84 237.84L352.46 238.06L353.09 238.37L353.71 238.48L354.33 238.4L354.95 238.25L355.57 238.27L356.2 238.51L356.82 239.01L357.44 238.91L358.06 238.59L358.68 238.15L359.31 238.18L359.93 238.45L360.55 238.51L361.17 238.75L361.79 238.66L362.42 238.81L363.04 238.84L363.66 239L364.28 239.27L364.9 239.15L365.53 238.99L366.15 238.53L366.77 238.31L367.39 238.24L368.01 238.31L368.64 238.74L369.26 238.89L369.88 238.96L370.5 238.81L371.12 239.27L371.75 239.67L372.37 239.64L372.99 239L373.61 238.34L374.23 238.06L374.86 238L375.48 238.21L376.1 238.57L376.72 238.91L377.34 238.93L377.97 238.74L378.59 238.43L379.21 238.45L379.83 238.32L380.45 238.4L381.08 238.27L381.7 238.29L382.32 238.55L382.94 238.95L383.56 239.38L384.19 239.31L384.81 239.38L385.43 239.55L386.05 239.84L386.67 239.56L387.3 238.94L387.92 238.25L388.54 238.27L389.16 238.82L389.78 239.52L390.41 239.77L391.03 239.55L391.65 239.2L392.27 239.01L392.89 239.08L393.52 239.23L394.14 239.16L394.76 238.8L395.38 238.65L396 238.94L396.63 239.69L397.25 240.21L397.87 240.38L398.49 240.16L399.11 239.95L399.74 239.54L400.36 239.24L400.98 238.77L401.6 238.8L402.22 238.82L402.85 239.11L403.47 239.11L404.09 239.43L404.71 239.57L405.33 239.57L405.96 239.23L406.58 238.94L407.2 239.02L407.82 238.99L408.44 239.14L409.07 238.79L409.69 238.8L410.31 238.63L410.93 238.89L411.55 239.16L412.18 239.65L412.8 240.63L413.42 241.18L414.04 241.42L414.66 240.59L415.29 240.16L415.91 239.91L416.53 240.18L417.15 240.13L417.77 239.92L418.4 239.61L419.02 239.32L419.64 239.1L420.26 239.03L420.88 239.25L421.51 239.71L422.13 239.82L422.75 239.4L423.37 238.85L423.99 238.66L424.62 238.89L425.24 238.98L425.86 238.76L426.48 238.73L427.1 238.8L427.73 239.32L428.35 239.65L428.97 239.96L429.59 239.8L430.21 239.52L430.84 239.15L431.46 239.11L432.08 239.23L432.7 239.61L433.32 240.12L433.95 240.15L434.57 240L435.19 239.33L435.81 239.72L436.43 240.22L437.06 240.76L437.68 240.38L438.3 239.73L438.92 239.64L439.54 239.61L440.17 239.83L440.79 239.54L441.41 239.57L442.03 239.49L442.65 239.32L443.28 239.09L443.9 239.15L444.52 239.68L445.14 239.94L445.76 239.86L446.39 239.63L447.01 239.72L447.63 239.88L448.25 240.07L448.87 240.01L449.5 239.91L450.12 239.22L450.74 238.73L451.36 238.27L451.98 238.4L452.61 238.47L453.23 238.91L453.85 239.31L454.47 239.78L455.09 239.94L455.72 240.01L456.34 239.75L456.96 239.16L457.58 238.39L458.2 238.23L458.83 237.95L459.45 237.56L460.07 235.75L460.69 233.49L461.31 229.77L461.94 224.8L462.56 217.21L463.18 207.26L463.8 195.23L464.42 182.69L465.05 171.41L465.67 163.45L466.29 160.91L466.91 164.81L467.53 174.54L468.16 187.34L468.78 200.32L469.4 211.08L470.02 219.4L470.64 225.38L471.27 229.68L471.89 232.76L472.51 234.9L473.13 236.26L473.75 236.51L474.38 236.48L475 236.49L475.62 236.94L476.24 237.17L476.86 237.33L477.49 237.73L478.11 238.53L478.73 239.34L479.35 239.65L479.97 239.65L480.6 239.56L481.22 239.98L481.84 240.21L482.46 240.41L483.08 240.12L483.71 240.13L484.33 240.43L484.95 240.66L485.57 240.82L486.19 240.48L486.82 240.13L487.44 239.57L488.06 239.61L488.68 240.11L489.3 240.98L489.93 241.31L490.55 241.36L491.17 241.25L491.79 241.14L492.41 240.94L493.04 240.67L493.66 240.55L494.28 240.4L494.9 240.08L495.52 239.74L496.15 239.83L496.77 240.01L497.39 240.15L498.01 239.89L498.63 240.01L499.26 240.35L499.88 240.88L500.5 240.88L501.12 240.79L501.74 240.74L502.37 241.1L502.99 241.14L503.61 241.13L504.23 240.74L504.85 240.8L505.48 240.94L506.1 241.25L506.72 241.69L507.34 241.79L507.96 241.79L508.59 241.29L509.21 240.95L509.83 240.85L510.45 240.56L511.07 240.16L511.7 239.62L512.32 239.64L512.94 240.1L513.56 240.57L514.18 240.97L514.81 240.78L515.43 240.52L516.05 240.11L516.67 240.04L517.29 240.2L517.92 240.45L518.54 240.62L519.16 240.41L519.78 240.3L520.4 240.12L521.03 240.4L521.65 240.35L522.27 240.41L522.89 240.25L523.51 240.25L524.14 240.63L524.76 240.97L525.38 241.51L526 241.2L526.62 241.15L527.25 241.14L527.87 241.72L528.49 241.66L529.11 241.15L529.73 240.53L530.36 240.44L530.98 240.51L531.6 240.3L532.22 239.93L532.84 239.82L533.47 240.03L534.09 240.38L534.71 240.96L535.33 241.79L535.95 242.37L536.58 242.23L537.2 241.52L537.82 241.08L538.44 241.08L539.06 241.25L539.69 241.27L540.31 241L540.93 240.82L541.55 240.88L542.17 241.3L542.8 241.52L543.42 241.27L544.04 240.66L544.66 240.51L545.28 240.68L545.91 241.31L546.53 241.52L547.15 241.35L547.77 240.88L548.39 240.57L549.02 240.89L549.64 241.03L550.26 241.1L550.88 240.68L551.5 240.59L552.13 240.55L552.75 240.82L553.37 240.98L553.99 240.81L554.61 240.11L555.24 239.48L555.86 239.53L556.48 240.3L557.1 240.79L557.72 240.62L558.35 240.18L558.97 240.5L559.59 241.38L560.21 242.17L560.83 242.21L561.46 241.62L562.08 240.86L562.7 240.1L563.32 239.47L563.94 238.69L564.57 237.54L565.19 236L565.81 234.1L566.43 232.07L567.05 229.94L567.68 227.86L568.3 226.25L568.92 225.77L569.54 226.8L570.16 229.06L570.79 231.98L571.41 234.62L572.03 237.03L572.65 238.55L573.27 239.57L573.9 240.2L574.52 240.64L575.14 241.31L575.76 241.26L576.38 241.47L577.01 241.12L577.63 241.13L578.25 241.02L578.87 241.52L579.49 241.94L580.12 242.15L580.74 241.84L581.36 241.62L581.98 241.62L582.6 241.52L583.23 241.56L583.85 241.46L584.47 241.87L585.09 242.08L585.71 242.11L586.34 241.78L586.96 241.29L587.58 241.29L588.2 241.47L588.82 242.1L589.45 242.27L590.07 242.29L590.69 242.01L591.31 241.82L591.93 241.46L592.56 241.33L593.18 241.42L593.8 241.79L594.42 241.75L595.04 241.39L595.67 240.87L596.29 240.69L596.91 240.97L597.53 241.38L598.15 241.34L598.78 241.19L599.4 241.11L600.02 241.81L600.64 242.38L601.26 242.67L601.89 242.3L602.51 241.78L603.13 241.71L603.75 241.72L604.37 241.79L605 241.24L605.62 241.15L606.24 241.36L606.86 241.96L607.48 242.01L608.11 241.63L608.73 241.19L609.35 240.95L609.97 241.03L610.59 241.07L611.22 241.46L611.84 241.44L612.46 241.66L613.08 241.29L613.7 241.55L614.33 241.19L614.95 241.5L615.57 241.3L616.19 241.52L616.81 241.14L617.44 241.06L618.06 241.01L618.68 241.15L619.3 241.19L619.92 241.26L620.55 241.01L621.17 240.67L621.79 240.31L622.41 240.76L623.03 241.5L623.66 242.01L624.28 242.37L624.9 242.5L625.52 242.92L626.14 242.83L626.77 242.79L627.39 242.58L628.01 242.34L628.63 242.09L629.25 241.91L629.88 241.79L630.5 241.37L631.12 240.91L631.74 240.9L632.36 241.38L632.99 241.87L633.61 242.09L634.23 242.3L634.85 242.32L635.47 242.26L636.1 241.84L636.72 241.78L637.34 241.96L637.96 242.47L638.58 242.62L639.21 242.67L639.83 242.42L640.45 242.25L641.07 241.86L641.69 241.83L642.32 242.12L642.94 242.55L643.56 242.15L644.18 241.28L644.8 240.42L645.43 240.52L646.05 241.25L646.67 242.21L647.29 242.87L647.91 242.66L648.54 241.98L649.16 241.2L649.78 240.93L650.4 241.5L651.02 242.12L651.65 242.65L652.27 242.34L652.89 242.13L653.51 241.86L654.13 241.87L654.76 241.75L655.38 241.71L656 241.51L656.62 241.48L657.24 241.6L657.87 241.9L658.49 242.13L659.11 242.16L659.73 241.75L660.35 240.86L660.98 240.14L661.6 240.26L662.22 241.29L662.84 242.42L663.46 243.18L664.09 243.35L664.71 243.25L665.33 242.61L665.95 242.19L666.57 241.73L667.2 241.93L667.82 241.88L668.44 241.72L669.06 241.39L669.68 241.46L670.31 241.83L670.93 242.23L671.55 242.12L672.17 241.99L672.79 241.6L673.42 241.62L674.04 241.49L674.66 241.76L675.28 241.74L675.9 241.66L676.53 241.3L677.15 241.31L677.77 241.83L678.39 242.44L679.01 242.79L679.64 242.65L680.26 242.6L680.88 242.27L681.5 241.98L682.12 241.42L682.75 241.55L683.37 241.8L683.99 242.46L684.61 242.23L685.23 241.92L685.86 241.4L686.48 241.56L687.1 241.8L687.72 241.94L688.34 242.05L688.97 241.89L689.59 241.66L690.21 241.24L690.83 241.58L691.45 242.24L692.08 243.02L692.7 242.77L693.32 242.23L693.94 241.5L694.56 241.25L695.19 241.32L695.81 241.54L696.43 242.03L697.05 242.03L697.67 242.16L698.3 241.92L698.92 242.22L699.54 242.2L700.16 242.2L700.78 242.01L701.41 241.92L702.03 242.06L702.65 241.83L703.27 241.73L703.89 241.5L704.52 241.72L705.14 241.86L705.76 242L706.38 241.75L707 241.49L707.63 241.49L708.25 242.02L708.87 242.31L709.49 242.34L710.11 242.03L710.74 242.13L711.36 242.23L711.98 242.25L712.6 242.02L713.22 241.83L713.85 241.64L714.47 241.13L715.09 240.3L715.71 239.51L716.33 238.83L716.96 238.2L717.58 237.59L718.2 237.4L718.82 237.59L719.44 237.7L720.07 237.94L720.69 238.49L721.31 239.56L721.93 240.31L722.55 240.41L723.18 240.44L723.8 240.71L724.42 241.34L725.04 241.76L725.66 242.09L726.29 242.51L726.91 242.43L727.53 242.12L728.15 241.61L728.77 241.58L729.4 241.8L730.02 242.13L730.64 242.7L731.26 242.9L731.88 242.69L732.51 242.16L733.13 242.09L733.75 242.58L734.37 243.12L734.99 243.27L735.62 242.94L736.24 242.14L736.86 241.62L737.48 241.69L738.1 242.38L738.73 242.77L739.35 242.56L739.97 242.29L740.59 242.06L741.21 241.86L741.84 241.35L742.46 241.43L743.08 241.7L743.7 242.44L744.32 242.69L744.95 243.31L745.57 243.74L746.19 244.14L746.81 243.75L747.43 243.04L748.06 242.04L748.68 241.61L749.3 241.82L749.92 242.23L750.54 242.63L751.17 242.09L751.79 242.09L752.41 242.08L753.03 242.7L753.65 243.01L754.28 243.04L754.9 243.23L755.52 243.07L756.14 242.99L756.76 242.43L757.39 242.06L758.01 241.93L758.63 242.11L759.25 242.69L759.87 242.99L760.5 243.14L761.12 242.53L761.74 241.94L762.36 241.31L762.98 241.06L763.61 241.13L764.23 241.53L764.85 242.09L765.47 242.33L766.09 242.51L766.72 242.68L767.34 242.99L767.96 242.94L768.58 242.65L769.2 242.1L769.83 241.83L770.45 241.61L771.07 241.66L771.69 241.63L772.31 241.76L772.94 241.85L773.56 241.91L774.18 242.09L774.8 242.25L775.42 242.38L776.05 242.15L776.67 241.83L777.29 241.57L777.91 241.44L778.53 241.35L779.16 240.96L779.78 240.62L780.4 240.72L781.02 241.34L781.64 241.77L782.27 241.76L782.89 241.49L783.51 241.39L784.13 241.11L784.75 241.12L785.38 240.97L786 241.36L786.62 241.51L787.24 242.13L787.86 242.28L788.49 242.16L789.11 241.66L789.73 241.19L790.35 241.28L790.97 241.35L791.6 241.69L792.22 241.7L792.84 242.04L793.46 242.38L794.08 242.64L794.71 242.55L795.33 242.39L795.95 242.51L796.57 242.61L797.19 242.34L797.82 241.68L798.44 241.29L799.06 241.09L799.68 241.08L800.3 241.02L800.93 240.8L801.55 240.39L802.17 239.4L802.79 238.71L803.41 238.6L804.04 239.41L804.66 240.75L805.28 241.46L805.9 241.7L806.52 241.42L807.15 241.87L807.77 242.67L808.39 243.37L809.01 243.47L809.63 243.18L810.26 242.83L810.88 242.72L811.5 242.71L812.12 242.85L812.74 242.95L813.37 242.95L813.99 242.76L814.61 242.36L815.23 242.21L815.85 242.3L816.48 242.71L817.1 243.1L817.72 243.38L818.34 243.3L818.96 243.42L819.59 243.48L820.21 243.44L820.83 242.77L821.45 242.27L822.07 242.4L822.7 242.91L823.32 243.4L823.94 243.26L824.56 242.88L825.18 242.45L825.81 242.19L826.43 242.55L827.05 242.71L827.67 242.97L828.29 242.65L828.92 242.96L829.54 243.44L830.16 243.94L830.78 243.95L831.4 243.46L832.03 242.92L832.65 242.67L833.27 242.55L833.89 242.72L834.51 242.38L835.14 242.25L835.76 241.72L836.38 241.51L837 241.37L837.62 241.85L838.25 242.47L838.87 242.93L839.49 242.95L840.11 242.73L840.73 242.67L841.36 242.68L841.98 242.51L842.6 241.99L843.22 241.78L843.84 242.17L844.47 242.81L845.09 243.05L845.71 242.92L846.33 243.08L846.95 243.26L847.58 243.31L848.2 243.07L848.82 243.36L849.44 244.04L850.06 244.36L850.69 243.99L851.31 243.12L851.93 242.75L852.55 242.5L853.17 242.47L853.8 242.3L854.42 242.63L855.04 243.14L855.66 243.71L856.28 243.69L856.91 243.31L857.53 242.78L858.15 242.66L858.77 242.95L859.39 243.64L860.02 244.03L860.64 244.09L861.26 243.35L861.88 242.76L862.5 242.05L863.13 242.27L863.75 242.33L864.37 242.86L864.99 242.57L865.61 242.43L866.24 241.93L866.86 242.16L867.48 242.48L868.1 242.9L868.72 242.55L869.35 242.05L869.97 241.68L870.59 241.85L871.21 242.15L871.83 242.4L872.46 242.7L873.08 242.76L873.7 242.71L874.32 242.42L874.94 242.15L875.57 242.1L876.19 242.25L876.81 242.52L877.43 242.55L878.05 242.57L878.68 242.87L879.3 243.41L879.92 243.65L880.54 243.59L881.16 243.01L881.79 242.54L882.41 241.84L883.03 241.56L883.65 241.53L884.27 242.07L884.9 242.83L885.52 243.43L886.14 243.49L886.76 243.17L887.38 242.82L888.01 243.07L888.63 243.62L889.25 244.37L889.87 244.33L890.49 243.74L891.12 242.9L891.74 242.51L892.36 242.61L892.98 242.88L893.6 243.31L894.23 243.55L894.85 243.51L895.47 243.03L896.09 242.53L896.71 242.56L897.34 243.15L897.96 243.94L898.58 244.3L899.2 244.19L899.82 243.92L900.45 243.9L901.07 244.03L901.69 243.86L902.31 243.52L902.93 243.09L903.56 243.12L904.18 243.15L904.8 243.23" fill="none" stroke="#0a12e8" stroke-width="3.8" stroke-linejoin="round"/>
<path d="M158.4 385.14L159.02 385.42L159.64 385.6L160.27 385.79L160.89 385.86L161.51 385.76L162.13 385.11L162.75 384.53L163.38 384.35L164 384.92L164.62 385.72L165.24 386.42L165.86 386.93L166.49 387.15L167.11 387.14L167.73 386.86L168.35 386.49L168.97 386.11L169.6 385.8L170.22 385.7L170.84 385.83L171.46 386.15L172.08 386.37L172.71 386.15L173.33 386.04L173.95 386L174.57 386.37L175.19 386.27L175.82 386.25L176.44 386.1L177.06 386.03L177.68 385.72L178.3 385.33L178.93 385.11L179.55 385.2L180.17 385.63L180.79 385.97L181.41 386.09L182.04 385.63L182.66 385.27L183.28 384.83L183.9 384.9L184.52 384.98L185.15 384.84L185.77 384.72L186.39 384.59L187.01 385.06L187.63 385.26L188.26 385.39L188.88 385.14L189.5 384.96L190.12 384.96L190.74 385.16L191.37 385.43L191.99 385.56L192.61 385.55L193.23 385.63L193.85 385.7L194.48 385.81L195.1 385.61L195.72 385.41L196.34 385.5L196.96 385.53L197.59 385.69L198.21 385.57L198.83 385.97L199.45 386.19L200.07 386.47L200.7 386.46L201.32 386.45L201.94 386.08L202.56 385.77L203.18 385.64L203.81 385.97L204.43 386.11L205.05 386.1L205.67 385.54L206.29 385.13L206.92 384.31L207.54 384.26L208.16 384.3L208.78 385.4L209.4 386.01L210.03 386.44L210.65 385.97L211.27 385.36L211.89 384.88L212.51 384.69L213.14 385.05L213.76 385.14L214.38 385.22L215 384.98L215.62 385.29L216.25 385.64L216.87 386.47L217.49 386.76L218.11 386.91L218.73 386.1L219.36 385.47L219.98 385.16L220.6 385.45L221.22 385.72L221.84 385.55L222.47 385.36L223.09 385.2L223.71 385.25L224.33 385.04L224.95 385.36L225.58 385.72L226.2 386.25L226.82 385.85L227.44 385.61L228.06 385.39L228.69 385.97L229.31 385.86L229.93 385.8L230.55 384.98L231.17 384.76L231.8 384.48L232.42 384.67L233.04 384.7L233.66 384.47L234.28 384.08L234.91 383.87L235.53 383.87L236.15 383.7L236.77 382.85L237.39 382.38L238.02 381.95L238.64 382.27L239.26 382.09L239.88 381.26L240.5 378.74L241.13 373.35L241.75 364.89L242.37 353.04L242.99 339.54L243.61 326.07L244.24 315.97L244.86 312.2L245.48 316.49L246.1 327.06L246.72 340.79L247.35 354.28L247.97 365.96L248.59 374.06L249.21 379.4L249.83 381.8L250.46 383.07L251.08 383.06L251.7 383.2L252.32 383.54L252.94 384.08L253.57 384.59L254.19 384.94L254.81 385.29L255.43 385.2L256.05 384.71L256.68 384.44L257.3 384.74L257.92 385.29L258.54 385.38L259.16 385.04L259.79 384.87L260.41 384.99L261.03 385.41L261.65 385.54L262.27 385.77L262.9 385.52L263.52 385.51L264.14 385.26L264.76 385.05L265.38 384.44L266.01 383.57L266.63 382.92L267.25 382.03L267.87 381.07L268.49 379.72L269.12 378.68L269.74 378.15L270.36 378.3L270.98 379.23L271.6 380.64L272.23 382.14L272.85 383.16L273.47 383.9L274.09 384.44L274.71 385.16L275.34 385.62L275.96 386.17L276.58 386.11L277.2 385.98L277.82 385.35L278.45 385.41L279.07 385.32L279.69 385.18L280.31 384.52L280.93 384.35L281.56 384.63L282.18 384.65L282.8 383.96L283.42 382.72L284.04 381.71L284.67 380.59L285.29 379.31L285.91 377.95L286.53 377.54L287.15 377.99L287.78 379.24L288.4 380.21L289.02 381.25L289.64 382.02L290.26 382.88L290.89 383.49L291.51 384.04L292.13 384.62L292.75 385.09L293.37 385.59L294 385.78L294.62 385.93L295.24 385.73L295.86 385.49L296.48 385.34L297.11 385.19L297.73 385L298.35 384.66L298.97 384.56L299.59 384.69L300.22 384.74L300.84 384.68L301.46 384.69L302.08 384.5L302.7 384.23L303.33 383.62L303.95 383.46L304.57 383.37L305.19 383.58L305.81 383.87L306.44 384.22L307.06 384.71L307.68 384.97L308.3 385.25L308.92 385.23L309.55 385.31L310.17 385.59L310.79 385.86L311.41 386.19L312.03 386.21L312.66 386.48L313.28 386.18L313.9 385.74L314.52 385.08L315.14 385L315.77 385.37L316.39 385.73L317.01 385.78L317.63 385.6L318.25 385.54L318.88 385.95L319.5 386.31L320.12 386.38L320.74 386.03L321.36 385.83L321.99 385.92L322.61 386.08L323.23 386.12L323.85 385.93L324.47 385.89L325.1 385.93L325.72 385.91L326.34 385.81L326.96 385.68L327.58 385.74L328.21 385.54L328.83 385.02L329.45 384.6L330.07 384.48L330.69 384.72L331.32 384.78L331.94 384.59L332.56 384.42L333.18 384.31L333.8 384.35L334.43 384.5L335.05 384.73L335.67 385.01L336.29 385.18L336.91 385.23L337.54 385.48L338.16 385.36L338.78 385.56L339.4 385.34L340.02 385.47L340.65 385.18L341.27 384.96L341.89 384.68L342.51 384.52L343.13 384.6L343.76 384.9L344.38 385.21L345 385.5L345.62 385.55L346.24 385.7L346.87 385.7L347.49 385.88L348.11 386.02L348.73 385.91L349.35 385.28L349.98 384.69L350.6 384.59L351.22 385.16L351.84 385.4L352.46 385.54L353.09 385.69L353.71 385.99L354.33 386.16L354.95 385.74L355.57 385.36L356.2 384.87L356.82 384.65L357.44 384.63L358.06 384.91L358.68 385L359.31 384.73L359.93 384.45L360.55 384.66L361.17 385.41L361.79 385.71L362.42 385.68L363.04 385.5L363.66 385.49L364.28 385.53L364.9 385.19L365.53 385.14L366.15 385.01L366.77 385.01L367.39 384.93L368.01 384.97L368.64 384.99L369.26 384.92L369.88 385.3L370.5 385.54L371.12 385.57L371.75 384.86L372.37 384.59L372.99 384.5L373.61 384.59L374.23 384.68L374.86 384.79L375.48 385.15L376.1 385.36L376.72 385.86L377.34 386.26L377.97 386.43L378.59 386.21L379.21 385.83L379.83 385.88L380.45 386.19L381.08 386.37L381.7 386.07L382.32 385.31L382.94 384.76L383.56 384.39L384.19 384.45L384.81 384.52L385.43 384.88L386.05 385.31L386.67 385.78L387.3 385.74L387.92 385.39L388.54 385.06L389.16 385.28L389.78 385.66L390.41 386.02L391.03 385.9L391.65 385.8L392.27 385.65L392.89 385.74L393.52 385.58L394.14 385.49L394.76 385.28L395.38 385.46L396 385.36L396.63 385.44L397.25 385.2L397.87 385.13L398.49 385.02L399.11 385.32L399.74 385.91L400.36 386.44L400.98 386.5L401.6 386.23L402.22 385.94L402.85 386.01L403.47 386.04L404.09 386.25L404.71 385.89L405.33 385.49L405.96 384.72L406.58 384.38L407.2 384.5L407.82 384.93L408.44 385.53L409.07 385.64L409.69 385.56L410.31 385.17L410.93 384.99L411.55 384.8L412.18 384.69L412.8 384.79L413.42 385.19L414.04 385.44L414.66 385.2L415.29 384.62L415.91 384.34L416.53 384.31L417.15 384.57L417.77 384.75L418.4 385.27L419.02 385.5L419.64 385.36L420.26 384.95L420.88 384.91L421.51 385.4L422.13 385.69L422.75 385.58L423.37 385.24L423.99 385.08L424.62 385.19L425.24 385.37L425.86 385.48L426.48 385.57L427.1 385.55L427.73 385.56L428.35 385.69L428.97 386.07L429.59 386.25L430.21 386.19L430.84 385.48L431.46 384.89L432.08 384.33L432.7 384.54L433.32 385.21L433.95 385.63L434.57 385.79L435.19 385.31L435.81 385.29L436.43 385.11L437.06 385.46L437.68 385.57L438.3 385.47L438.92 384.83L439.54 384.37L440.17 384.6L440.79 385.24L441.41 385.75L442.03 385.61L442.65 385.23L443.28 385.05L443.9 384.94L444.52 384.92L445.14 384.46L445.76 384.55L446.39 384.78L447.01 385.29L447.63 385.37L448.25 385.58L448.87 386L449.5 386.18L450.12 385.82L450.74 385.23L451.36 384.85L451.98 384.63L452.61 384.17L453.23 384.1L453.85 384.22L454.47 384.62L455.09 384.6L455.72 384.67L456.34 384.47L456.96 384.05L457.58 383.11L458.2 382.49L458.83 382.49L459.45 382.99L460.07 382.7L460.69 380.99L461.31 377.84L461.94 373.66L462.56 368.17L463.18 360.97L463.8 352.27L464.42 343.28L465.05 335.36L465.67 330.23L466.29 329.12L466.91 332.55L467.53 339.5L468.16 348.25L468.78 357.13L469.4 365.27L470.02 371.9L470.64 377.03L471.27 380.47L471.89 382.97L472.51 384.08L473.13 384.42L473.75 384.09L474.38 384.24L475 384.39L475.62 384.24L476.24 383.78L476.86 383.45L477.49 383.3L478.11 383.17L478.73 382.69L479.35 382.41L479.97 381.79L480.6 381.36L481.22 380.7L481.84 380.34L482.46 379.95L483.08 379.89L483.71 380.23L484.33 380.91L484.95 381.6L485.57 381.97L486.19 382.41L486.82 382.41L487.44 382.63L488.06 382.87L488.68 383.77L489.3 384.66L489.93 385.11L490.55 385.29L491.17 385.17L491.79 385.16L492.41 385.28L493.04 385.39L493.66 385.5L494.28 385.09L494.9 384.96L495.52 385.11L496.15 385.49L496.77 385.69L497.39 385.74L498.01 385.93L498.63 385.86L499.26 385.82L499.88 385.59L500.5 385.52L501.12 385.22L501.74 384.99L502.37 385.17L502.99 385.64L503.61 386.07L504.23 386.05L504.85 385.47L505.48 385.04L506.1 384.91L506.72 385.37L507.34 385.74L507.96 385.54L508.59 385.14L509.21 384.87L509.83 385.2L510.45 385.44L511.07 385.27L511.7 384.98L512.32 384.65L512.94 385.02L513.56 385.22L514.18 385.7L514.81 385.34L515.43 385.15L516.05 385.04L516.67 385.44L517.29 385.7L517.92 385.65L518.54 385.72L519.16 385.9L519.78 386.3L520.4 386.17L521.03 386.24L521.65 385.95L522.27 386.03L522.89 385.35L523.51 385.02L524.14 384.92L524.76 385.77L525.38 386.61L526 386.97L526.62 386.5L527.25 385.67L527.87 385.08L528.49 384.89L529.11 384.92L529.73 385.16L530.36 385.44L530.98 385.9L531.6 385.92L532.22 385.65L532.84 385.17L533.47 384.81L534.09 385.06L534.71 385.43L535.33 385.69L535.95 385.1L536.58 384.16L537.2 383.49L537.82 383.55L538.44 383.95L539.06 384.35L539.69 384.33L540.31 384.29L540.93 384.32L541.55 384.63L542.17 385.26L542.8 385.61L543.42 385.95L544.04 385.76L544.66 385.82L545.28 386.01L545.91 386.24L546.53 386.19L547.15 385.52L547.77 385.33L548.39 385.43L549.02 386.11L549.64 386.26L550.26 385.95L550.88 385.49L551.5 385.17L552.13 385.47L552.75 385.62L553.37 385.8L553.99 385.62L554.61 385.44L555.24 385.28L555.86 385.26L556.48 385.13L557.1 385.15L557.72 385.08L558.35 385.37L558.97 385.46L559.59 385.5L560.21 385.46L560.83 385.62L561.46 385.76L562.08 385.83L562.7 385.23L563.32 384.76L563.94 384.07L564.57 383.74L565.19 382.5L565.81 381.19L566.43 379.45L567.05 378.31L567.68 377.05L568.3 376.54L568.92 376.35L569.54 377.04L570.16 377.99L570.79 379.03L571.41 379.6L572.03 380.37L572.65 381.25L573.27 382.92L573.9 384.4L574.52 385.67L575.14 386.13L575.76 385.84L576.38 385.62L577.01 385.11L577.63 384.87L578.25 384.78L578.87 385.3L579.49 385.91L580.12 385.97L580.74 385.79L581.36 385.64L581.98 386.01L582.6 386.23L583.23 386.12L583.85 385.51L584.47 385.07L585.09 385.11L585.71 385.03L586.34 384.96L586.96 384.71L587.58 385.02L588.2 385.25L588.82 385.34L589.45 385.18L590.07 385.09L590.69 385.08L591.31 384.96L591.93 384.9L592.56 385.15L593.18 385.52L593.8 385.76L594.42 385.66L595.04 385.51L595.67 385.37L596.29 385.38L596.91 385.45L597.53 385.48L598.15 385.51L598.78 385.74L599.4 386.12L600.02 386.42L600.64 386.38L601.26 385.96L601.89 385.58L602.51 385.28L603.13 385.5L603.75 385.78L604.37 386.24L605 386.34L605.62 386.29L606.24 386.22L606.86 386.52L607.48 386.76L608.11 386.28L608.73 385.41L609.35 384.54L609.97 384.66L610.59 384.9L611.22 385.69L611.84 386.06L612.46 386.37L613.08 385.97L613.7 385.68L614.33 385.31L614.95 385.38L615.57 385.39L616.19 385.91L616.81 386.15L617.44 386.38L618.06 386.1L618.68 385.98L619.3 385.69L619.92 385.45L620.55 385.18L621.17 385.29L621.79 385.72L622.41 386.05L623.03 386.15L623.66 385.97L624.28 386.08L624.9 386.22L625.52 386.37L626.14 386.15L626.77 385.9L627.39 385.65L628.01 385.38L628.63 385.03L629.25 384.44L629.88 384.34L630.5 384.57L631.12 385.37L631.74 385.83L632.36 385.96L632.99 385.83L633.61 385.93L634.23 386.08L634.85 386.29L635.47 386.11L636.1 386.28L636.72 386.1L637.34 386.17L637.96 385.49L638.58 385.19L639.21 384.71L639.83 384.96L640.45 385.04L641.07 385.27L641.69 385.07L642.32 384.93L642.94 384.8L643.56 385.08L644.18 385.38L644.8 385.71L645.43 385.75L646.05 385.86L646.67 386.19L647.29 386.15L647.91 385.95L648.54 385.4L649.16 385.51L649.78 385.8L650.4 386.27L651.02 386.54L651.65 386.77L652.27 386.83L652.89 386.66L653.51 386.29L654.13 386.06L654.76 385.98L655.38 386.08L656 386.01L656.62 386.28L657.24 386.2L657.87 386.45L658.49 385.99L659.11 386.06L659.73 385.92L660.35 386.2L660.98 386.56L661.6 386.58L662.22 387.03L662.84 387.06L663.46 387.38L664.09 386.89L664.71 386.26L665.33 385.45L665.95 384.93L666.57 384.75L667.2 384.74L667.82 385.06L668.44 385.21L669.06 385.57L669.68 385.5L670.31 385.33L670.93 385.1L671.55 385.08L672.17 385.31L672.79 385.28L673.42 385.46L674.04 385.91L674.66 386.77L675.28 387.43L675.9 387.56L676.53 387.22L677.15 386.73L677.77 386.29L678.39 385.71L679.01 385.37L679.64 385.1L680.26 385.46L680.88 385.94L681.5 386.65L682.12 387.17L682.75 387.28L683.37 387L683.99 386.37L684.61 385.61L685.23 385.04L685.86 384.83L686.48 385.24L687.1 385.8L687.72 386.19L688.34 386.03L688.97 385.63L689.59 385.4L690.21 385.3L690.83 385.28L691.45 384.93L692.08 384.91L692.7 384.85L693.32 385.09L693.94 385.11L694.56 385.18L695.19 385.19L695.81 385.38L696.43 385.63L697.05 386.09L697.67 386.16L698.3 386.01L698.92 385.54L699.54 385.46L700.16 385.63L700.78 385.9L701.41 385.98L702.03 385.95L702.65 385.98L703.27 386.11L703.89 386.12L704.52 385.95L705.14 385.58L705.76 385.35L706.38 385.41L707 385.84L707.63 386.17L708.25 386.22L708.87 385.72L709.49 385.31L710.11 385.31L710.74 385.96L711.36 386.63L711.98 387.05L712.6 386.62L713.22 385.95L713.85 384.97L714.47 384.42L715.09 384.02L715.71 383.84L716.33 383.49L716.96 382.95L717.58 382.26L718.2 381.94L718.82 381.87L719.44 382.31L720.07 382.84L720.69 383.54L721.31 384.14L721.93 384.54L722.55 384.67L723.18 384.71L723.8 384.77L724.42 385.23L725.04 385.76L725.66 385.91L726.29 386.06L726.91 385.84L727.53 386.05L728.15 385.79L728.77 385.49L729.4 385.31L730.02 385.35L730.64 386.02L731.26 386.56L731.88 386.88L732.51 386.73L733.13 386.18L733.75 385.5L734.37 384.98L734.99 384.99L735.62 385.72L736.24 386.51L736.86 386.87L737.48 386.54L738.1 385.8L738.73 385.21L739.35 385.15L739.97 385.4L740.59 385.42L741.21 384.95L741.84 384.51L742.46 384.8L743.08 385.37L743.7 385.76L744.32 385.46L744.95 385.3L745.57 385.64L746.19 386.14L746.81 386.39L747.43 386.3L748.06 386.53L748.68 386.54L749.3 386.44L749.92 385.92L750.54 385.72L751.17 385.81L751.79 386.14L752.41 386.53L753.03 386.63L753.65 386.91L754.28 387.01L754.9 386.96L755.52 386.44L756.14 385.83L756.76 385.53L757.39 385.46L758.01 385.41L758.63 385.2L759.25 384.81L759.87 384.74L760.5 384.98L761.12 385.69L761.74 386.24L762.36 386.33L762.98 386.01L763.61 385.45L764.23 385.33L764.85 385.13L765.47 385.23L766.09 385.29L766.72 385.82L767.34 386.21L767.96 386.16L768.58 385.65L769.2 385.21L769.83 385.01L770.45 385.03L771.07 385.16L771.69 385.53L772.31 385.87L772.94 385.92L773.56 385.51L774.18 385.13L774.8 385.05L775.42 385.25L776.05 385.38L776.67 385.25L777.29 385.34L777.91 385.71L778.53 386.43L779.16 386.81L779.78 386.68L780.4 386.35L781.02 386.41L781.64 386.78L782.27 386.83L782.89 386.44L783.51 386.2L784.13 386.37L784.75 386.83L785.38 386.99L786 386.84L786.62 386.22L787.24 385.77L787.86 385.63L788.49 386.04L789.11 386.48L789.73 386.65L790.35 386.53L790.97 386.2L791.6 386.31L792.22 386.54L792.84 386.85L793.46 386.71L794.08 386.18L794.71 385.84L795.33 385.55L795.95 385.82L796.57 385.68L797.19 385.43L797.82 384.76L798.44 384.41L799.06 384.35L799.68 384.38L800.3 384.03L800.93 383.35L801.55 383L802.17 383.39L802.79 383.97L803.41 384.4L804.04 384.41L804.66 384.84L805.28 385.23L805.9 385.87L806.52 385.99L807.15 386.4L807.77 386.58L808.39 386.86L809.01 386.31L809.63 385.76L810.26 385.2L810.88 385.26L811.5 385.24L812.12 385.47L812.74 385.72L813.37 385.68L813.99 385.36L814.61 384.96L815.23 385.51L815.85 386.31L816.48 386.99L817.1 386.82L817.72 386.57L818.34 386.47L818.96 386.49L819.59 386.02L820.21 385.35L820.83 384.89L821.45 385.36L822.07 385.87L822.7 386.47L823.32 386.01L823.94 385.87L824.56 385.28L825.18 385.51L825.81 385.37L826.43 385.7L827.05 385.76L827.67 385.82L828.29 385.75L828.92 385.57L829.54 385.66L830.16 385.49L830.78 385.56L831.4 385.47L832.03 385.67L832.65 385.65L833.27 385.82L833.89 385.9L834.51 386.2L835.14 385.86L835.76 385.61L836.38 385.02L837 385.17L837.62 384.86L838.25 385.25L838.87 385.14L839.49 385.65L840.11 385.25L840.73 385.13L841.36 384.55L841.98 384.79L842.6 385.43L843.22 386.51L843.84 387.12L844.47 386.89L845.09 386.31L845.71 385.95L846.33 386.11L846.95 386.39L847.58 386.27L848.2 385.91L848.82 385.67L849.44 385.7L850.06 385.73L850.69 385.68L851.31 385.57L851.93 385.6L852.55 385.51L853.17 385.73L853.8 385.9L854.42 386.23L855.04 386.11L855.66 386.07L856.28 385.8L856.91 385.8L857.53 385.56L858.15 385.56L858.77 385.42L859.39 385.58L860.02 385.66L860.64 385.73L861.26 385.58L861.88 385.45L862.5 385.21L863.13 385.01L863.75 384.74L864.37 384.8L864.99 385.01L865.61 385.4L866.24 385.73L866.86 385.98L867.48 385.87L868.1 385.53L868.72 385.48L869.35 385.53L869.97 385.65L870.59 385.06L871.21 384.8L871.83 384.75L872.46 385.24L873.08 385.73L873.7 385.8L874.32 385.64L874.94 385.14L875.57 385.31L876.19 385.62L876.81 385.95L877.43 385.64L878.05 385.47L878.68 385.6L879.3 385.99L879.92 385.95L880.54 385.92L881.16 385.98L881.79 386.18L882.41 386.09L883.03 385.93L883.65 385.79L884.27 385.77L884.9 385.67L885.52 385.73L886.14 385.7L886.76 385.91L887.38 386.05L888.01 386.39L888.63 385.91L889.25 385.51L889.87 385.18L890.49 385.87L891.12 386.29L891.74 386.29L892.36 386.19L892.98 386.35L893.6 387.18L894.23 387.76L894.85 387.85L895.47 387.29L896.09 386.1L896.71 385.58L897.34 385.2L897.96 385.63L898.58 385.8L899.2 386.06L899.82 386.15L900.45 386.07L901.07 386.09L901.69 386.18L902.31 386.56L902.93 386.74L903.56 386.68L904.18 386.29L904.8 385.97" fill="none" stroke="#ee1216" stroke-width="3.8" stroke-linejoin="round"/>
<line x1="245.1" y1="487.3" x2="245.1" y2="571" stroke="#000" stroke-width="2.6"/>
<text transform="translate(253.1 483.6) rotate(-90)" font-family="'Liberation Sans', Arial, sans-serif" font-weight="bold" font-size="31">(111)</text>
<line x1="298.1" y1="526.3" x2="298.1" y2="571" stroke="#000" stroke-width="2.6"/>
<text transform="translate(306.1 524.7) rotate(-90)" font-family="'Liberation Sans', Arial, sans-serif" font-weight="bold" font-size="31">(200)</text>
<line x1="465.9" y1="489.4" x2="465.9" y2="571" stroke="#000" stroke-width="2.6"/>
<text transform="translate(473.9 488.8) rotate(-90)" font-family="'Liberation Sans', Arial, sans-serif" font-weight="bold" font-size="31">(220)</text>
<line x1="569.2" y1="498.6" x2="569.2" y2="571" stroke="#000" stroke-width="2.6"/>
<text transform="translate(577.2 497) rotate(-90)" font-family="'Liberation Sans', Arial, sans-serif" font-weight="bold" font-size="31">(311)</text>
<line x1="719" y1="511.4" x2="719" y2="571" stroke="#000" stroke-width="2.6"/>
<text transform="translate(727 511.4) rotate(-90)" font-family="'Liberation Sans', Arial, sans-serif" font-weight="bold" font-size="31">(400)</text>
<line x1="801.9" y1="528.2" x2="801.9" y2="571" stroke="#000" stroke-width="2.6"/>
<text transform="translate(809.9 524) rotate(-90)" font-family="'Liberation Sans', Arial, sans-serif" font-weight="bold" font-size="31">(331)</text>
<rect x="158.4" y="79.9" width="746.4" height="554.1" fill="none" stroke="#000" stroke-width="3.6"/>
<line x1="158.4" y1="571" x2="904.8" y2="571" stroke="#000" stroke-width="3"/>
<path d="M158.4 634V645.5M170.84 634V640.8M183.28 634V640.8M195.72 634V640.8M208.16 634V640.8M220.6 634V640.8M233.04 634V640.8M245.48 634V640.8M257.92 634V640.8M270.36 634V640.8M282.8 634V645.5M295.24 634V640.8M307.68 634V640.8M320.12 634V640.8M332.56 634V640.8M345 634V640.8M357.44 634V640.8M369.88 634V640.8M382.32 634V640.8M394.76 634V640.8M407.2 634V645.5M419.64 634V640.8M432.08 634V640.8M444.52 634V640.8M456.96 634V640.8M469.4 634V640.8M481.84 634V640.8M494.28 634V640.8M506.72 634V640.8M519.16 634V640.8M531.6 634V645.5M544.04 634V640.8M556.48 634V640.8M568.92 634V640.8M581.36 634V640.8M593.8 634V640.8M606.24 634V640.8M618.68 634V640.8M631.12 634V640.8M643.56 634V640.8M656 634V645.5M668.44 634V640.8M680.88 634V640.8M693.32 634V640.8M705.76 634V640.8M718.2 634V640.8M730.64 634V640.8M743.08 634V640.8M755.52 634V640.8M767.96 634V640.8M780.4 634V645.5M792.84 634V640.8M805.28 634V640.8M817.72 634V640.8M830.16 634V640.8M842.6 634V640.8M855.04 634V640.8M867.48 634V640.8M879.92 634V640.8M892.36 634V640.8M904.8 634V645.5" stroke="#000" stroke-width="3" fill="none"/>
<text x="158.4" y="677.3" text-anchor="middle" font-family="'Liberation Sans', Arial, sans-serif" font-weight="bold" font-size="33">20</text>
<text x="282.8" y="677.3" text-anchor="middle" font-family="'Liberation Sans', Arial, sans-serif" font-weight="bold" font-size="33">30</text>
<text x="407.2" y="677.3" text-anchor="middle" font-family="'Liberation Sans', Arial, sans-serif" font-weight="bold" font-size="33">40</text>
<text x="531.6" y="677.3" text-anchor="middle" font-family="'Liberation Sans', Arial, sans-serif" font-weight="bold" font-size="33">50</text>
<text x="656" y="677.3" text-anchor="middle" font-family="'Liberation Sans', Arial, sans-serif" font-weight="bold" font-size="33">60</text>
<text x="780.4" y="677.3" text-anchor="middle" font-family="'Liberation Sans', Arial, sans-serif" font-weight="bold" font-size="33">70</text>
<text x="904.8" y="677.3" text-anchor="middle" font-family="'Liberation Sans', Arial, sans-serif" font-weight="bold" font-size="33">80</text>
<text x="531.4" y="722.7" text-anchor="middle" font-family="'Liberation Sans', Arial, sans-serif" font-weight="bold" font-size="35">2θ (degree)</text>
<text transform="translate(126.2 379.7) rotate(-90)" text-anchor="middle" font-family="'Liberation Sans', Arial, sans-serif" font-weight="bold" font-size="35.1">Intensity (arbitrary unit)</text>
<text x="635.6" y="218.2" font-family="'Liberation Sans', Arial, sans-serif" font-weight="bold" font-size="33.5" letter-spacing="-0.42" fill="#0a14e6">Cu<tspan font-size="23" dy="11.7">2</tspan><tspan dy="-11.7">Se on glass</tspan></text>
<text x="658.2" y="359.9" font-family="'Liberation Sans', Arial, sans-serif" font-weight="bold" font-size="33.5" letter-spacing="-0.34" fill="#f01418">Cu<tspan font-size="23" dy="11.7">2</tspan><tspan dy="-11.7">Se on Si</tspan></text>
<text x="453.2" y="612.8" font-family="'Liberation Sans', Arial, sans-serif" font-weight="bold" font-size="33" letter-spacing="-0.12">β-Cu<tspan font-size="23" dy="10">2</tspan><tspan dy="-10">Se JCPDS No. 06-0680</tspan></text>
<path d="M1103.1 1054.64L1103.71 1054.8L1104.32 1054.04L1104.93 1053.97L1105.54 1054.36L1106.15 1054.79L1106.76 1054.28L1107.37 1053.69L1107.98 1053.77L1108.59 1053.96L1109.2 1054.24L1109.81 1053.84L1110.42 1053.65L1111.03 1053.62L1111.64 1053.68L1112.25 1053.28L1112.86 1053.44L1113.47 1053.44L1114.08 1053.81L1114.69 1053.12L1115.3 1053.36L1115.91 1052.56L1116.52 1053.09L1117.13 1052.72L1117.74 1052.35L1118.35 1052.38L1118.96 1052.55L1119.57 1051.98L1120.18 1052.27L1120.79 1052.27L1121.4 1052.13L1122.01 1051.93L1122.62 1050.74L1123.23 1051.09L1123.84 1050.52L1124.45 1050.84L1125.06 1050.3L1125.67 1050.1L1126.28 1049.92L1126.89 1049.29L1127.5 1049.24L1128.11 1048.66L1128.72 1049.31L1129.33 1048.11L1129.94 1047.94L1130.55 1046.97L1131.16 1046.7L1131.77 1046.54L1132.38 1046.7L1132.99 1046.29L1133.6 1045.71L1134.21 1044.97L1134.82 1045.4L1135.43 1043.99L1136.04 1043.61L1136.65 1043.64L1137.26 1042.7L1137.87 1042.7L1138.48 1042.52L1139.09 1041.75L1139.7 1041.51L1140.31 1040.99L1140.92 1040.36L1141.53 1039.14L1142.14 1039.47L1142.75 1039.56L1143.36 1038.7L1143.97 1038.79L1144.58 1038.8L1145.19 1038.97L1145.8 1037.84L1146.41 1037.96L1147.02 1038.08L1147.63 1038.08L1148.24 1037.35L1148.85 1038.42L1149.46 1037.49L1150.07 1038.17L1150.68 1037.77L1151.29 1038.06L1151.9 1038.61L1152.51 1038.42L1153.12 1038.38L1153.73 1038.18L1154.34 1038.52L1154.95 1038.49L1155.56 1039.93L1156.17 1038.97L1156.78 1038.91L1157.39 1040.68L1158 1040.87L1158.61 1040.63L1159.22 1041.38L1159.83 1041.15L1160.44 1041.58L1161.05 1042.31L1161.66 1042.62L1162.27 1042.67L1162.88 1043.74L1163.49 1043.77L1164.1 1043.9L1164.71 1043.78L1165.32 1044.55L1165.93 1044.7L1166.54 1045.07L1167.15 1045.65L1167.76 1045.44L1168.37 1045.97L1168.98 1046.38L1169.59 1046.44L1170.2 1047.31L1170.81 1046.09L1171.42 1046.84L1172.03 1046.6L1172.64 1047.13L1173.25 1048.15L1173.86 1046.81L1174.47 1047.38L1175.08 1047.79L1175.69 1047.68L1176.3 1048.03L1176.91 1047.23L1177.52 1048.15L1178.13 1047.53L1178.74 1047.47L1179.35 1048.12L1179.96 1048.11L1180.57 1047.71L1181.18 1047.69L1181.79 1047.92L1182.4 1047.99L1183.01 1047.93L1183.62 1047.63L1184.23 1047.15L1184.84 1048.39L1185.45 1047.96L1186.06 1047.42L1186.67 1047.26L1187.28 1047.51L1187.89 1047.55L1188.5 1046.89L1189.11 1048.05L1189.72 1047.64L1190.33 1047.31L1190.94 1047.46L1191.55 1047.34L1192.16 1047.54L1192.77 1047.13L1193.38 1047.43L1193.99 1047.43L1194.6 1046.69L1195.21 1046.54L1195.82 1046.29L1196.43 1046.42L1197.04 1046.14L1197.65 1046.29L1198.26 1046.29L1198.87 1046.26L1199.48 1045.57L1200.09 1046.24L1200.7 1045.64L1201.31 1045.6L1201.92 1045.35L1202.53 1044.72L1203.14 1045.4L1203.75 1044.58L1204.36 1045.46L1204.97 1044.98L1205.58 1045.39L1206.19 1044.95L1206.8 1044.84L1207.41 1044.95L1208.02 1044.29L1208.63 1044.68L1209.24 1043.92L1209.85 1043.86L1210.46 1043.33L1211.07 1043.54L1211.68 1043.34L1212.29 1042.68L1212.9 1042.14L1213.51 1042.29L1214.12 1042.14L1214.73 1041.61L1215.34 1040.98L1215.95 1040.69L1216.56 1040.45L1217.17 1039.19L1217.78 1039.42L1218.39 1039.61L1219 1038.08L1219.61 1037.8L1220.22 1037.72L1220.83 1036.5L1221.44 1035.53L1222.05 1033.88L1222.66 1031.88L1223.27 1031.35L1223.88 1027.94L1224.49 1024.72L1225.1 1021.16L1225.71 1015.83L1226.32 1009.29L1226.93 1001.18L1227.54 992.19L1228.15 981.14L1228.76 968.12L1229.37 953.45L1229.98 937.19L1230.59 919.95L1231.2 901.35L1231.81 882.98L1232.42 864.96L1233.03 847.96L1233.64 833.65L1234.25 823.69L1234.86 817.56L1235.47 816.3L1236.08 821.4L1236.69 831.4L1237.3 844.62L1237.91 861.57L1238.52 878.76L1239.13 897.43L1239.74 917.03L1240.35 934.77L1240.96 950.66L1241.57 966.35L1242.18 980.17L1242.79 990.92L1243.4 1000.76L1244.01 1008.99L1244.62 1015.85L1245.23 1021.09L1245.84 1025.95L1246.45 1029.15L1247.06 1032.49L1247.67 1035.5L1248.28 1036.16L1248.89 1038.31L1249.5 1039.6L1250.11 1039.38L1250.72 1041.06L1251.33 1041.73L1251.94 1042.23L1252.55 1043.16L1253.16 1043.23L1253.77 1043.97L1254.38 1044.16L1254.99 1044.69L1255.6 1044.88L1256.21 1046.36L1256.82 1045.95L1257.43 1045.97L1258.04 1047.42L1258.65 1047.66L1259.26 1047.41L1259.87 1047.6L1260.48 1047.92L1261.09 1048.93L1261.7 1048.71L1262.31 1048.88L1262.92 1049.71L1263.53 1049.6L1264.14 1049.94L1264.75 1050.88L1265.36 1050.73L1265.97 1051.07L1266.58 1050.97L1267.19 1051.45L1267.8 1051.1L1268.41 1051.6L1269.02 1051.73L1269.63 1051.33L1270.24 1051.14L1270.85 1051.88L1271.46 1051.77L1272.07 1052.14L1272.68 1051.83L1273.29 1052.34L1273.9 1052.61L1274.51 1053.22L1275.12 1053.14L1275.73 1052.78L1276.34 1053.27L1276.95 1052.67L1277.56 1053.42L1278.17 1053.19L1278.78 1053.73L1279.39 1053.51L1280 1053.43L1280.61 1053.39L1281.22 1054.19L1281.83 1053.9L1282.44 1054.24L1283.05 1054.28L1283.66 1053.51L1284.27 1054.54L1284.88 1054.31L1285.49 1054.68L1286.1 1054.81L1286.71 1054.1L1287.32 1054.72L1287.93 1054.89L1288.54 1055.13L1289.15 1055.4L1289.76 1054.91L1290.37 1055.13L1290.98 1055.49L1291.59 1054.7L1292.2 1056.03L1292.81 1055.09L1293.42 1055.91L1294.03 1055.53L1294.64 1056.17L1295.25 1055.92L1295.86 1055.58L1296.47 1055.03L1297.08 1055.71L1297.69 1055.81L1298.3 1055.93L1298.91 1055.34L1299.52 1055.53L1300.13 1055.59L1300.74 1056L1301.35 1055.65L1301.96 1055.95L1302.57 1056.36L1303.18 1055.94L1303.79 1056.6L1304.4 1056.28L1305.01 1056.14L1305.62 1056.65L1306.23 1056.49L1306.84 1056.27L1307.45 1056.21L1308.06 1056.45L1308.67 1056.64L1309.28 1056.97L1309.89 1056.71L1310.5 1056.45L1311.11 1056.26L1311.72 1056.86L1312.33 1056.96L1312.94 1057.27L1313.55 1056.74L1314.16 1056.52L1314.77 1057.31L1315.38 1057.01L1315.99 1056.7L1316.6 1057.75L1317.21 1057.53L1317.82 1057.29L1318.43 1057.41L1319.04 1057.1L1319.65 1057.74L1320.26 1057.29L1320.87 1057.32L1321.48 1057.41L1322.09 1057.15L1322.7 1057.94L1323.31 1058.19L1323.92 1057.9L1324.53 1056.95L1325.14 1057.57L1325.75 1057.47L1326.36 1057.83L1326.97 1056.96L1327.58 1056.96L1328.19 1057.54L1328.8 1058.04L1329.41 1057.61L1330.02 1058.43L1330.63 1057.34L1331.24 1057.61L1331.85 1057.51L1332.46 1057.24L1333.07 1057.87L1333.68 1056.98L1334.29 1057.02L1334.9 1057.21L1335.51 1057.11L1336.12 1057.62L1336.73 1056.99L1337.34 1057.3L1337.95 1056.92L1338.56 1057.49L1339.17 1057L1339.78 1057.08L1340.39 1056.4L1341 1057.21L1341.61 1056.75L1342.22 1057.29L1342.83 1057.18L1343.44 1057.22L1344.05 1057.47L1344.66 1057.26L1345.27 1056.88L1345.88 1057.31L1346.49 1057.38L1347.1 1056.99L1347.71 1057.7L1348.32 1058.08L1348.93 1057.75L1349.54 1057.79L1350.15 1058.01L1350.76 1058.32L1351.37 1057.85L1351.98 1058.46L1352.59 1057.96L1353.2 1058.48L1353.81 1058.56L1354.42 1058.02L1355.03 1058.77L1355.64 1058.69L1356.25 1058.1L1356.86 1058.59L1357.47 1058.59L1358.08 1058.55L1358.69 1059.06L1359.3 1058.69L1359.91 1059.03L1360.52 1058.68L1361.13 1059.01L1361.74 1059.78L1362.35 1059.32L1362.96 1058.67L1363.57 1058.92L1364.18 1059.24L1364.79 1058.75L1365.4 1059.69L1366.01 1059.37L1366.62 1059.39L1367.23 1059.46L1367.84 1059.23L1368.45 1059.1L1369.06 1058.45L1369.67 1058.99L1370.28 1059.67L1370.89 1059.85L1371.5 1059.58L1372.11 1059.03L1372.72 1059.58L1373.33 1059.74L1373.94 1059.3L1374.55 1060.26L1375.16 1059.42L1375.77 1059.84L1376.38 1059.48L1376.99 1060.21L1377.6 1059.48L1378.21 1059.63L1378.82 1060.36L1379.43 1059.56L1380.04 1059.84L1380.65 1060.24L1381.26 1060.2L1381.87 1059.49L1382.48 1060.34L1383.09 1060.05L1383.7 1060.6L1384.31 1059.6L1384.92 1060.5L1385.53 1060.39L1386.14 1060.15L1386.75 1060.16L1387.36 1060.46L1387.97 1060.11L1388.58 1060.25L1389.19 1060.13L1389.8 1060.47L1390.41 1060.68L1391.02 1059.91L1391.63 1060.5L1392.24 1060.62L1392.85 1061.05L1393.46 1060.29L1394.07 1061.01L1394.68 1060.44L1395.29 1060.78L1395.9 1060.71L1396.51 1060.74L1397.12 1060.55L1397.73 1060.34L1398.34 1061.22L1398.95 1061.23L1399.56 1060.7L1400.17 1060.7L1400.78 1060.7L1401.39 1060.32L1402 1060.42L1402.61 1060.96L1403.22 1061.16L1403.83 1060.77L1404.44 1060.53L1405.05 1060.5L1405.66 1060.67L1406.27 1061.14L1406.88 1060.93L1407.49 1060.42L1408.1 1060.53L1408.71 1061.05L1409.32 1061.04L1409.93 1061.55L1410.54 1061.44L1411.15 1061.01L1411.76 1060.71L1412.37 1061.02L1412.98 1060.55L1413.59 1060.71L1414.2 1061.3L1414.81 1061.17L1415.42 1061.28L1416.03 1061.5L1416.64 1060.82L1417.25 1061.24L1417.86 1060.99L1418.47 1061.08L1419.08 1061.05L1419.69 1061.16L1420.3 1060.5L1420.91 1060.51L1421.52 1061.02L1422.13 1061.16L1422.74 1060.82L1423.35 1060.96L1423.96 1060.51L1424.57 1061.34L1425.18 1061.16L1425.79 1061.53L1426.4 1060.87L1427.01 1060.98L1427.62 1061.04L1428.23 1061.5L1428.84 1061.22L1429.45 1061.16L1430.06 1060.46L1430.67 1060.74L1431.28 1060.53L1431.89 1060.98L1432.5 1061.34L1433.11 1061.07L1433.72 1060.73L1434.33 1061.76L1434.94 1060.68L1435.55 1061.54L1436.16 1061.47L1436.77 1061.16L1437.38 1061.54L1437.99 1060.7L1438.6 1060.89L1439.21 1060.98L1439.82 1061.22L1440.43 1061.03L1441.04 1061.69L1441.65 1060.97L1442.26 1061.03L1442.87 1060.69L1443.48 1061.28L1444.09 1061.4L1444.7 1060.86L1445.31 1060.69L1445.92 1060.65L1446.53 1061.54L1447.14 1061.41L1447.75 1061.24L1448.36 1061.41L1448.97 1061.32L1449.58 1061.31L1450.19 1060.6L1450.8 1061.34L1451.41 1061.41L1452.02 1061.57L1452.63 1061.51L1453.24 1060.95L1453.85 1061.28L1454.46 1060.7L1455.07 1061.69L1455.68 1060.72L1456.29 1061.45L1456.9 1060.93L1457.51 1060.93L1458.12 1060.91L1458.73 1061.11L1459.34 1061.36L1459.95 1061.62L1460.56 1061.13L1461.17 1061.53L1461.78 1061.54L1462.39 1061.96L1463 1061.04L1463.61 1061.36L1464.22 1061.5L1464.83 1061.31L1465.44 1061.48L1466.05 1061.04L1466.66 1061.15L1467.27 1061.06L1467.88 1061.06L1468.49 1060.98L1469.1 1061.26L1469.71 1060.87L1470.32 1061.1L1470.93 1061.5L1471.54 1060.76L1472.15 1060.94L1472.76 1061.17L1473.37 1060.95L1473.98 1060.97L1474.59 1061.98L1475.2 1061.44L1475.81 1061.17L1476.42 1061.08L1477.03 1060.8L1477.64 1060.94L1478.25 1060.54L1478.86 1061.54L1479.47 1061.18L1480.08 1061.67L1480.69 1061.36L1481.3 1060.67L1481.91 1062.03L1482.52 1061.55L1483.13 1061.68L1483.74 1061.18L1484.35 1061.19L1484.96 1061.32L1485.57 1062.01L1486.18 1060.96L1486.79 1061.02L1487.4 1061.58L1488.01 1060.72L1488.62 1061.92L1489.23 1061.01L1489.84 1061.82L1490.45 1061.36L1491.06 1061.29L1491.67 1061.02L1492.28 1061.92L1492.89 1061.33L1493.5 1060.96L1494.11 1061.65L1494.72 1061.38L1495.33 1061.61L1495.94 1061.3L1496.55 1061.57L1497.16 1061.6L1497.77 1061.45L1498.38 1060.88L1498.99 1061.62L1499.6 1061.93L1500.21 1061.6L1500.82 1061.78L1501.43 1061.73L1502.04 1061.35L1502.65 1061.83L1503.26 1061.38L1503.87 1061.11L1504.48 1061.03L1505.09 1061.82L1505.7 1061.71L1506.31 1061.68L1506.92 1061.27L1507.53 1060.83L1508.14 1061.73L1508.75 1061.42L1509.36 1061.24L1509.97 1061.24L1510.58 1061.25L1511.19 1060.8L1511.8 1061.65L1512.41 1061.67L1513.02 1061.72L1513.63 1061.28L1514.24 1060.95L1514.85 1060.9L1515.46 1061.24L1516.07 1061.93L1516.68 1061.62L1517.29 1061.28L1517.9 1061.4L1518.51 1061.48L1519.12 1061.17L1519.73 1061.18L1520.34 1061.11L1520.95 1060.77L1521.56 1060.5L1522.17 1060.61L1522.78 1061.11L1523.39 1060.06L1524 1060.35L1524.61 1060.23L1525.22 1060.25L1525.83 1059.93L1526.44 1060.19L1527.05 1059.61L1527.66 1059.55L1528.27 1059.6L1528.88 1058.65L1529.49 1059.29L1530.1 1059.03L1530.71 1057.96L1531.32 1058.12L1531.93 1057.62L1532.54 1057.47L1533.15 1057.58L1533.76 1056.36L1534.37 1057.01L1534.98 1056.56L1535.59 1056.11L1536.2 1056.57L1536.81 1055.34L1537.42 1054.7L1538.03 1055.07L1538.64 1054.72L1539.25 1054.19L1539.86 1053.43L1540.47 1053.29L1541.08 1054.31L1541.69 1053.03L1542.3 1053.88L1542.91 1053.55L1543.52 1052.4L1544.13 1053.15L1544.74 1053.26L1545.35 1053.4L1545.96 1053.49L1546.57 1053.5L1547.18 1053.12L1547.79 1053.14L1548.4 1053.28L1549.01 1053.68L1549.62 1053.35L1550.23 1053.5L1550.84 1054.89L1551.45 1054.66L1552.06 1054.95L1552.67 1054.77L1553.28 1054.83L1553.89 1055.27L1554.5 1055.44L1555.11 1055.8L1555.72 1055.78L1556.33 1056.84L1556.94 1057.04L1557.55 1057.5L1558.16 1057.54L1558.77 1057.56L1559.38 1058.78L1559.99 1058.68L1560.6 1058.81L1561.21 1059.16L1561.82 1058.99L1562.43 1059.57L1563.04 1059.26L1563.65 1060.07L1564.26 1060.22L1564.87 1060.36L1565.48 1060.36L1566.09 1060.42L1566.7 1060.58L1567.31 1060.88L1567.92 1060.58L1568.53 1061.08L1569.14 1061.19L1569.75 1060.57L1570.36 1060.49L1570.97 1061.24L1571.58 1061.08L1572.19 1060.97L1572.8 1060.86L1573.41 1060.95L1574.02 1060.8L1574.63 1061.27L1575.24 1060.89L1575.85 1060.85L1576.46 1061.42L1577.07 1062L1577.68 1061.92L1578.29 1061.45L1578.9 1061.65L1579.51 1061.44L1580.12 1061.49L1580.73 1061.27L1581.34 1061.55L1581.95 1061.19L1582.56 1061.3L1583.17 1061.51L1583.78 1061.54L1584.39 1062.27L1585 1061.27L1585.61 1061.19L1586.22 1061.79L1586.83 1061.77L1587.44 1061.81L1588.05 1061.53L1588.66 1061.06L1589.27 1061.46L1589.88 1061.14L1590.49 1061.56L1591.1 1062.19L1591.71 1061.48L1592.32 1061.62L1592.93 1061.96L1593.54 1061.13L1594.15 1061.85L1594.76 1061.47L1595.37 1061.35L1595.98 1061.46L1596.59 1061.25L1597.2 1061.89L1597.81 1061.63L1598.42 1061.44L1599.03 1061.76L1599.64 1061.08L1600.25 1060.64L1600.86 1062.05L1601.47 1061.4L1602.08 1061.86L1602.69 1061.29L1603.3 1060.98L1603.91 1061.23L1604.52 1061.92L1605.13 1061.73L1605.74 1061.39L1606.35 1061.84L1606.96 1061.51L1607.57 1061.67L1608.18 1061.24L1608.79 1060.83L1609.4 1061.64L1610.01 1061.85L1610.62 1061.31L1611.23 1062.16L1611.84 1061.71L1612.45 1062.22L1613.06 1061.85L1613.67 1062.04L1614.28 1061.54L1614.89 1061.12L1615.5 1062.39L1616.11 1062.08L1616.72 1061.87L1617.33 1061.31L1617.94 1061.94L1618.55 1061.27L1619.16 1061.81L1619.77 1061.95L1620.38 1061.81L1620.99 1061.29L1621.6 1061.85L1622.21 1061.7L1622.82 1061.83L1623.43 1062.07L1624.04 1061.41L1624.65 1061.35L1625.26 1060.91L1625.87 1062.16L1626.48 1061.36L1627.09 1062.09L1627.7 1061.77L1628.31 1062.06L1628.92 1061.73L1629.53 1061.81L1630.14 1061.57L1630.75 1061.81L1631.36 1061.29L1631.97 1062.01L1632.58 1061.07L1633.19 1061.48L1633.8 1061.52L1634.41 1061.69L1635.02 1061.62L1635.63 1061.32L1636.24 1061.68L1636.85 1060.72L1637.46 1061.41L1638.07 1061.63L1638.68 1061.42L1639.29 1062L1639.9 1061.61L1640.51 1061.83L1641.12 1061.27L1641.73 1061.99L1642.34 1061.92L1642.95 1061.14L1643.56 1062.16L1644.17 1061.27L1644.78 1061.26L1645.39 1061.96L1646 1062.28L1646.61 1061.9L1647.22 1061.62L1647.83 1061.43L1648.44 1061.42L1649.05 1061.75L1649.66 1061.8L1650.27 1061.34L1650.88 1061.85L1651.49 1060.92L1652.1 1061.76L1652.71 1061.37L1653.32 1061.24L1653.93 1062.41L1654.54 1061.9L1655.15 1061.58L1655.76 1061.31L1656.37 1062.18L1656.98 1061.72L1657.59 1061.43L1658.2 1060.87L1658.81 1062.01L1659.42 1061.95L1660.03 1061.87L1660.64 1061.33L1661.25 1061.07L1661.86 1062.09L1662.47 1061.59L1663.08 1061.96L1663.69 1060.82L1664.3 1061.61L1664.91 1061.95L1665.52 1061.69L1666.13 1062.34L1666.74 1062.01L1667.35 1062.07L1667.96 1061.95L1668.57 1061.64L1669.18 1061.44L1669.79 1061.43L1670.4 1062.15L1671.01 1061.65L1671.62 1060.99L1672.23 1061.79L1672.84 1061.75L1673.45 1061.55L1674.06 1061.86L1674.67 1061.41L1675.28 1062.63L1675.89 1061.57L1676.5 1061.39L1677.11 1061.77L1677.72 1061.79L1678.33 1062.03L1678.94 1061.81L1679.55 1061.96L1680.16 1061.74L1680.77 1061.65L1681.38 1061.38L1681.99 1061.49L1682.6 1061.72L1683.21 1061.31L1683.82 1062.02L1684.43 1061.64L1685.04 1062.15L1685.65 1062.03L1686.26 1061.64L1686.87 1062.81L1687.48 1062.24L1688.09 1061.52L1688.7 1061.91L1689.31 1061.55L1689.92 1061.44L1690.53 1061.81L1691.14 1061.59L1691.75 1062.06L1692.36 1061.28L1692.97 1061.86L1693.58 1062.22L1694.19 1061.86L1694.8 1062.43L1695.41 1062.45L1696.02 1061.35L1696.63 1061.64L1697.24 1061.58L1697.85 1062.3L1698.46 1061.6L1699.07 1061.05L1699.68 1061.55L1700.29 1061.66L1700.9 1061.72L1701.51 1061.72L1702.12 1061.79L1702.73 1061.5L1703.34 1061.77L1703.95 1061.62L1704.56 1061.63L1705.17 1061.69L1705.78 1062.08L1706.39 1061.87L1707 1062.01L1707.61 1061.53L1708.22 1061.2L1708.83 1061.73L1709.44 1062.08L1710.05 1061.78L1710.66 1061.61L1711.27 1061.25L1711.88 1061.91L1712.49 1061.51L1713.1 1061.22L1713.71 1061.92L1714.32 1061.82L1714.93 1062.23L1715.54 1061.37L1716.15 1061.32L1716.76 1061.85L1717.37 1062.35L1717.98 1061.87L1718.59 1062.03L1719.2 1061.33L1719.81 1061.91L1720.42 1061.29L1721.03 1061.18L1721.64 1062.06L1722.25 1062.21L1722.86 1061.57L1723.47 1061.88L1724.08 1062.01L1724.69 1061.75L1725.3 1061.84L1725.91 1061.95L1726.52 1061.53L1727.13 1061.45L1727.74 1061.98L1728.35 1062.63L1728.96 1061.7L1729.57 1061.68L1730.18 1062.49L1730.79 1061.61L1731.4 1061.58L1732.01 1062.5L1732.62 1062.08L1733.23 1062.1L1733.84 1061.1L1734.45 1062.29L1735.06 1061.76L1735.67 1062.19L1736.28 1062.04L1736.89 1062.49L1737.5 1062.14L1738.11 1062.49L1738.72 1061.63L1739.33 1062.24L1739.94 1062.07L1740.55 1061.68L1741.16 1061.38L1741.77 1061.79L1742.38 1061.56L1742.99 1061.71L1743.6 1061.69L1744.21 1061.64L1744.82 1061.91L1745.43 1061.92L1746.04 1061.52L1746.65 1061.6L1747.26 1061.95L1747.87 1061.69L1748.48 1061.71L1749.09 1061.55L1749.7 1061.24L1750.31 1061.79L1750.92 1061.52L1751.53 1061.85L1752.14 1061.77L1752.75 1061.74L1753.36 1062.19L1753.97 1061.59L1754.58 1062.28L1755.19 1062L1755.8 1062.81L1756.41 1061.57L1757.02 1061.65L1757.63 1062.02L1758.24 1062.17L1758.85 1061.79L1759.46 1062.17L1760.07 1061.93L1760.68 1061.39L1761.29 1062L1761.9 1062.2L1762.51 1062.04L1763.12 1061.86L1763.73 1061.59L1764.34 1062.16L1764.95 1062.41L1765.56 1061.42L1766.17 1062.12L1766.78 1061.28L1767.39 1061.98L1768 1060.97L1768.61 1061.85L1769.22 1062.14L1769.83 1061.4L1770.44 1061.44L1771.05 1061.95L1771.66 1061.82L1772.27 1062.02L1772.88 1062.4L1773.49 1061.5L1774.1 1062L1774.71 1061.24L1775.32 1060.86L1775.93 1061.57L1776.54 1060.96L1777.15 1062.1L1777.76 1062.23L1778.37 1062.1L1778.98 1061.35L1779.59 1061.65L1780.2 1061.32L1780.81 1061.86L1781.42 1061.57L1782.03 1062.31L1782.64 1062.07L1783.25 1061.49L1783.86 1062.45L1784.47 1062.01L1785.08 1062.24L1785.69 1061.94L1786.3 1062.39L1786.91 1062.34L1787.52 1062.22L1788.13 1062.43L1788.74 1062.16L1789.35 1062.05L1789.96 1061.68L1790.57 1061.2L1791.18 1062.38L1791.79 1062.16L1792.4 1061.56L1793.01 1062.24L1793.62 1062.01L1794.23 1061.98L1794.84 1062.6L1795.45 1062.3L1796.06 1061.47L1796.67 1061.98L1797.28 1062.31L1797.89 1062.35L1798.5 1062.15L1799.11 1061.82L1799.72 1062.09L1800.33 1061.29L1800.94 1062.41L1801.55 1061.94L1802.16 1061.77L1802.77 1061.71L1803.38 1062.02L1803.99 1061.67L1804.6 1061.61L1805.21 1061.62L1805.82 1062.58L1806.43 1061.93L1807.04 1062.15L1807.65 1062.09L1808.26 1061.75L1808.87 1062.24L1809.48 1061.91L1810.09 1061.71L1810.7 1061.61L1811.31 1061.83L1811.92 1061.8L1812.53 1062.45L1813.14 1061.08L1813.75 1062.37L1814.36 1062.49L1814.97 1062.52L1815.58 1061.72L1816.19 1061.68L1816.8 1062.42L1817.41 1062.22L1818.02 1062.09L1818.63 1061.67L1819.24 1061.88L1819.85 1061.56L1820.46 1062.57L1821.07 1062.35L1821.68 1061.83L1822.29 1062.35L1822.9 1062.04L1823.51 1061.27L1824.12 1062.19L1824.73 1061.72L1825.34 1062.1L1825.95 1061.82L1826.56 1061.63L1827.17 1061.87L1827.78 1062.36L1828.39 1061.57L1829 1061.64L1829.61 1061.45L1830.22 1061.77L1830.83 1062.3L1831.44 1062.25L1832.05 1062.19L1832.66 1062.17L1833.27 1062.53L1833.88 1062.53L1834.49 1062.56L1835.1 1061.69" fill="none" stroke="#0a14e6" stroke-width="3.8" stroke-linejoin="round"/>
<path d="M1103.1 1267.4L1103.71 1267.15L1104.32 1268.43L1104.93 1267.34L1105.54 1267.19L1106.15 1267.26L1106.76 1266.87L1107.37 1266.76L1107.98 1267.19L1108.59 1266.79L1109.2 1267.21L1109.81 1266.79L1110.42 1266.17L1111.03 1266.29L1111.64 1266.41L1112.25 1265.94L1112.86 1266.59L1113.47 1266.45L1114.08 1266.84L1114.69 1266.11L1115.3 1266.27L1115.91 1266.5L1116.52 1266.48L1117.13 1265.75L1117.74 1266.6L1118.35 1265.73L1118.96 1266.3L1119.57 1265.65L1120.18 1265.51L1120.79 1265.09L1121.4 1265.39L1122.01 1266.19L1122.62 1264.95L1123.23 1265.61L1123.84 1265.39L1124.45 1264.61L1125.06 1265.01L1125.67 1264.94L1126.28 1264.15L1126.89 1263.88L1127.5 1264.3L1128.11 1263.82L1128.72 1264.26L1129.33 1263.43L1129.94 1262.62L1130.55 1262.79L1131.16 1262.13L1131.77 1262.59L1132.38 1262.32L1132.99 1261.64L1133.6 1261.2L1134.21 1261.59L1134.82 1260.85L1135.43 1261.16L1136.04 1260.07L1136.65 1260.05L1137.26 1259.66L1137.87 1259.19L1138.48 1260.28L1139.09 1259.6L1139.7 1258.47L1140.31 1258.71L1140.92 1257.48L1141.53 1258.33L1142.14 1258L1142.75 1257.23L1143.36 1256.98L1143.97 1256.98L1144.58 1256.84L1145.19 1256.34L1145.8 1255.99L1146.41 1256.04L1147.02 1255.84L1147.63 1256.16L1148.24 1255.81L1148.85 1255.78L1149.46 1255.03L1150.07 1255.46L1150.68 1255.45L1151.29 1255.42L1151.9 1255.6L1152.51 1255.59L1153.12 1255.22L1153.73 1256.22L1154.34 1256.33L1154.95 1255.94L1155.56 1256.52L1156.17 1256.12L1156.78 1256.19L1157.39 1256.79L1158 1257.65L1158.61 1257.27L1159.22 1256.99L1159.83 1257.89L1160.44 1257.85L1161.05 1258.06L1161.66 1258.72L1162.27 1258.22L1162.88 1258.47L1163.49 1258.86L1164.1 1260.07L1164.71 1259.97L1165.32 1259.97L1165.93 1260.2L1166.54 1260.95L1167.15 1261.41L1167.76 1260.92L1168.37 1261.52L1168.98 1262.51L1169.59 1262.08L1170.2 1261.94L1170.81 1262.4L1171.42 1262.53L1172.03 1262.94L1172.64 1263.02L1173.25 1262.9L1173.86 1263.23L1174.47 1263.58L1175.08 1263.36L1175.69 1263.8L1176.3 1263.6L1176.91 1264.53L1177.52 1264.79L1178.13 1264.04L1178.74 1264.79L1179.35 1264.67L1179.96 1264.75L1180.57 1264.73L1181.18 1265.03L1181.79 1265.39L1182.4 1264.66L1183.01 1265.57L1183.62 1265.18L1184.23 1264.95L1184.84 1265.4L1185.45 1265.71L1186.06 1265.5L1186.67 1265.69L1187.28 1265.5L1187.89 1265.47L1188.5 1266.07L1189.11 1265.38L1189.72 1266.11L1190.33 1265.89L1190.94 1265.68L1191.55 1265.64L1192.16 1265.56L1192.77 1265.59L1193.38 1265.52L1193.99 1265.41L1194.6 1264.67L1195.21 1264.52L1195.82 1265.32L1196.43 1264.87L1197.04 1264.79L1197.65 1264.82L1198.26 1264.37L1198.87 1265.22L1199.48 1264.53L1200.09 1264.34L1200.7 1263.89L1201.31 1264.47L1201.92 1264.27L1202.53 1264.41L1203.14 1264.05L1203.75 1263.29L1204.36 1262.98L1204.97 1263.79L1205.58 1262.89L1206.19 1262.95L1206.8 1262.78L1207.41 1262.86L1208.02 1262.72L1208.63 1261.98L1209.24 1261.96L1209.85 1261.39L1210.46 1262.05L1211.07 1261.61L1211.68 1260.88L1212.29 1261.68L1212.9 1261.11L1213.51 1260.53L1214.12 1260.51L1214.73 1260.19L1215.34 1260.15L1215.95 1259.88L1216.56 1259.24L1217.17 1259.21L1217.78 1257.67L1218.39 1257.97L1219 1257.73L1219.61 1257.12L1220.22 1256.2L1220.83 1254.46L1221.44 1252.87L1222.05 1251.63L1222.66 1250.38L1223.27 1246.85L1223.88 1242.92L1224.49 1238.1L1225.1 1233.21L1225.71 1226.24L1226.32 1218.51L1226.93 1208.97L1227.54 1197.3L1228.15 1186.23L1228.76 1173.73L1229.37 1159.83L1229.98 1146.16L1230.59 1133.35L1231.2 1121.91L1231.81 1114.14L1232.42 1108.04L1233.03 1105.35L1233.64 1108.21L1234.25 1113.35L1234.86 1122.75L1235.47 1134.24L1236.08 1147.42L1236.69 1161.33L1237.3 1175.35L1237.91 1187.84L1238.52 1199.51L1239.13 1210.38L1239.74 1219.67L1240.35 1228.04L1240.96 1234.46L1241.57 1240.54L1242.18 1245.23L1242.79 1249.13L1243.4 1251.48L1244.01 1254.31L1244.62 1256.19L1245.23 1257.36L1245.84 1258.24L1246.45 1259.85L1247.06 1261.32L1247.67 1261.75L1248.28 1263.42L1248.89 1263.5L1249.5 1263.68L1250.11 1264.5L1250.72 1265.25L1251.33 1265.77L1251.94 1265.98L1252.55 1266.67L1253.16 1267.97L1253.77 1267.6L1254.38 1267.66L1254.99 1267.73L1255.6 1267.53L1256.21 1268.43L1256.82 1268.43L1257.43 1268.76L1258.04 1268.79L1258.65 1269.48L1259.26 1269.8L1259.87 1269.39L1260.48 1269.37L1261.09 1270.2L1261.7 1270.82L1262.31 1270.7L1262.92 1270.97L1263.53 1270.53L1264.14 1271.08L1264.75 1271.73L1265.36 1271.9L1265.97 1272.01L1266.58 1272.46L1267.19 1272.81L1267.8 1272.78L1268.41 1272.74L1269.02 1272.73L1269.63 1273.54L1270.24 1273.64L1270.85 1273.87L1271.46 1274.55L1272.07 1274.14L1272.68 1274.49L1273.29 1275.02L1273.9 1274.67L1274.51 1274.41L1275.12 1275.16L1275.73 1275.81L1276.34 1275.47L1276.95 1275.75L1277.56 1275.32L1278.17 1276.54L1278.78 1275.61L1279.39 1276.11L1280 1276.39L1280.61 1277.18L1281.22 1276.56L1281.83 1276.31L1282.44 1276.07L1283.05 1276.53L1283.66 1276.25L1284.27 1276.5L1284.88 1276.78L1285.49 1277.25L1286.1 1276.46L1286.71 1277.39L1287.32 1276.26L1287.93 1277.69L1288.54 1276.82L1289.15 1276.97L1289.76 1276.98L1290.37 1277.29L1290.98 1277.24L1291.59 1277.19L1292.2 1277.12L1292.81 1277.23L1293.42 1277.5L1294.03 1277.34L1294.64 1277.35L1295.25 1277.14L1295.86 1277.72L1296.47 1277.94L1297.08 1277.46L1297.69 1278.24L1298.3 1277.93L1298.91 1278.04L1299.52 1277.46L1300.13 1278.34L1300.74 1278.63L1301.35 1278.93L1301.96 1278.09L1302.57 1278.34L1303.18 1278.68L1303.79 1278.67L1304.4 1278.31L1305.01 1278.62L1305.62 1279L1306.23 1278.91L1306.84 1278.75L1307.45 1279.19L1308.06 1278.35L1308.67 1279.09L1309.28 1278.75L1309.89 1278.91L1310.5 1279.38L1311.11 1279.76L1311.72 1279.35L1312.33 1279.28L1312.94 1279.87L1313.55 1279.6L1314.16 1278.6L1314.77 1279.21L1315.38 1279.23L1315.99 1279.27L1316.6 1279.02L1317.21 1279.81L1317.82 1279.68L1318.43 1280.27L1319.04 1279.59L1319.65 1279.76L1320.26 1279.49L1320.87 1280.14L1321.48 1280.25L1322.09 1280.42L1322.7 1280.22L1323.31 1279.67L1323.92 1280.3L1324.53 1279.57L1325.14 1279.68L1325.75 1279.84L1326.36 1280.65L1326.97 1279.68L1327.58 1279.59L1328.19 1280.04L1328.8 1280.38L1329.41 1280.17L1330.02 1280.18L1330.63 1279.71L1331.24 1279.88L1331.85 1280.47L1332.46 1280.08L1333.07 1279.83L1333.68 1279.94L1334.29 1280.55L1334.9 1280.69L1335.51 1280.25L1336.12 1279.83L1336.73 1280.72L1337.34 1279.92L1337.95 1280.2L1338.56 1280.32L1339.17 1280.19L1339.78 1280.15L1340.39 1280.79L1341 1280.35L1341.61 1279.75L1342.22 1280.06L1342.83 1280.74L1343.44 1280.24L1344.05 1279.96L1344.66 1280.65L1345.27 1280.52L1345.88 1280.38L1346.49 1280.58L1347.1 1280.27L1347.71 1280.48L1348.32 1280.64L1348.93 1280.26L1349.54 1280.9L1350.15 1280.12L1350.76 1281.23L1351.37 1280.55L1351.98 1280.67L1352.59 1280.14L1353.2 1280.85L1353.81 1280.3L1354.42 1280.78L1355.03 1280.64L1355.64 1280.37L1356.25 1281.28L1356.86 1280.75L1357.47 1280.53L1358.08 1280.6L1358.69 1280.86L1359.3 1280.78L1359.91 1281.08L1360.52 1280.6L1361.13 1280.9L1361.74 1280.67L1362.35 1280.61L1362.96 1281.16L1363.57 1280.61L1364.18 1280.35L1364.79 1281.16L1365.4 1280.77L1366.01 1281.17L1366.62 1281.17L1367.23 1281.19L1367.84 1281.06L1368.45 1281.59L1369.06 1280.7L1369.67 1281.49L1370.28 1281.06L1370.89 1281.23L1371.5 1281L1372.11 1281.46L1372.72 1281.35L1373.33 1281.05L1373.94 1281.24L1374.55 1281.4L1375.16 1281.21L1375.77 1282.13L1376.38 1281.49L1376.99 1281.17L1377.6 1281.68L1378.21 1281.44L1378.82 1281.19L1379.43 1281.26L1380.04 1280.85L1380.65 1281.68L1381.26 1281.96L1381.87 1281.42L1382.48 1281.19L1383.09 1280.89L1383.7 1281.08L1384.31 1281.52L1384.92 1281.31L1385.53 1281.49L1386.14 1281.27L1386.75 1281.52L1387.36 1281.52L1387.97 1281.67L1388.58 1281.66L1389.19 1281.71L1389.8 1281.37L1390.41 1281.57L1391.02 1281.26L1391.63 1281.52L1392.24 1281.7L1392.85 1281.87L1393.46 1281.27L1394.07 1281.42L1394.68 1281.58L1395.29 1281.36L1395.9 1281.69L1396.51 1281.73L1397.12 1281.56L1397.73 1282.38L1398.34 1281.69L1398.95 1281.93L1399.56 1281.24L1400.17 1282.15L1400.78 1281.99L1401.39 1281.96L1402 1281.16L1402.61 1281.89L1403.22 1281.68L1403.83 1282.06L1404.44 1281.92L1405.05 1281.76L1405.66 1281.79L1406.27 1282.38L1406.88 1282.35L1407.49 1281.38L1408.1 1281.83L1408.71 1282.2L1409.32 1281.84L1409.93 1282.09L1410.54 1281.87L1411.15 1282.54L1411.76 1282.23L1412.37 1281.92L1412.98 1282.47L1413.59 1282.2L1414.2 1282.56L1414.81 1281.82L1415.42 1281.46L1416.03 1282.25L1416.64 1281.99L1417.25 1281.37L1417.86 1280.65L1418.47 1282.01L1419.08 1282L1419.69 1281.7L1420.3 1281.81L1420.91 1282.01L1421.52 1281.49L1422.13 1282.4L1422.74 1281.52L1423.35 1281.98L1423.96 1281.97L1424.57 1281.79L1425.18 1281.7L1425.79 1282.26L1426.4 1281.41L1427.01 1281.96L1427.62 1282.52L1428.23 1281.69L1428.84 1281.43L1429.45 1281.79L1430.06 1280.94L1430.67 1281.69L1431.28 1281.55L1431.89 1281.66L1432.5 1281.64L1433.11 1282.15L1433.72 1281.96L1434.33 1281.59L1434.94 1282.39L1435.55 1281.61L1436.16 1282.45L1436.77 1281.77L1437.38 1281.62L1437.99 1281.78L1438.6 1282.43L1439.21 1281.98L1439.82 1281.93L1440.43 1281.36L1441.04 1281.92L1441.65 1281.82L1442.26 1281.8L1442.87 1281.66L1443.48 1281.38L1444.09 1282.37L1444.7 1281.59L1445.31 1282.13L1445.92 1282.12L1446.53 1281.98L1447.14 1281.97L1447.75 1282.14L1448.36 1281.8L1448.97 1281.89L1449.58 1282.03L1450.19 1281.98L1450.8 1281.81L1451.41 1280.98L1452.02 1281.9L1452.63 1281.48L1453.24 1282.31L1453.85 1282.34L1454.46 1281.99L1455.07 1281.99L1455.68 1281.2L1456.29 1281.84L1456.9 1281.63L1457.51 1282.54L1458.12 1281.44L1458.73 1282.68L1459.34 1281.83L1459.95 1281.18L1460.56 1282.52L1461.17 1281.82L1461.78 1282.02L1462.39 1282.28L1463 1281.34L1463.61 1281.72L1464.22 1281.93L1464.83 1282.33L1465.44 1281.82L1466.05 1282.09L1466.66 1281.27L1467.27 1282.06L1467.88 1281.56L1468.49 1281.76L1469.1 1281.91L1469.71 1282.19L1470.32 1281.64L1470.93 1282.02L1471.54 1281.76L1472.15 1282.09L1472.76 1281.71L1473.37 1282.36L1473.98 1281.5L1474.59 1281.5L1475.2 1282.31L1475.81 1281.61L1476.42 1282.09L1477.03 1282.1L1477.64 1281.27L1478.25 1281.75L1478.86 1281.69L1479.47 1281.81L1480.08 1281.33L1480.69 1281.91L1481.3 1281.92L1481.91 1281.46L1482.52 1281.85L1483.13 1281.92L1483.74 1281.24L1484.35 1281.81L1484.96 1282.15L1485.57 1282.1L1486.18 1281.45L1486.79 1281.56L1487.4 1281.84L1488.01 1281.97L1488.62 1282.11L1489.23 1281.85L1489.84 1282.1L1490.45 1281.59L1491.06 1282.46L1491.67 1281.75L1492.28 1281.48L1492.89 1281.61L1493.5 1281.18L1494.11 1281.54L1494.72 1281.7L1495.33 1281.97L1495.94 1282.19L1496.55 1281.5L1497.16 1281.54L1497.77 1282.04L1498.38 1282.15L1498.99 1282.05L1499.6 1281.88L1500.21 1281.38L1500.82 1281.59L1501.43 1281.24L1502.04 1281.53L1502.65 1282.21L1503.26 1282.32L1503.87 1281.67L1504.48 1281.98L1505.09 1282.24L1505.7 1281.39L1506.31 1281.28L1506.92 1281.53L1507.53 1281.02L1508.14 1281.99L1508.75 1281.72L1509.36 1281.64L1509.97 1281.76L1510.58 1281.91L1511.19 1281.73L1511.8 1281.31L1512.41 1281.95L1513.02 1281.54L1513.63 1281.82L1514.24 1281.48L1514.85 1281.72L1515.46 1281.17L1516.07 1281.75L1516.68 1281.6L1517.29 1282.07L1517.9 1281.41L1518.51 1281.38L1519.12 1281.93L1519.73 1280.99L1520.34 1281.89L1520.95 1281.64L1521.56 1281.5L1522.17 1281.69L1522.78 1281.56L1523.39 1281.33L1524 1281.89L1524.61 1281.32L1525.22 1281.67L1525.83 1281.55L1526.44 1281.35L1527.05 1281.38L1527.66 1281.69L1528.27 1281.46L1528.88 1282.04L1529.49 1281.86L1530.1 1281.39L1530.71 1281.88L1531.32 1280.7L1531.93 1282.1L1532.54 1281.03L1533.15 1281.02L1533.76 1281.83L1534.37 1280.86L1534.98 1281.14L1535.59 1281.48L1536.2 1280.62L1536.81 1281.25L1537.42 1281.58L1538.03 1280.97L1538.64 1281.68L1539.25 1280.8L1539.86 1281.53L1540.47 1281.1L1541.08 1280.91L1541.69 1280.67L1542.3 1280.27L1542.91 1280.81L1543.52 1279.8L1544.13 1279.88L1544.74 1279.61L1545.35 1278.69L1545.96 1277.39L1546.57 1274.73L1547.18 1271.12L1547.79 1266.8L1548.4 1260.25L1549.01 1252.95L1549.62 1243.56L1550.23 1236.56L1550.84 1231.38L1551.45 1229.72L1552.06 1232.41L1552.67 1239.47L1553.28 1247.95L1553.89 1255.56L1554.5 1262.74L1555.11 1268.5L1555.72 1272.74L1556.33 1275.34L1556.94 1278.9L1557.55 1278.85L1558.16 1280.03L1558.77 1280.46L1559.38 1280.14L1559.99 1280.74L1560.6 1281.34L1561.21 1281.3L1561.82 1281.29L1562.43 1280.78L1563.04 1280.88L1563.65 1281.19L1564.26 1281.77L1564.87 1281.04L1565.48 1281.57L1566.09 1281.78L1566.7 1281.69L1567.31 1281.44L1567.92 1281.25L1568.53 1281.74L1569.14 1281.41L1569.75 1281.68L1570.36 1281.39L1570.97 1281.4L1571.58 1281.44L1572.19 1281.26L1572.8 1281.95L1573.41 1281.16L1574.02 1281.79L1574.63 1281.51L1575.24 1281.85L1575.85 1281.11L1576.46 1281.69L1577.07 1281.72L1577.68 1282.2L1578.29 1282.07L1578.9 1281.86L1579.51 1281.71L1580.12 1281.76L1580.73 1282.11L1581.34 1282.21L1581.95 1281.97L1582.56 1282.19L1583.17 1281.25L1583.78 1282.11L1584.39 1282.48L1585 1281.83L1585.61 1281.59L1586.22 1282.28L1586.83 1281.16L1587.44 1282.23L1588.05 1281.41L1588.66 1281.99L1589.27 1281.42L1589.88 1282.35L1590.49 1281.85L1591.1 1281.63L1591.71 1281.83L1592.32 1282.32L1592.93 1282.38L1593.54 1281.93L1594.15 1281.78L1594.76 1282.38L1595.37 1281.91L1595.98 1281.67L1596.59 1282.54L1597.2 1281.32L1597.81 1281.99L1598.42 1282.44L1599.03 1282.04L1599.64 1281.98L1600.25 1282.22L1600.86 1281.56L1601.47 1281.9L1602.08 1281.89L1602.69 1282.26L1603.3 1282.07L1603.91 1281.95L1604.52 1282.35L1605.13 1282.39L1605.74 1281.51L1606.35 1282.82L1606.96 1282.06L1607.57 1281.77L1608.18 1282.53L1608.79 1281.09L1609.4 1281.52L1610.01 1282.04L1610.62 1281.72L1611.23 1281.54L1611.84 1281.86L1612.45 1282.47L1613.06 1281.97L1613.67 1282.25L1614.28 1282.22L1614.89 1281.96L1615.5 1281.98L1616.11 1281.74L1616.72 1282.05L1617.33 1282.25L1617.94 1281.91L1618.55 1281.96L1619.16 1282.15L1619.77 1282.01L1620.38 1282.09L1620.99 1281.35L1621.6 1282.12L1622.21 1281.43L1622.82 1282.2L1623.43 1281.93L1624.04 1281.84L1624.65 1281.57L1625.26 1282.31L1625.87 1281.85L1626.48 1281.84L1627.09 1281.35L1627.7 1282.53L1628.31 1281.81L1628.92 1281.71L1629.53 1282.4L1630.14 1282.19L1630.75 1281.16L1631.36 1281.96L1631.97 1282.52L1632.58 1281.92L1633.19 1281.75L1633.8 1282.29L1634.41 1282.26L1635.02 1281.7L1635.63 1281.78L1636.24 1281.82L1636.85 1281.83L1637.46 1281.57L1638.07 1281.77L1638.68 1282.24L1639.29 1281.48L1639.9 1282.36L1640.51 1282.18L1641.12 1282.27L1641.73 1282.28L1642.34 1281.73L1642.95 1281.48L1643.56 1282.4L1644.17 1282L1644.78 1282.16L1645.39 1282.35L1646 1281.57L1646.61 1281.99L1647.22 1282L1647.83 1281.68L1648.44 1281.72L1649.05 1282.02L1649.66 1282.14L1650.27 1282.45L1650.88 1282.32L1651.49 1282.51L1652.1 1281.86L1652.71 1282.1L1653.32 1282L1653.93 1281.91L1654.54 1281.83L1655.15 1282.46L1655.76 1282.51L1656.37 1282.02L1656.98 1281.08L1657.59 1281.6L1658.2 1281.71L1658.81 1282.56L1659.42 1282.36L1660.03 1281.9L1660.64 1282.23L1661.25 1282.09L1661.86 1281.94L1662.47 1281.93L1663.08 1281.65L1663.69 1281.62L1664.3 1281.91L1664.91 1281.59L1665.52 1282.08L1666.13 1281.85L1666.74 1281.66L1667.35 1282.07L1667.96 1281.68L1668.57 1281.82L1669.18 1281.62L1669.79 1282.15L1670.4 1281.97L1671.01 1281.86L1671.62 1281.85L1672.23 1282.08L1672.84 1281.75L1673.45 1281.29L1674.06 1282.49L1674.67 1281.94L1675.28 1282.16L1675.89 1281.6L1676.5 1281.35L1677.11 1281.51L1677.72 1282.08L1678.33 1281.74L1678.94 1281.81L1679.55 1281.71L1680.16 1281.33L1680.77 1282.42L1681.38 1281.53L1681.99 1281.52L1682.6 1281.46L1683.21 1281.95L1683.82 1282.26L1684.43 1281.9L1685.04 1281.97L1685.65 1281.74L1686.26 1282.28L1686.87 1281.9L1687.48 1281.95L1688.09 1281.45L1688.7 1282.22L1689.31 1282.03L1689.92 1281.63L1690.53 1281.56L1691.14 1281.93L1691.75 1281.36L1692.36 1281.81L1692.97 1281.5L1693.58 1281.41L1694.19 1282.13L1694.8 1281.4L1695.41 1281.14L1696.02 1282.25L1696.63 1281.53L1697.24 1282.11L1697.85 1281.74L1698.46 1281.4L1699.07 1281.18L1699.68 1281.65L1700.29 1281.81L1700.9 1281.49L1701.51 1281.57L1702.12 1281.43L1702.73 1281.65L1703.34 1281.73L1703.95 1281.6L1704.56 1280.99L1705.17 1281.39L1705.78 1281.52L1706.39 1281.49L1707 1281.01L1707.61 1281.44L1708.22 1281.11L1708.83 1281.06L1709.44 1281.75L1710.05 1281.29L1710.66 1281.99L1711.27 1281.97L1711.88 1280.95L1712.49 1281.67L1713.1 1281.06L1713.71 1281.77L1714.32 1281.93L1714.93 1282.03L1715.54 1281.98L1716.15 1281.08L1716.76 1281.63L1717.37 1281.03L1717.98 1281.69L1718.59 1281.81L1719.2 1281.47L1719.81 1281.81L1720.42 1281.23L1721.03 1281.34L1721.64 1281.1L1722.25 1280.88L1722.86 1281.52L1723.47 1281.49L1724.08 1281.13L1724.69 1281.18L1725.3 1280.95L1725.91 1281.7L1726.52 1281.65L1727.13 1281.27L1727.74 1281.31L1728.35 1281.29L1728.96 1281.13L1729.57 1281.55L1730.18 1281.75L1730.79 1280.72L1731.4 1281.7L1732.01 1281.1L1732.62 1281.27L1733.23 1280.9L1733.84 1281.2L1734.45 1281.33L1735.06 1281.27L1735.67 1282.24L1736.28 1281.22L1736.89 1281.26L1737.5 1281.24L1738.11 1281.49L1738.72 1281.58L1739.33 1281.58L1739.94 1281.31L1740.55 1281.39L1741.16 1280.51L1741.77 1281.33L1742.38 1280.96L1742.99 1281.38L1743.6 1281.09L1744.21 1281.47L1744.82 1281.17L1745.43 1281.48L1746.04 1280.57L1746.65 1281.6L1747.26 1280.78L1747.87 1281.79L1748.48 1280.75L1749.09 1281.24L1749.7 1280.89L1750.31 1281.27L1750.92 1281.57L1751.53 1280.91L1752.14 1281.32L1752.75 1281.48L1753.36 1280.84L1753.97 1281.47L1754.58 1280.99L1755.19 1281.37L1755.8 1280.8L1756.41 1282.22L1757.02 1281.12L1757.63 1280.46L1758.24 1281.3L1758.85 1281.03L1759.46 1280.59L1760.07 1281.01L1760.68 1280.7L1761.29 1281.16L1761.9 1280.78L1762.51 1280.74L1763.12 1281.16L1763.73 1281.2L1764.34 1281.08L1764.95 1281.18L1765.56 1281.04L1766.17 1281.17L1766.78 1281.47L1767.39 1281.38L1768 1281.24L1768.61 1281.57L1769.22 1280.46L1769.83 1281.36L1770.44 1280.37L1771.05 1280.78L1771.66 1280.7L1772.27 1281.18L1772.88 1281.49L1773.49 1280.78L1774.1 1280.36L1774.71 1281.31L1775.32 1280.92L1775.93 1280.49L1776.54 1281.7L1777.15 1281.1L1777.76 1281.02L1778.37 1281L1778.98 1280.84L1779.59 1281.15L1780.2 1280.97L1780.81 1281.35L1781.42 1280.41L1782.03 1280.92L1782.64 1281.29L1783.25 1280.52L1783.86 1281.16L1784.47 1280.63L1785.08 1281.24L1785.69 1281.34L1786.3 1281.11L1786.91 1280.89L1787.52 1280.63L1788.13 1280.65L1788.74 1280.97L1789.35 1280.86L1789.96 1280.54L1790.57 1280.91L1791.18 1280.46L1791.79 1281.27L1792.4 1281.13L1793.01 1280.84L1793.62 1281.22L1794.23 1280.75L1794.84 1281.31L1795.45 1280.87L1796.06 1280.38L1796.67 1280.14L1797.28 1281.45L1797.89 1280.24L1798.5 1280.77L1799.11 1281.1L1799.72 1280.69L1800.33 1280.48L1800.94 1280.71L1801.55 1280.85L1802.16 1280.83L1802.77 1280.95L1803.38 1280.39L1803.99 1281.15L1804.6 1280.86L1805.21 1281.02L1805.82 1281.06L1806.43 1280.92L1807.04 1280.34L1807.65 1280.49L1808.26 1280.47L1808.87 1280.38L1809.48 1280.52L1810.09 1280.13L1810.7 1280.73L1811.31 1280.7L1811.92 1281.07L1812.53 1280.54L1813.14 1281.3L1813.75 1280.67L1814.36 1280.59L1814.97 1280.72L1815.58 1281.19L1816.19 1281.03L1816.8 1280.79L1817.41 1280.68L1818.02 1280.52L1818.63 1280.22L1819.24 1280.61L1819.85 1280.55L1820.46 1281.22L1821.07 1280.51L1821.68 1281.11L1822.29 1280.69L1822.9 1280.53L1823.51 1280.87L1824.12 1279.89L1824.73 1279.99L1825.34 1281.26L1825.95 1280.76L1826.56 1280.77L1827.17 1280.57L1827.78 1280.67L1828.39 1280.59L1829 1280.59L1829.61 1280.69L1830.22 1280.71L1830.83 1280.81L1831.44 1280.26L1832.05 1280.47L1832.66 1281.18L1833.27 1280.48L1833.88 1280.72L1834.49 1280.66L1835.1 1280.48" fill="none" stroke="#f01418" stroke-width="3.8" stroke-linejoin="round"/>
<rect x="1103.1" y="782.4" width="732.5" height="544.9" fill="none" stroke="#000" stroke-width="3.9"/>
<path d="M1103.1 1327.3V1334M1115.3 1327.3V1334M1127.5 1327.3V1334M1139.7 1327.3V1334M1151.9 1327.3V1334M1164.1 1327.3V1338.8M1176.3 1327.3V1334M1188.5 1327.3V1334M1200.7 1327.3V1334M1212.9 1327.3V1334M1225.1 1327.3V1334M1237.3 1327.3V1334M1249.5 1327.3V1334M1261.7 1327.3V1334M1273.9 1327.3V1334M1286.1 1327.3V1338.8M1298.3 1327.3V1334M1310.5 1327.3V1334M1322.7 1327.3V1334M1334.9 1327.3V1334M1347.1 1327.3V1334M1359.3 1327.3V1334M1371.5 1327.3V1334M1383.7 1327.3V1334M1395.9 1327.3V1334M1408.1 1327.3V1338.8M1420.3 1327.3V1334M1432.5 1327.3V1334M1444.7 1327.3V1334M1456.9 1327.3V1334M1469.1 1327.3V1334M1481.3 1327.3V1334M1493.5 1327.3V1334M1505.7 1327.3V1334M1517.9 1327.3V1334M1530.1 1327.3V1338.8M1542.3 1327.3V1334M1554.5 1327.3V1334M1566.7 1327.3V1334M1578.9 1327.3V1334M1591.1 1327.3V1334M1603.3 1327.3V1334M1615.5 1327.3V1334M1627.7 1327.3V1334M1639.9 1327.3V1334M1652.1 1327.3V1338.8M1664.3 1327.3V1334M1676.5 1327.3V1334M1688.7 1327.3V1334M1700.9 1327.3V1334M1713.1 1327.3V1334M1725.3 1327.3V1334M1737.5 1327.3V1334M1749.7 1327.3V1334M1761.9 1327.3V1334M1774.1 1327.3V1338.8M1786.3 1327.3V1334M1798.5 1327.3V1334M1810.7 1327.3V1334M1822.9 1327.3V1334M1835.1 1327.3V1334" stroke="#000" stroke-width="3.2" fill="none"/>
<text x="1164.1" y="1369.9" text-anchor="middle" font-family="'Liberation Sans', Arial, sans-serif" font-weight="bold" font-size="32">200</text>
<text x="1286.1" y="1369.9" text-anchor="middle" font-family="'Liberation Sans', Arial, sans-serif" font-weight="bold" font-size="32">300</text>
<text x="1408.1" y="1369.9" text-anchor="middle" font-family="'Liberation Sans', Arial, sans-serif" font-weight="bold" font-size="32">400</text>
<text x="1530.1" y="1369.9" text-anchor="middle" font-family="'Liberation Sans', Arial, sans-serif" font-weight="bold" font-size="32">500</text>
<text x="1652.1" y="1369.9" text-anchor="middle" font-family="'Liberation Sans', Arial, sans-serif" font-weight="bold" font-size="32">600</text>
<text x="1774.1" y="1369.9" text-anchor="middle" font-family="'Liberation Sans', Arial, sans-serif" font-weight="bold" font-size="32">700</text>
<text x="1318.6" y="1416.9" font-family="'Liberation Sans', Arial, sans-serif" font-weight="bold" font-size="34.2">Raman Shift (cm<tspan font-size="24" dx="1" dy="-13.5">-1</tspan><tspan dx="1" dy="13.5">)</tspan></text>
<text transform="translate(1061.5 1077.1) rotate(-90)" text-anchor="middle" font-family="'Liberation Sans', Arial, sans-serif" font-weight="bold" font-size="34.5">Intensity (arbitrary unit)</text>
<text x="1571.8" y="1037.5" font-family="'Liberation Sans', Arial, sans-serif" font-weight="bold" font-size="32.2" fill="#0a14e6">Cu<tspan font-size="21" dy="7.6">2</tspan><tspan dy="-7.6">Se on glass</tspan></text>
<text x="1599.4" y="1259.3" font-family="'Liberation Sans', Arial, sans-serif" font-weight="bold" font-size="32.2" fill="#f01418">Cu<tspan font-size="21" dy="7.6">2</tspan><tspan dy="-7.6">Se on Si</tspan></text>
<text x="1253" y="847.6" font-family="'Liberation Sans', Arial, sans-serif" font-weight="bold" font-style="italic" font-size="33" fill="#0d800d">A<tspan font-size="23" dx="1.5" dy="11.2">g</tspan></text>
<text x="1252.4" y="1122.2" font-family="'Liberation Sans', Arial, sans-serif" font-weight="bold" font-style="italic" font-size="33" fill="#0d800d">A<tspan font-size="23" dx="1.5" dy="11.2">g</tspan></text>
<text x="17.4" y="57.6" font-family="'Liberation Serif', 'Times New Roman', serif" font-weight="bold" font-size="60">(a)</text>
<text x="979.4" y="57.6" font-family="'Liberation Serif', 'Times New Roman', serif" font-weight="bold" font-size="60">(b)</text>
<text x="15.6" y="784.3" font-family="'Liberation Serif', 'Times New Roman', serif" font-weight="bold" font-size="60">(c)</text>
<text x="979" y="784.3" font-family="'Liberation Serif', 'Times New Roman', serif" font-weight="bold" font-size="60">(d)</text>
</svg></body></html>
